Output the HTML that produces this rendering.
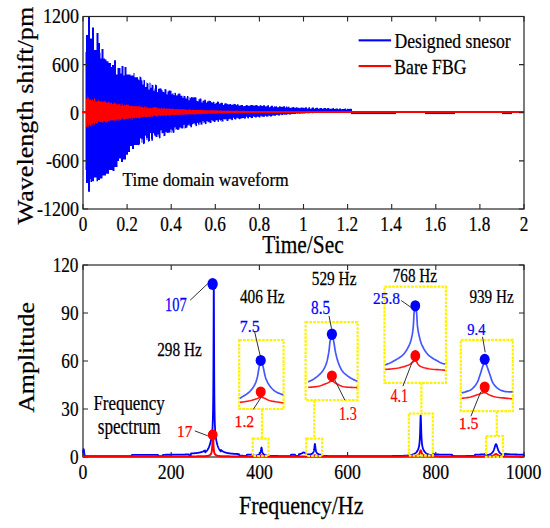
<!DOCTYPE html><html><head><meta charset="utf-8"><style>html,body{margin:0;padding:0;background:#fff;width:550px;height:528px;overflow:hidden;position:relative}svg text{font-family:"Liberation Serif",serif}</style></head><body><svg width="550" height="528" viewBox="0 0 550 528" style="position:absolute;left:0;top:0;font-family:'Liberation Serif', serif">
<rect width="550" height="528" fill="#fff"/>
<polygon points="85.50,52.00 86.00,52.00 86.00,35.00 86.50,35.00 86.50,35.00 87.00,35.00 87.00,35.00 87.50,35.00 87.50,35.00 88.00,35.00 88.00,16.50 88.50,16.50 88.50,16.50 89.00,16.50 89.00,16.50 89.50,16.50 89.50,16.50 90.00,16.50 90.00,38.40 90.50,38.40 90.50,38.40 91.00,38.40 91.00,38.40 91.50,38.40 91.50,38.40 92.00,38.40 92.00,27.40 92.50,27.40 92.50,27.40 93.00,27.40 93.00,27.40 93.50,27.40 93.50,27.40 94.00,27.40 94.00,50.00 94.50,50.00 94.50,50.00 95.00,50.00 95.00,50.00 95.50,50.00 95.50,50.00 96.00,50.00 96.00,50.00 96.50,50.00 96.50,33.00 97.00,33.00 97.00,33.00 97.50,33.00 97.50,33.00 98.00,33.00 98.00,33.00 98.50,33.00 98.50,43.00 99.00,43.00 99.00,43.00 99.50,43.00 99.50,43.00 100.00,43.00 100.00,52.70 100.50,52.70 100.50,58.40 101.00,58.40 101.00,58.40 101.50,58.40 101.50,48.90 102.00,48.90 102.00,48.90 102.50,48.90 102.50,48.90 103.00,48.90 103.00,48.90 103.50,48.90 103.50,58.40 104.00,58.40 104.00,58.40 104.50,58.40 104.50,58.40 105.00,58.40 105.00,59.50 105.50,59.50 105.50,59.50 106.00,59.50 106.00,59.50 106.50,59.50 106.50,61.20 107.00,61.20 107.00,61.20 107.50,61.20 107.50,61.20 108.00,61.20 108.00,61.20 108.50,61.20 108.50,63.10 109.00,63.10 109.00,63.10 109.50,63.10 109.50,63.10 110.00,63.10 110.00,63.10 110.50,63.10 110.50,63.10 111.00,63.10 111.00,67.00 111.50,67.00 111.50,67.00 112.00,67.00 112.00,65.00 112.50,65.00 112.50,65.00 113.00,65.00 113.00,65.00 113.50,65.00 113.50,65.00 114.00,65.00 114.00,60.30 114.50,60.30 114.50,60.30 115.00,60.30 115.00,60.30 115.50,60.30 115.50,60.30 116.00,60.30 116.00,74.50 116.50,74.50 116.50,74.50 117.00,74.50 117.00,74.50 117.50,74.50 117.50,67.90 118.00,67.90 118.00,67.90 118.50,67.90 118.50,67.90 119.00,67.90 119.00,67.90 119.50,67.90 119.50,67.90 120.00,67.90 120.00,67.90 120.50,67.90 120.50,73.60 121.00,73.60 121.00,73.60 121.50,73.60 121.50,66.00 122.00,66.00 122.00,66.00 122.50,66.00 122.50,66.00 123.00,66.00 123.00,66.00 123.50,66.00 123.50,75.40 124.00,75.40 124.00,75.40 124.50,75.40 124.50,67.00 125.00,67.00 125.00,67.00 125.50,67.00 125.50,67.00 126.00,67.00 126.00,67.00 126.50,67.00 126.50,74.50 127.00,74.50 127.00,74.50 127.50,74.50 127.50,74.50 128.00,74.50 128.00,74.50 128.50,74.50 128.50,74.50 129.00,74.50 129.00,74.50 129.50,74.50 129.50,74.50 130.00,74.50 130.00,74.50 130.50,74.50 130.50,75.50 131.00,75.50 131.00,75.50 131.50,75.50 131.50,75.50 132.00,75.50 132.00,75.50 132.50,75.50 132.50,75.50 133.00,75.50 133.00,75.50 133.50,75.50 133.50,73.00 134.00,73.00 134.00,73.00 134.50,73.00 134.50,77.30 135.00,77.30 135.00,77.30 135.50,77.30 135.50,77.30 136.00,77.30 136.00,77.30 136.50,77.30 136.50,77.30 137.00,77.30 137.00,77.30 137.50,77.30 137.50,77.30 138.00,77.30 138.00,78.74 138.50,78.74 138.50,80.04 139.00,80.04 139.00,80.29 139.50,80.29 139.50,76.55 140.00,76.55 140.00,76.83 140.50,76.83 140.50,77.11 141.00,77.11 141.00,77.39 141.50,77.39 141.50,80.33 142.00,80.33 142.00,80.58 142.50,80.58 142.50,84.40 143.00,84.40 143.00,84.62 143.50,84.62 143.50,79.63 144.00,79.63 144.00,79.88 144.50,79.88 144.50,80.14 145.00,80.14 145.00,86.88 145.50,86.88 145.50,87.08 146.00,87.08 146.00,87.10 146.50,87.10 146.50,82.57 147.00,82.57 147.00,82.96 147.50,82.96 147.50,83.19 148.00,83.19 148.00,83.42 148.50,83.42 148.50,89.56 149.00,89.56 149.00,89.73 149.50,89.73 149.50,82.62 150.00,82.62 150.00,82.85 150.50,82.85 150.50,87.67 151.00,87.67 151.00,87.86 151.50,87.86 151.50,84.59 152.00,84.59 152.00,84.80 152.50,84.80 152.50,85.02 153.00,85.02 153.00,85.23 153.50,85.23 153.50,90.63 154.00,90.63 154.00,90.80 154.50,90.80 154.50,88.59 155.00,88.59 155.00,84.57 155.50,84.57 155.50,84.78 156.00,84.78 156.00,85.00 156.50,85.00 156.50,85.21 157.00,85.21 157.00,92.12 157.50,92.12 157.50,92.27 158.00,92.27 158.00,88.45 158.50,88.45 158.50,88.94 159.00,88.94 159.00,89.12 159.50,89.12 159.50,88.00 160.00,88.00 160.00,88.23 160.50,88.23 160.50,88.42 161.00,88.42 161.00,88.60 161.50,88.60 161.50,89.72 162.00,89.72 162.00,89.89 162.50,89.89 162.50,91.69 163.00,91.69 163.00,91.85 163.50,91.85 163.50,92.05 164.00,92.05 164.00,92.20 164.50,92.20 164.50,88.90 165.00,88.90 165.00,89.08 165.50,89.08 165.50,89.26 166.00,89.26 166.00,89.44 166.50,89.44 166.50,94.29 167.00,94.29 167.00,94.43 167.50,94.43 167.50,91.40 168.00,91.40 168.00,91.56 168.50,91.56 168.50,90.60 169.00,90.60 169.00,90.77 169.50,90.77 169.50,90.31 170.00,90.31 170.00,90.48 170.50,90.48 170.50,90.65 171.00,90.65 171.00,90.82 171.50,90.82 171.50,94.15 172.00,94.15 172.00,94.29 172.50,94.29 172.50,93.01 173.00,93.01 173.00,93.16 173.50,93.16 173.50,95.12 174.00,95.12 174.00,95.25 174.50,95.25 174.50,92.69 175.00,92.69 175.00,92.84 175.50,92.84 175.50,93.00 176.00,93.00 176.00,95.42 176.50,95.42 176.50,95.28 177.00,95.28 177.00,95.41 177.50,95.41 177.50,93.99 178.00,93.99 178.00,94.13 178.50,94.13 178.50,93.33 179.00,93.33 179.00,93.47 179.50,93.47 179.50,93.62 180.00,93.62 180.00,93.76 180.50,93.76 180.50,95.80 181.00,95.80 181.00,95.92 181.50,95.92 181.50,95.50 182.00,95.50 182.00,95.63 182.50,95.63 182.50,97.72 183.00,97.72 183.00,97.83 183.50,97.83 183.50,95.81 184.00,95.81 184.00,95.94 184.50,95.94 184.50,96.06 185.00,96.06 185.00,96.19 185.50,96.19 185.50,98.60 186.00,98.60 186.00,98.70 186.50,98.70 186.50,97.43 187.00,97.43 187.00,95.99 187.50,95.99 187.50,96.12 188.00,96.12 188.00,96.24 188.50,96.24 188.50,100.25 189.00,100.25 189.00,100.34 189.50,100.34 189.50,97.48 190.00,97.48 190.00,97.60 190.50,97.60 190.50,98.35 191.00,98.35 191.00,97.03 191.50,97.03 191.50,97.15 192.00,97.15 192.00,97.26 192.50,97.26 192.50,97.38 193.00,97.38 193.00,97.49 193.50,97.49 193.50,97.29 194.00,97.29 194.00,97.40 194.50,97.40 194.50,97.10 195.00,97.10 195.00,97.21 195.50,97.21 195.50,97.33 196.00,97.33 196.00,97.44 196.50,97.44 196.50,100.81 197.00,100.81 197.00,100.90 197.50,100.90 197.50,101.29 198.00,101.29 198.00,101.38 198.50,101.38 198.50,99.36 199.00,99.36 199.00,99.46 199.50,99.46 199.50,98.41 200.00,98.41 200.00,98.52 200.50,98.52 200.50,98.62 201.00,98.62 201.00,98.73 201.50,98.73 201.50,102.42 202.00,102.42 202.00,102.49 202.50,102.49 202.50,100.77 203.00,100.77 203.00,100.86 203.50,100.86 203.50,100.43 204.00,100.43 204.00,100.52 204.50,100.52 204.50,99.56 205.00,99.56 205.00,99.66 205.50,99.66 205.50,99.76 206.00,99.76 206.00,102.60 206.50,102.60 206.50,102.67 207.00,102.67 207.00,101.34 207.50,101.34 207.50,101.45 208.00,101.45 208.00,101.53 208.50,101.53 208.50,100.60 209.00,100.60 209.00,100.70 209.50,100.70 209.50,100.79 210.00,100.79 210.00,100.88 210.50,100.88 210.50,100.96 211.00,100.96 211.00,102.11 211.50,102.11 211.50,102.45 212.00,102.45 212.00,102.52 212.50,102.52 212.50,102.42 213.00,102.42 213.00,101.72 213.50,101.72 213.50,101.80 214.00,101.80 214.00,101.88 214.50,101.88 214.50,103.90 215.00,103.90 215.00,103.96 215.50,103.96 215.50,103.05 216.00,103.05 216.00,103.12 216.50,103.12 216.50,102.85 217.00,102.85 217.00,101.54 217.50,101.54 217.50,101.62 218.00,101.62 218.00,101.70 218.50,101.70 218.50,101.78 219.00,101.78 219.00,103.80 219.50,103.80 219.50,103.48 220.00,103.48 220.00,103.55 220.50,103.55 220.50,102.69 221.00,102.69 221.00,102.66 221.50,102.66 221.50,102.74 222.00,102.74 222.00,102.81 222.50,102.81 222.50,102.88 223.00,102.88 223.00,105.05 223.50,105.05 223.50,105.11 224.00,105.11 224.00,104.16 224.50,104.16 224.50,103.16 225.00,103.16 225.00,103.23 225.50,103.23 225.50,103.30 226.00,103.30 226.00,103.37 226.50,103.37 226.50,103.80 227.00,103.80 227.00,103.86 227.50,103.86 227.50,104.20 228.00,104.20 228.00,104.26 228.50,104.26 228.50,104.41 229.00,104.41 229.00,104.47 229.50,104.47 229.50,103.94 230.00,103.94 230.00,104.00 230.50,104.00 230.50,104.04 231.00,104.04 231.00,105.03 231.50,105.03 231.50,104.53 232.00,104.53 232.00,104.56 232.50,104.56 232.50,104.71 233.00,104.71 233.00,104.74 233.50,104.74 233.50,103.86 234.00,103.86 234.00,103.90 234.50,103.90 234.50,103.93 235.00,103.93 235.00,103.97 235.50,103.97 235.50,104.61 236.00,104.61 236.00,104.64 236.50,104.64 236.50,105.34 237.00,105.34 237.00,104.31 237.50,104.31 237.50,104.34 238.00,104.34 238.00,104.37 238.50,104.37 238.50,105.53 239.00,105.53 239.00,105.56 239.50,105.56 239.50,105.70 240.00,105.70 240.00,105.72 240.50,105.72 240.50,104.96 241.00,104.96 241.00,104.99 241.50,104.99 241.50,104.93 242.00,104.93 242.00,104.95 242.50,104.95 242.50,104.98 243.00,104.98 243.00,106.34 243.50,106.34 243.50,106.37 244.00,106.37 244.00,105.91 244.50,105.91 244.50,105.89 245.00,105.89 245.00,105.91 245.50,105.91 245.50,105.55 246.00,105.55 246.00,104.88 246.50,104.88 246.50,104.91 247.00,104.91 247.00,104.93 247.50,104.93 247.50,105.56 248.00,105.56 248.00,105.58 248.50,105.58 248.50,105.91 249.00,105.91 249.00,105.93 249.50,105.93 249.50,105.44 250.00,105.44 250.00,105.46 250.50,105.46 250.50,105.05 251.00,105.05 251.00,105.07 251.50,105.07 251.50,105.09 252.00,105.09 252.00,105.11 252.50,105.11 252.50,105.20 253.00,105.20 253.00,105.22 253.50,105.22 253.50,105.81 254.00,105.81 254.00,105.82 254.50,105.82 254.50,105.53 255.00,105.53 255.00,105.54 255.50,105.54 255.50,104.88 256.00,104.88 256.00,104.90 256.50,104.90 256.50,104.92 257.00,104.92 257.00,104.93 257.50,104.93 257.50,106.09 258.00,106.09 258.00,106.11 258.50,106.11 258.50,106.16 259.00,106.16 259.00,106.18 259.50,106.18 259.50,105.16 260.00,105.16 260.00,105.17 260.50,105.17 260.50,105.19 261.00,105.19 261.00,105.20 261.50,105.20 261.50,105.97 262.00,105.97 262.00,105.98 262.50,105.98 262.50,106.02 263.00,106.02 263.00,105.27 263.50,105.27 263.50,105.28 264.00,105.28 264.00,105.30 264.50,105.30 264.50,105.31 265.00,105.31 265.00,106.09 265.50,106.09 265.50,106.66 266.00,106.66 266.00,106.67 266.50,106.67 266.50,105.66 267.00,105.66 267.00,105.67 267.50,105.67 267.50,105.22 268.00,105.22 268.00,105.23 268.50,105.23 268.50,105.24 269.00,105.24 269.00,107.24 269.50,107.24 269.50,107.25 270.00,107.25 270.00,106.27 270.50,106.27 270.50,106.81 271.00,106.81 271.00,105.70 271.50,105.70 271.50,105.73 272.00,105.73 272.00,105.77 272.50,105.77 272.50,105.80 273.00,105.80 273.00,107.16 273.50,107.16 273.50,107.19 274.00,107.19 274.00,105.97 274.50,105.97 274.50,106.86 275.00,106.86 275.00,106.89 275.50,106.89 275.50,106.10 276.00,106.10 276.00,106.13 276.50,106.13 276.50,106.16 277.00,106.16 277.00,107.15 277.50,107.15 277.50,107.18 278.00,107.18 278.00,107.23 278.50,107.23 278.50,107.25 279.00,107.25 279.00,106.20 279.50,106.20 279.50,106.23 280.00,106.23 280.00,106.26 280.50,106.26 280.50,106.83 281.00,106.83 281.00,106.86 281.50,106.86 281.50,106.99 282.00,106.99 282.00,107.01 282.50,107.01 282.50,106.45 283.00,106.45 283.00,106.48 283.50,106.48 283.50,106.15 284.00,106.15 284.00,106.18 284.50,106.18 284.50,106.20 285.00,106.20 285.00,107.46 285.50,107.46 285.50,107.48 286.00,107.48 286.00,106.62 286.50,106.62 286.50,106.61 287.00,106.61 287.00,106.64 287.50,106.64 287.50,107.62 288.00,107.62 288.00,106.82 288.50,106.82 288.50,106.84 289.00,106.84 289.00,106.87 289.50,106.87 289.50,107.90 290.00,107.90 290.00,107.92 290.50,107.92 290.50,107.68 291.00,107.68 291.00,107.70 291.50,107.70 291.50,107.60 292.00,107.60 292.00,107.62 292.50,107.62 292.50,107.07 293.00,107.07 293.00,107.09 293.50,107.09 293.50,107.11 294.00,107.11 294.00,107.13 294.50,107.13 294.50,107.92 295.00,107.92 295.00,107.94 295.50,107.94 295.50,107.46 296.00,107.46 296.00,107.15 296.50,107.15 296.50,107.17 297.00,107.17 297.00,107.19 297.50,107.19 297.50,108.09 298.00,108.09 298.00,108.11 298.50,108.11 298.50,107.62 299.00,107.62 299.00,107.64 299.50,107.64 299.50,108.18 300.00,108.18 300.00,108.19 300.50,108.19 300.50,107.42 301.00,107.42 301.00,107.44 301.50,107.44 301.50,107.46 302.00,107.46 302.00,107.48 302.50,107.48 302.50,107.69 303.00,107.69 303.00,107.70 303.50,107.70 303.50,107.84 304.00,107.84 304.00,107.86 304.50,107.86 304.50,108.29 305.00,108.29 305.00,107.32 305.50,107.32 305.50,107.34 306.00,107.34 306.00,107.36 306.50,107.36 306.50,107.38 307.00,107.38 307.00,108.61 307.50,108.61 307.50,108.63 308.00,108.63 308.00,108.13 308.50,108.13 308.50,107.29 309.00,107.29 309.00,107.31 309.50,107.31 309.50,107.32 310.00,107.32 310.00,108.71 310.50,108.71 310.50,108.72 311.00,108.72 311.00,107.69 311.50,107.69 311.50,108.64 312.00,108.64 312.00,107.48 312.50,107.48 312.50,107.50 313.00,107.50 313.00,107.52 313.50,107.52 313.50,107.53 314.00,107.53 314.00,108.75 314.50,108.75 314.50,108.76 315.00,108.76 315.00,108.26 315.50,108.26 315.50,108.06 316.00,108.06 316.00,108.07 316.50,108.07 316.50,107.62 317.00,107.62 317.00,107.64 317.50,107.64 317.50,107.65 318.00,107.65 318.00,108.77 318.50,108.77 318.50,108.78 319.00,108.78 319.00,108.19 319.50,108.19 319.50,108.54 320.00,108.54 320.00,107.89 320.50,107.89 320.50,107.91 321.00,107.91 321.00,107.92 321.50,107.92 321.50,107.94 322.00,107.94 322.00,108.75 322.50,108.75 322.50,108.76 323.00,108.76 323.00,108.55 323.50,108.55 323.50,108.20 324.00,108.20 324.00,108.01 324.50,108.01 324.50,108.03 325.00,108.03 325.00,108.04 325.50,108.04 325.50,108.05 326.00,108.05 326.00,108.82 326.50,108.82 326.50,108.83 327.00,108.83 327.00,108.27 327.50,108.27 327.50,107.90 328.00,107.90 328.00,107.92 328.50,107.92 328.50,107.93 329.00,107.93 329.00,108.60 329.50,108.60 329.50,108.77 330.00,108.77 330.00,108.78 330.50,108.78 330.50,108.76 331.00,108.76 331.00,108.78 331.50,108.78 331.50,108.79 332.00,108.79 332.00,108.80 332.50,108.80 332.50,108.07 333.00,108.07 333.00,108.09 333.50,108.09 333.50,108.10 334.00,108.10 334.00,109.07 334.50,109.07 334.50,109.08 335.00,109.08 335.00,108.69 335.50,108.69 335.50,108.68 336.00,108.68 336.00,108.49 336.50,108.49 336.50,108.50 337.00,108.50 337.00,108.51 337.50,108.51 337.50,108.52 338.00,108.52 338.00,109.21 338.50,109.21 338.50,109.22 339.00,109.22 339.00,108.51 339.50,108.51 339.50,108.49 340.00,108.49 340.00,108.50 340.50,108.50 340.50,108.51 341.00,108.51 341.00,109.29 341.50,109.29 341.50,109.29 342.00,109.29 342.00,108.89 342.50,108.89 342.50,108.93 343.00,108.93 343.00,108.94 343.50,108.94 343.50,108.93 344.00,108.93 344.00,108.94 344.50,108.94 344.50,108.54 345.00,108.54 345.00,108.55 345.50,108.55 345.50,108.56 346.00,108.56 346.00,109.40 346.50,109.40 346.50,109.41 347.00,109.41 347.00,108.71 347.50,108.71 347.50,108.63 348.00,108.63 348.00,108.64 348.50,108.64 348.50,109.05 349.00,109.05 349.00,109.06 349.50,109.06 349.50,108.71 350.00,108.71 350.00,108.72 350.50,108.72 350.50,108.73 351.00,108.73 351.00,109.01 351.50,109.01 351.50,108.84 352.00,108.84 352.00,113.00 351.50,113.00 351.50,113.00 351.00,113.00 351.00,113.00 350.50,113.00 350.50,113.00 350.00,113.00 350.00,113.00 349.50,113.00 349.50,113.00 349.00,113.00 349.00,113.00 348.50,113.00 348.50,113.00 348.00,113.00 348.00,113.00 347.50,113.00 347.50,113.00 347.00,113.00 347.00,113.00 346.50,113.00 346.50,113.00 346.00,113.00 346.00,113.00 345.50,113.00 345.50,113.00 345.00,113.00 345.00,113.00 344.50,113.00 344.50,113.00 344.00,113.00 344.00,113.00 343.50,113.00 343.50,113.00 343.00,113.00 343.00,113.00 342.50,113.00 342.50,113.00 342.00,113.00 342.00,113.00 341.50,113.00 341.50,113.00 341.00,113.00 341.00,113.00 340.50,113.00 340.50,113.00 340.00,113.00 340.00,113.00 339.50,113.00 339.50,113.00 339.00,113.00 339.00,113.00 338.50,113.00 338.50,113.00 338.00,113.00 338.00,113.00 337.50,113.00 337.50,113.00 337.00,113.00 337.00,113.00 336.50,113.00 336.50,113.00 336.00,113.00 336.00,113.00 335.50,113.00 335.50,113.00 335.00,113.00 335.00,113.00 334.50,113.00 334.50,113.00 334.00,113.00 334.00,113.00 333.50,113.00 333.50,113.00 333.00,113.00 333.00,113.00 332.50,113.00 332.50,113.00 332.00,113.00 332.00,113.00 331.50,113.00 331.50,113.00 331.00,113.00 331.00,113.00 330.50,113.00 330.50,113.00 330.00,113.00 330.00,113.00 329.50,113.00 329.50,113.00 329.00,113.00 329.00,113.00 328.50,113.00 328.50,113.00 328.00,113.00 328.00,113.00 327.50,113.00 327.50,113.00 327.00,113.00 327.00,113.00 326.50,113.00 326.50,113.00 326.00,113.00 326.00,113.00 325.50,113.00 325.50,113.00 325.00,113.00 325.00,113.00 324.50,113.00 324.50,113.00 324.00,113.00 324.00,113.00 323.50,113.00 323.50,113.00 323.00,113.00 323.00,113.00 322.50,113.00 322.50,113.00 322.00,113.00 322.00,113.00 321.50,113.00 321.50,113.00 321.00,113.00 321.00,113.00 320.50,113.00 320.50,113.00 320.00,113.00 320.00,113.00 319.50,113.00 319.50,113.00 319.00,113.00 319.00,113.00 318.50,113.00 318.50,113.00 318.00,113.00 318.00,113.00 317.50,113.00 317.50,113.00 317.00,113.00 317.00,113.00 316.50,113.00 316.50,113.00 316.00,113.00 316.00,113.00 315.50,113.00 315.50,113.00 315.00,113.00 315.00,113.00 314.50,113.00 314.50,113.00 314.00,113.00 314.00,113.08 313.50,113.08 313.50,113.11 313.00,113.11 313.00,113.13 312.50,113.13 312.50,113.15 312.00,113.15 312.00,113.00 311.50,113.00 311.50,113.00 311.00,113.00 311.00,113.00 310.50,113.00 310.50,113.07 310.00,113.07 310.00,113.22 309.50,113.22 309.50,113.24 309.00,113.24 309.00,113.27 308.50,113.27 308.50,113.16 308.00,113.16 308.00,113.19 307.50,113.19 307.50,113.20 307.00,113.20 307.00,113.22 306.50,113.22 306.50,113.07 306.00,113.07 306.00,113.09 305.50,113.09 305.50,113.40 305.00,113.40 305.00,113.42 304.50,113.42 304.50,113.45 304.00,113.45 304.00,113.39 303.50,113.39 303.50,113.41 303.00,113.41 303.00,113.44 302.50,113.44 302.50,113.39 302.00,113.39 302.00,113.42 301.50,113.42 301.50,113.55 301.00,113.55 301.00,113.57 300.50,113.57 300.50,113.68 300.00,113.68 300.00,113.71 299.50,113.71 299.50,113.74 299.00,113.74 299.00,113.60 298.50,113.60 298.50,113.55 298.00,113.55 298.00,113.58 297.50,113.58 297.50,113.99 297.00,113.99 297.00,113.53 296.50,113.53 296.50,113.56 296.00,113.56 296.00,113.96 295.50,113.96 295.50,113.99 295.00,113.99 295.00,114.02 294.50,114.02 294.50,114.06 294.00,114.06 294.00,114.06 293.50,114.06 293.50,113.91 293.00,113.91 293.00,113.94 292.50,113.94 292.50,113.96 292.00,113.96 292.00,113.99 291.50,113.99 291.50,114.03 291.00,114.03 291.00,114.45 290.50,114.45 290.50,114.48 290.00,114.48 290.00,114.52 289.50,114.52 289.50,114.38 289.00,114.38 289.00,114.42 288.50,114.42 288.50,113.95 288.00,113.95 288.00,113.98 287.50,113.98 287.50,114.68 287.00,114.68 287.00,114.72 286.50,114.72 286.50,114.77 286.00,114.77 286.00,114.81 285.50,114.81 285.50,114.59 285.00,114.59 285.00,114.63 284.50,114.63 284.50,114.52 284.00,114.52 284.00,114.39 283.50,114.39 283.50,114.42 283.00,114.42 283.00,115.04 282.50,115.04 282.50,115.09 282.00,115.09 282.00,115.13 281.50,115.13 281.50,114.84 281.00,114.84 281.00,114.51 280.50,114.51 280.50,114.55 280.00,114.55 280.00,115.41 279.50,115.41 279.50,115.47 279.00,115.47 279.00,115.52 278.50,115.52 278.50,115.57 278.00,115.57 278.00,114.84 277.50,114.84 277.50,115.37 277.00,115.37 277.00,115.00 276.50,115.00 276.50,115.04 276.00,115.04 276.00,115.69 275.50,115.69 275.50,115.74 275.00,115.74 275.00,115.79 274.50,115.79 274.50,115.73 274.00,115.73 274.00,115.79 273.50,115.79 273.50,115.56 273.00,115.56 273.00,115.38 272.50,115.38 272.50,115.43 272.00,115.43 272.00,116.40 271.50,116.40 271.50,116.46 271.00,116.46 271.00,116.52 270.50,116.52 270.50,116.58 270.00,116.58 270.00,116.03 269.50,116.03 269.50,115.49 269.00,115.49 269.00,115.52 268.50,115.52 268.50,116.55 268.00,116.55 268.00,116.59 267.50,116.59 267.50,116.62 267.00,116.62 267.00,116.66 266.50,116.66 266.50,116.44 266.00,116.44 266.00,115.84 265.50,115.84 265.50,115.87 265.00,115.87 265.00,116.67 264.50,116.67 264.50,116.70 264.00,116.70 264.00,116.74 263.50,116.74 263.50,116.78 263.00,116.78 263.00,116.50 262.50,116.50 262.50,116.82 262.00,116.82 262.00,116.86 261.50,116.86 261.50,115.80 261.00,115.80 261.00,115.82 260.50,115.82 260.50,117.35 260.00,117.35 260.00,117.39 259.50,117.39 259.50,117.43 259.00,117.43 259.00,117.24 258.50,117.24 258.50,116.80 258.00,116.80 258.00,116.83 257.50,116.83 257.50,116.42 257.00,116.42 257.00,117.34 256.50,117.34 256.50,117.38 256.00,117.38 256.00,117.42 255.50,117.42 255.50,117.46 255.00,117.46 255.00,116.87 254.50,116.87 254.50,117.00 254.00,117.00 254.00,116.57 253.50,116.57 253.50,116.60 253.00,116.60 253.00,118.00 252.50,118.00 252.50,118.04 252.00,118.04 252.00,118.09 251.50,118.09 251.50,118.14 251.00,118.14 251.00,117.38 250.50,117.38 250.50,117.33 250.00,117.33 250.00,116.88 249.50,116.88 249.50,116.91 249.00,116.91 249.00,118.33 248.50,118.33 248.50,118.38 248.00,118.38 248.00,118.43 247.50,118.43 247.50,117.83 247.00,117.83 247.00,116.73 246.50,116.73 246.50,116.77 246.00,116.77 246.00,118.50 245.50,118.50 245.50,118.55 245.00,118.55 245.00,118.61 244.50,118.61 244.50,118.66 244.00,118.66 244.00,118.03 243.50,118.03 243.50,117.90 243.00,117.90 243.00,117.94 242.50,117.94 242.50,118.16 242.00,118.16 242.00,118.21 241.50,118.21 241.50,118.49 241.00,118.49 241.00,118.54 240.50,118.54 240.50,119.10 240.00,119.10 240.00,119.16 239.50,119.16 239.50,119.21 239.00,119.21 239.00,118.55 238.50,118.55 238.50,118.49 238.00,118.49 238.00,118.54 237.50,118.54 237.50,117.63 237.00,117.63 237.00,117.68 236.50,117.68 236.50,119.35 236.00,119.35 236.00,119.40 235.50,119.40 235.50,119.46 235.00,119.46 235.00,119.13 234.50,119.13 234.50,118.96 234.00,118.96 234.00,117.78 233.50,117.78 233.50,117.82 233.00,117.82 233.00,120.10 232.50,120.10 232.50,120.16 232.00,120.16 232.00,120.23 231.50,120.23 231.50,119.45 231.00,119.45 231.00,119.51 230.50,119.51 230.50,118.76 230.00,118.76 230.00,118.81 229.50,118.81 229.50,119.19 229.00,119.19 229.00,119.25 228.50,119.25 228.50,120.82 228.00,120.82 228.00,120.89 227.50,120.89 227.50,120.95 227.00,120.95 227.00,121.02 226.50,121.02 226.50,119.26 226.00,119.26 226.00,119.32 225.50,119.32 225.50,119.59 225.00,119.59 225.00,119.65 224.50,119.65 224.50,118.96 224.00,118.96 224.00,119.01 223.50,119.01 223.50,121.42 223.00,121.42 223.00,121.50 222.50,121.50 222.50,121.57 222.00,121.57 222.00,121.65 221.50,121.65 221.50,120.08 221.00,120.08 221.00,120.14 220.50,120.14 220.50,120.92 220.00,120.92 220.00,119.73 219.50,119.73 219.50,119.79 219.00,119.79 219.00,121.63 218.50,121.63 218.50,121.71 218.00,121.71 218.00,121.79 217.50,121.79 217.50,120.15 217.00,120.15 217.00,120.21 216.50,120.21 216.50,120.35 216.00,120.35 216.00,120.41 215.50,120.41 215.50,122.04 215.00,122.04 215.00,122.12 214.50,122.12 214.50,122.20 214.00,122.20 214.00,121.55 213.50,121.55 213.50,121.29 213.00,121.29 213.00,121.36 212.50,121.36 212.50,120.25 212.00,120.25 212.00,120.32 211.50,120.32 211.50,122.91 211.00,122.91 211.00,122.99 210.50,122.99 210.50,123.08 210.00,123.08 210.00,123.17 209.50,123.17 209.50,121.81 209.00,121.81 209.00,121.89 208.50,121.89 208.50,122.14 208.00,122.14 208.00,122.22 207.50,122.22 207.50,121.11 207.00,121.11 207.00,121.18 206.50,121.18 206.50,123.95 206.00,123.95 206.00,124.05 205.50,124.05 205.50,124.14 205.00,124.14 205.00,122.21 204.50,122.21 204.50,123.24 204.00,123.24 204.00,123.33 203.50,123.33 203.50,121.28 203.00,121.28 203.00,121.35 202.50,121.35 202.50,124.49 202.00,124.49 202.00,124.59 201.50,124.59 201.50,124.69 201.00,124.69 201.00,124.79 200.50,124.79 200.50,122.49 200.00,122.49 200.00,122.58 199.50,122.58 199.50,125.07 199.00,125.07 199.00,125.17 198.50,125.17 198.50,124.21 198.00,124.21 198.00,122.83 197.50,122.83 197.50,122.92 197.00,122.92 197.00,126.10 196.50,126.10 196.50,126.21 196.00,126.21 196.00,126.32 195.50,126.32 195.50,124.44 195.00,124.44 195.00,124.54 194.50,124.54 194.50,123.05 194.00,123.05 194.00,123.13 193.50,123.13 193.50,124.11 193.00,124.11 193.00,124.20 192.50,124.20 192.50,124.55 192.00,124.55 192.00,127.24 191.50,127.24 191.50,127.36 191.00,127.36 191.00,127.48 190.50,127.48 190.50,125.92 190.00,125.92 190.00,126.03 189.50,126.03 189.50,124.61 189.00,124.61 189.00,124.71 188.50,124.71 188.50,125.47 188.00,125.47 188.00,125.58 187.50,125.58 187.50,127.58 187.00,127.58 187.00,127.70 186.50,127.70 186.50,127.82 186.00,127.82 186.00,127.95 185.50,127.95 185.50,128.48 185.00,128.48 185.00,128.61 184.50,128.61 184.50,124.85 184.00,124.85 184.00,124.95 183.50,124.95 183.50,128.30 183.00,128.30 183.00,128.43 182.50,128.43 182.50,128.56 182.00,128.56 182.00,128.69 181.50,128.69 181.50,128.00 181.00,128.00 181.00,128.13 180.50,128.13 180.50,127.33 180.00,127.33 180.00,127.45 179.50,127.45 179.50,129.52 179.00,129.52 179.00,129.66 178.50,129.66 178.50,129.72 178.00,129.72 178.00,129.86 177.50,129.86 177.50,130.01 177.00,130.01 177.00,129.08 176.50,129.08 176.50,129.56 176.00,129.56 176.00,129.70 175.50,129.70 175.50,127.35 175.00,127.35 175.00,127.47 174.50,127.47 174.50,132.59 174.00,132.59 174.00,132.75 173.50,132.75 173.50,132.92 173.00,132.92 173.00,130.55 172.50,130.55 172.50,132.58 172.00,132.58 172.00,132.74 171.50,132.74 171.50,129.39 171.00,129.39 171.00,129.53 170.50,129.53 170.50,132.46 170.00,132.46 170.00,132.62 169.50,132.62 169.50,132.78 169.00,132.78 169.00,132.95 168.50,132.95 168.50,132.49 168.00,132.49 168.00,132.65 167.50,132.65 167.50,132.92 167.00,132.92 167.00,133.09 166.50,133.09 166.50,131.82 166.00,131.82 166.00,131.98 165.50,131.98 165.50,135.71 165.00,135.71 165.00,135.89 164.50,135.89 164.50,136.08 164.00,136.08 164.00,136.28 163.50,136.28 163.50,132.99 163.00,132.99 163.00,133.16 162.50,133.16 162.50,133.18 162.00,133.18 162.00,133.34 161.50,133.34 161.50,130.33 161.00,130.33 161.00,130.48 160.50,130.48 160.50,137.97 160.00,137.97 160.00,138.18 159.50,138.18 159.50,138.39 159.00,138.39 159.00,136.72 158.50,136.72 158.50,134.40 158.00,134.40 158.00,134.58 157.50,134.58 157.50,136.94 157.00,136.94 157.00,136.91 156.50,136.91 156.50,137.11 156.00,137.11 156.00,137.31 155.50,137.31 155.50,135.86 155.00,135.86 155.00,136.05 154.50,136.05 154.50,134.66 154.00,134.66 154.00,133.16 153.50,133.16 153.50,133.33 153.00,133.33 153.00,140.56 152.50,140.56 152.50,140.78 152.00,140.78 152.00,141.01 151.50,141.01 151.50,139.30 151.00,139.30 151.00,133.04 150.50,133.04 150.50,133.21 150.00,133.21 150.00,141.06 149.50,141.06 149.50,141.29 149.00,141.29 149.00,141.52 148.50,141.52 148.50,141.75 148.00,141.75 148.00,139.99 147.50,139.99 147.50,137.74 147.00,137.74 147.00,137.95 146.50,137.95 146.50,139.91 146.00,139.91 146.00,135.54 145.50,135.54 145.50,135.73 145.00,135.73 145.00,143.60 144.50,143.60 144.50,143.85 144.00,143.85 144.00,144.11 143.50,144.11 143.50,144.36 143.00,144.36 143.00,139.34 142.50,139.34 142.50,142.39 142.00,142.39 142.00,142.63 141.50,142.63 141.50,138.85 141.00,138.85 141.00,138.21 140.50,138.21 140.50,138.42 140.00,138.42 140.00,144.38 139.50,144.38 139.50,144.64 139.00,144.64 139.00,144.90 138.50,144.90 138.50,145.16 138.00,145.16 138.00,145.00 137.50,145.00 137.50,145.00 137.00,145.00 137.00,145.00 136.50,145.00 136.50,145.00 136.00,145.00 136.00,145.00 135.50,145.00 135.50,145.00 135.00,145.00 135.00,145.00 134.50,145.00 134.50,145.00 134.00,145.00 134.00,149.00 133.50,149.00 133.50,149.00 133.00,149.00 133.00,149.00 132.50,149.00 132.50,149.00 132.00,149.00 132.00,146.00 131.50,146.00 131.50,146.00 131.00,146.00 131.00,146.00 130.50,146.00 130.50,146.00 130.00,146.00 130.00,152.00 129.50,152.00 129.50,152.00 129.00,152.00 129.00,152.00 128.50,152.00 128.50,152.00 128.00,152.00 128.00,154.70 127.50,154.70 127.50,154.70 127.00,154.70 127.00,154.70 126.50,154.70 126.50,154.70 126.00,154.70 126.00,159.50 125.50,159.50 125.50,159.50 125.00,159.50 125.00,159.50 124.50,159.50 124.50,159.50 124.00,159.50 124.00,159.50 123.50,159.50 123.50,159.50 123.00,159.50 123.00,162.00 122.50,162.00 122.50,162.00 122.00,162.00 122.00,162.00 121.50,162.00 121.50,162.00 121.00,162.00 121.00,158.50 120.50,158.50 120.50,158.50 120.00,158.50 120.00,158.50 119.50,158.50 119.50,158.50 119.00,158.50 119.00,161.00 118.50,161.00 118.50,161.00 118.00,161.00 118.00,161.00 117.50,161.00 117.50,167.00 117.00,167.00 117.00,167.00 116.50,167.00 116.50,167.00 116.00,167.00 116.00,167.00 115.50,167.00 115.50,167.00 115.00,167.00 115.00,167.00 114.50,167.00 114.50,171.00 114.00,171.00 114.00,171.00 113.50,171.00 113.50,171.00 113.00,171.00 113.00,171.00 112.50,171.00 112.50,169.90 112.00,169.90 112.00,169.90 111.50,169.90 111.50,169.90 111.00,169.90 111.00,169.90 110.50,169.90 110.50,169.90 110.00,169.90 110.00,169.90 109.50,169.90 109.50,169.90 109.00,169.90 109.00,173.70 108.50,173.70 108.50,173.70 108.00,173.70 108.00,173.70 107.50,173.70 107.50,173.70 107.00,173.70 107.00,173.70 106.50,173.70 106.50,173.70 106.00,173.70 106.00,175.60 105.50,175.60 105.50,175.60 105.00,175.60 105.00,175.60 104.50,175.60 104.50,175.60 104.00,175.60 104.00,175.60 103.50,175.60 103.50,175.60 103.00,175.60 103.00,175.60 102.50,175.60 102.50,178.40 102.00,178.40 102.00,178.40 101.50,178.40 101.50,178.40 101.00,178.40 101.00,178.40 100.50,178.40 100.50,178.40 100.00,178.40 100.00,180.00 99.50,180.00 99.50,180.00 99.00,180.00 99.00,180.00 98.50,180.00 98.50,180.00 98.00,180.00 98.00,181.30 97.50,181.30 97.50,181.30 97.00,181.30 97.00,181.30 96.50,181.30 96.50,177.50 96.00,177.50 96.00,177.50 95.50,177.50 95.50,177.50 95.00,177.50 95.00,177.50 94.50,177.50 94.50,177.50 94.00,177.50 94.00,181.30 93.50,181.30 93.50,181.30 93.00,181.30 93.00,181.30 92.50,181.30 92.50,181.30 92.00,181.30 92.00,182.00 91.50,182.00 91.50,182.00 91.00,182.00 91.00,182.00 90.50,182.00 90.50,179.00 90.00,179.00 90.00,191.70 89.50,191.70 89.50,191.70 89.00,191.70 89.00,191.70 88.50,191.70 88.50,191.70 88.00,191.70 88.00,183.00 87.50,183.00 87.50,183.00 87.00,183.00 87.00,183.00 86.50,183.00 86.50,183.00 86.00,183.00 86.00,170.00 85.50,170.00" fill="#0000ff"/>
<rect x="351" y="112.6" width="45" height="1.5" fill="#0000ff"/>
<rect x="425" y="112.6" width="30" height="1.5" fill="#0000ff"/>
<rect x="502" y="112.6" width="10" height="1.5" fill="#0000ff"/>
<polygon points="86.00,97.65 86.50,97.65 86.50,98.73 87.00,98.73 87.00,95.48 87.50,95.48 87.50,98.87 88.00,98.87 88.00,98.55 88.50,98.55 88.50,96.92 89.00,96.92 89.00,99.99 89.50,99.99 89.50,99.72 90.00,99.72 90.00,98.93 90.50,98.93 90.50,99.64 91.00,99.64 91.00,100.73 91.50,100.73 91.50,99.72 92.00,99.72 92.00,100.00 92.50,100.00 92.50,99.04 93.00,99.04 93.00,101.64 93.50,101.64 93.50,100.68 94.00,100.68 94.00,98.79 94.50,98.79 94.50,98.15 95.00,98.15 95.00,101.84 95.50,101.84 95.50,99.66 96.00,99.66 96.00,101.46 96.50,101.46 96.50,101.43 97.00,101.43 97.00,101.54 97.50,101.54 97.50,101.18 98.00,101.18 98.00,99.85 98.50,99.85 98.50,100.24 99.00,100.24 99.00,100.98 99.50,100.98 99.50,101.49 100.00,101.49 100.00,101.23 100.50,101.23 100.50,101.43 101.00,101.43 101.00,100.67 101.50,100.67 101.50,102.11 102.00,102.11 102.00,101.61 102.50,101.61 102.50,101.79 103.00,101.79 103.00,101.84 103.50,101.84 103.50,101.65 104.00,101.65 104.00,101.79 104.50,101.79 104.50,100.86 105.00,100.86 105.00,102.22 105.50,102.22 105.50,100.86 106.00,100.86 106.00,102.58 106.50,102.58 106.50,102.81 107.00,102.81 107.00,102.40 107.50,102.40 107.50,102.27 108.00,102.27 108.00,102.42 108.50,102.42 108.50,101.65 109.00,101.65 109.00,101.87 109.50,101.87 109.50,102.49 110.00,102.49 110.00,103.25 110.50,103.25 110.50,103.13 111.00,103.13 111.00,102.00 111.50,102.00 111.50,103.03 112.00,103.03 112.00,104.31 112.50,104.31 112.50,103.90 113.00,103.90 113.00,103.88 113.50,103.88 113.50,102.63 114.00,102.63 114.00,103.67 114.50,103.67 114.50,101.96 115.00,101.96 115.00,103.24 115.50,103.24 115.50,103.71 116.00,103.71 116.00,104.19 116.50,104.19 116.50,103.24 117.00,103.24 117.00,104.19 117.50,104.19 117.50,104.67 118.00,104.67 118.00,103.75 118.50,103.75 118.50,104.21 119.00,104.21 119.00,103.47 119.50,103.47 119.50,104.41 120.00,104.41 120.00,106.37 120.50,106.37 120.50,103.96 121.00,103.96 121.00,105.81 121.50,105.81 121.50,103.60 122.00,103.60 122.00,103.49 122.50,103.49 122.50,105.03 123.00,105.03 123.00,105.56 123.50,105.56 123.50,105.77 124.00,105.77 124.00,104.38 124.50,104.38 124.50,105.12 125.00,105.12 125.00,105.43 125.50,105.43 125.50,105.27 126.00,105.27 126.00,103.89 126.50,103.89 126.50,105.02 127.00,105.02 127.00,104.84 127.50,104.84 127.50,104.89 128.00,104.89 128.00,104.81 128.50,104.81 128.50,104.84 129.00,104.84 129.00,105.94 129.50,105.94 129.50,105.70 130.00,105.70 130.00,106.07 130.50,106.07 130.50,106.09 131.00,106.09 131.00,105.10 131.50,105.10 131.50,106.08 132.00,106.08 132.00,105.89 132.50,105.89 132.50,106.28 133.00,106.28 133.00,106.28 133.50,106.28 133.50,105.58 134.00,105.58 134.00,106.30 134.50,106.30 134.50,106.37 135.00,106.37 135.00,105.90 135.50,105.90 135.50,105.95 136.00,105.95 136.00,105.85 136.50,105.85 136.50,106.22 137.00,106.22 137.00,107.25 137.50,107.25 137.50,106.09 138.00,106.09 138.00,106.21 138.50,106.21 138.50,106.00 139.00,106.00 139.00,106.96 139.50,106.96 139.50,105.37 140.00,105.37 140.00,107.24 140.50,107.24 140.50,106.34 141.00,106.34 141.00,106.71 141.50,106.71 141.50,107.01 142.00,107.01 142.00,106.44 142.50,106.44 142.50,107.00 143.00,107.00 143.00,107.98 143.50,107.98 143.50,107.48 144.00,107.48 144.00,106.79 144.50,106.79 144.50,106.04 145.00,106.04 145.00,107.74 145.50,107.74 145.50,107.13 146.00,107.13 146.00,106.53 146.50,106.53 146.50,106.94 147.00,106.94 147.00,107.41 147.50,107.41 147.50,107.89 148.00,107.89 148.00,108.08 148.50,108.08 148.50,107.68 149.00,107.68 149.00,107.56 149.50,107.56 149.50,108.37 150.00,108.37 150.00,108.17 150.50,108.17 150.50,107.40 151.00,107.40 151.00,107.72 151.50,107.72 151.50,107.90 152.00,107.90 152.00,107.79 152.50,107.79 152.50,107.99 153.00,107.99 153.00,107.35 153.50,107.35 153.50,107.11 154.00,107.11 154.00,106.99 154.50,106.99 154.50,107.55 155.00,107.55 155.00,107.57 155.50,107.57 155.50,107.34 156.00,107.34 156.00,107.28 156.50,107.28 156.50,107.42 157.00,107.42 157.00,107.55 157.50,107.55 157.50,108.25 158.00,108.25 158.00,108.62 158.50,108.62 158.50,107.78 159.00,107.78 159.00,108.15 159.50,108.15 159.50,108.17 160.00,108.17 160.00,108.49 160.50,108.49 160.50,108.66 161.00,108.66 161.00,107.77 161.50,107.77 161.50,108.12 162.00,108.12 162.00,108.66 162.50,108.66 162.50,108.21 163.00,108.21 163.00,108.27 163.50,108.27 163.50,108.23 164.00,108.23 164.00,107.71 164.50,107.71 164.50,108.47 165.00,108.47 165.00,108.89 165.50,108.89 165.50,108.51 166.00,108.51 166.00,108.75 166.50,108.75 166.50,108.41 167.00,108.41 167.00,108.54 167.50,108.54 167.50,108.53 168.00,108.53 168.00,108.83 168.50,108.83 168.50,108.56 169.00,108.56 169.00,108.87 169.50,108.87 169.50,108.59 170.00,108.59 170.00,108.86 170.50,108.86 170.50,109.12 171.00,109.12 171.00,108.68 171.50,108.68 171.50,109.05 172.00,109.05 172.00,108.47 172.50,108.47 172.50,108.78 173.00,108.78 173.00,108.79 173.50,108.79 173.50,108.92 174.00,108.92 174.00,108.99 174.50,108.99 174.50,109.64 175.00,109.64 175.00,108.70 175.50,108.70 175.50,109.26 176.00,109.26 176.00,108.82 176.50,108.82 176.50,109.26 177.00,109.26 177.00,109.16 177.50,109.16 177.50,109.20 178.00,109.20 178.00,109.43 178.50,109.43 178.50,109.23 179.00,109.23 179.00,109.09 179.50,109.09 179.50,109.34 180.00,109.34 180.00,109.57 180.50,109.57 180.50,109.42 181.00,109.42 181.00,109.24 181.50,109.24 181.50,109.05 182.00,109.05 182.00,109.14 182.50,109.14 182.50,109.30 183.00,109.30 183.00,109.62 183.50,109.62 183.50,109.20 184.00,109.20 184.00,109.42 184.50,109.42 184.50,109.50 185.00,109.50 185.00,109.26 185.50,109.26 185.50,109.35 186.00,109.35 186.00,109.40 186.50,109.40 186.50,109.78 187.00,109.78 187.00,109.68 187.50,109.68 187.50,109.94 188.00,109.94 188.00,109.54 188.50,109.54 188.50,109.60 189.00,109.60 189.00,109.43 189.50,109.43 189.50,109.60 190.00,109.60 190.00,109.74 190.50,109.74 190.50,109.24 191.00,109.24 191.00,109.91 191.50,109.91 191.50,109.99 192.00,109.99 192.00,109.86 192.50,109.86 192.50,109.65 193.00,109.65 193.00,109.84 193.50,109.84 193.50,109.88 194.00,109.88 194.00,110.03 194.50,110.03 194.50,109.53 195.00,109.53 195.00,109.96 195.50,109.96 195.50,110.06 196.00,110.06 196.00,109.90 196.50,109.90 196.50,110.04 197.00,110.04 197.00,109.95 197.50,109.95 197.50,109.67 198.00,109.67 198.00,110.02 198.50,110.02 198.50,109.96 199.00,109.96 199.00,110.04 199.50,110.04 199.50,110.02 200.00,110.02 200.00,109.85 200.50,109.85 200.50,109.92 201.00,109.92 201.00,110.09 201.50,110.09 201.50,110.21 202.00,110.21 202.00,110.09 202.50,110.09 202.50,109.93 203.00,109.93 203.00,110.09 203.50,110.09 203.50,110.13 204.00,110.13 204.00,110.43 204.50,110.43 204.50,109.97 205.00,109.97 205.00,110.40 205.50,110.40 205.50,110.37 206.00,110.37 206.00,110.24 206.50,110.24 206.50,110.18 207.00,110.18 207.00,110.20 207.50,110.20 207.50,110.34 208.00,110.34 208.00,110.28 208.50,110.28 208.50,110.34 209.00,110.34 209.00,110.54 209.50,110.54 209.50,110.31 210.00,110.31 210.00,110.39 210.50,110.39 210.50,110.23 211.00,110.23 211.00,110.33 211.50,110.33 211.50,110.18 212.00,110.18 212.00,110.23 212.50,110.23 212.50,110.21 213.00,110.21 213.00,110.18 213.50,110.18 213.50,110.27 214.00,110.27 214.00,110.41 214.50,110.41 214.50,110.20 215.00,110.20 215.00,110.54 215.50,110.54 215.50,110.42 216.00,110.42 216.00,110.31 216.50,110.31 216.50,110.48 217.00,110.48 217.00,110.35 217.50,110.35 217.50,110.58 218.00,110.58 218.00,110.55 218.50,110.55 218.50,110.41 219.00,110.41 219.00,110.40 219.50,110.40 219.50,110.35 220.00,110.35 220.00,110.53 220.50,110.53 220.50,110.49 221.00,110.49 221.00,110.46 221.50,110.46 221.50,110.49 222.00,110.49 222.00,110.73 222.50,110.73 222.50,110.64 223.00,110.64 223.00,110.40 223.50,110.40 223.50,110.75 224.00,110.75 224.00,110.52 224.50,110.52 224.50,110.66 225.00,110.66 225.00,110.50 225.50,110.50 225.50,110.73 226.00,110.73 226.00,110.64 226.50,110.64 226.50,110.90 227.00,110.90 227.00,110.67 227.50,110.67 227.50,110.54 228.00,110.54 228.00,110.86 228.50,110.86 228.50,110.55 229.00,110.55 229.00,110.78 229.50,110.78 229.50,110.71 230.00,110.71 230.00,111.00 230.50,111.00 230.50,110.60 231.00,110.60 231.00,110.83 231.50,110.83 231.50,110.80 232.00,110.80 232.00,110.89 232.50,110.89 232.50,110.87 233.00,110.87 233.00,110.64 233.50,110.64 233.50,110.83 234.00,110.83 234.00,110.69 234.50,110.69 234.50,110.81 235.00,110.81 235.00,110.76 235.50,110.76 235.50,110.86 236.00,110.86 236.00,110.77 236.50,110.77 236.50,110.55 237.00,110.55 237.00,110.76 237.50,110.76 237.50,110.79 238.00,110.79 238.00,110.90 238.50,110.90 238.50,110.75 239.00,110.75 239.00,110.73 239.50,110.73 239.50,111.00 240.00,111.00 240.00,111.00 240.50,111.00 240.50,110.68 241.00,110.68 241.00,110.85 241.50,110.85 241.50,110.89 242.00,110.89 242.00,110.85 242.50,110.85 242.50,110.81 243.00,110.81 243.00,110.84 243.50,110.84 243.50,110.95 244.00,110.95 244.00,110.74 244.50,110.74 244.50,110.94 245.00,110.94 245.00,111.00 245.50,111.00 245.50,111.00 246.00,111.00 246.00,110.98 246.50,110.98 246.50,111.00 247.00,111.00 247.00,110.99 247.50,110.99 247.50,110.95 248.00,110.95 248.00,111.00 248.50,111.00 248.50,111.00 249.00,111.00 249.00,110.92 249.50,110.92 249.50,110.96 250.00,110.96 250.00,111.00 250.50,111.00 250.50,111.00 251.00,111.00 251.00,110.93 251.50,110.93 251.50,111.00 252.00,111.00 252.00,111.00 252.50,111.00 252.50,110.89 253.00,110.89 253.00,111.00 253.50,111.00 253.50,111.00 254.00,111.00 254.00,111.00 254.50,111.00 254.50,111.00 255.00,111.00 255.00,111.00 255.50,111.00 255.50,111.00 256.00,111.00 256.00,110.98 256.50,110.98 256.50,111.00 257.00,111.00 257.00,111.00 257.50,111.00 257.50,111.00 258.00,111.00 258.00,111.00 258.50,111.00 258.50,111.00 259.00,111.00 259.00,111.00 259.50,111.00 259.50,111.00 260.00,111.00 260.00,111.00 260.50,111.00 260.50,111.00 261.00,111.00 261.00,111.00 261.50,111.00 261.50,111.00 262.00,111.00 262.00,110.97 262.50,110.97 262.50,111.00 263.00,111.00 263.00,111.00 263.50,111.00 263.50,111.00 264.00,111.00 264.00,111.00 264.50,111.00 264.50,111.00 265.00,111.00 265.00,111.00 265.50,111.00 265.50,111.00 266.00,111.00 266.00,111.00 266.50,111.00 266.50,111.00 267.00,111.00 267.00,111.00 267.50,111.00 267.50,111.00 268.00,111.00 268.00,111.00 268.50,111.00 268.50,111.00 269.00,111.00 269.00,111.00 269.50,111.00 269.50,111.00 270.00,111.00 270.00,111.00 270.50,111.00 270.50,111.00 271.00,111.00 271.00,111.00 271.50,111.00 271.50,111.00 272.00,111.00 272.00,111.00 272.50,111.00 272.50,111.00 273.00,111.00 273.00,111.00 273.50,111.00 273.50,111.00 274.00,111.00 274.00,111.00 274.50,111.00 274.50,111.00 275.00,111.00 275.00,111.00 275.50,111.00 275.50,111.00 276.00,111.00 276.00,111.00 276.50,111.00 276.50,111.00 277.00,111.00 277.00,111.00 277.50,111.00 277.50,111.00 278.00,111.00 278.00,111.00 278.50,111.00 278.50,111.00 279.00,111.00 279.00,111.00 279.50,111.00 279.50,111.00 280.00,111.00 280.00,111.00 280.50,111.00 280.50,111.00 281.00,111.00 281.00,111.00 281.50,111.00 281.50,111.00 282.00,111.00 282.00,111.00 282.50,111.00 282.50,111.00 283.00,111.00 283.00,111.00 283.50,111.00 283.50,111.00 284.00,111.00 284.00,111.00 284.50,111.00 284.50,111.00 285.00,111.00 285.00,111.00 285.50,111.00 285.50,111.00 286.00,111.00 286.00,111.00 286.50,111.00 286.50,111.00 287.00,111.00 287.00,111.00 287.50,111.00 287.50,111.00 288.00,111.00 288.00,111.00 288.50,111.00 288.50,111.00 289.00,111.00 289.00,111.00 289.50,111.00 289.50,111.00 290.00,111.00 290.00,111.00 290.50,111.00 290.50,111.00 291.00,111.00 291.00,111.00 291.50,111.00 291.50,111.00 292.00,111.00 292.00,111.00 292.50,111.00 292.50,111.00 293.00,111.00 293.00,111.00 293.50,111.00 293.50,111.00 294.00,111.00 294.00,111.00 294.50,111.00 294.50,111.00 295.00,111.00 295.00,111.00 295.50,111.00 295.50,111.00 296.00,111.00 296.00,111.00 296.50,111.00 296.50,111.00 297.00,111.00 297.00,111.00 297.50,111.00 297.50,111.00 298.00,111.00 298.00,111.00 298.50,111.00 298.50,111.00 299.00,111.00 299.00,111.00 299.50,111.00 299.50,111.00 300.00,111.00 300.00,111.00 300.50,111.00 300.50,111.00 301.00,111.00 301.00,111.00 301.50,111.00 301.50,111.00 302.00,111.00 302.00,111.00 302.50,111.00 302.50,111.00 303.00,111.00 303.00,111.00 303.50,111.00 303.50,111.00 304.00,111.00 304.00,111.00 304.50,111.00 304.50,111.00 305.00,111.00 305.00,111.00 305.50,111.00 305.50,111.00 306.00,111.00 306.00,111.00 306.50,111.00 306.50,111.00 307.00,111.00 307.00,111.00 307.50,111.00 307.50,111.00 308.00,111.00 308.00,111.00 308.50,111.00 308.50,111.00 309.00,111.00 309.00,111.00 309.50,111.00 309.50,111.00 310.00,111.00 310.00,111.00 310.50,111.00 310.50,111.00 311.00,111.00 311.00,111.00 311.50,111.00 311.50,111.00 312.00,111.00 312.00,111.00 312.50,111.00 312.50,111.00 313.00,111.00 313.00,111.00 313.50,111.00 313.50,111.00 314.00,111.00 314.00,111.00 314.50,111.00 314.50,111.00 315.00,111.00 315.00,111.00 315.50,111.00 315.50,111.00 316.00,111.00 316.00,111.00 316.50,111.00 316.50,111.00 317.00,111.00 317.00,111.00 317.50,111.00 317.50,111.00 318.00,111.00 318.00,111.00 318.50,111.00 318.50,111.00 319.00,111.00 319.00,111.00 319.50,111.00 319.50,111.00 320.00,111.00 320.00,111.00 320.50,111.00 320.50,111.00 321.00,111.00 321.00,111.00 321.50,111.00 321.50,111.00 322.00,111.00 322.00,111.00 322.50,111.00 322.50,111.00 323.00,111.00 323.00,111.00 323.50,111.00 323.50,111.00 324.00,111.00 324.00,111.00 324.50,111.00 324.50,111.00 325.00,111.00 325.00,111.00 325.50,111.00 325.50,111.00 326.00,111.00 326.00,111.00 326.50,111.00 326.50,111.00 327.00,111.00 327.00,111.00 327.50,111.00 327.50,111.00 328.00,111.00 328.00,111.00 328.50,111.00 328.50,111.00 329.00,111.00 329.00,111.00 329.50,111.00 329.50,111.00 330.00,111.00 330.00,111.00 330.50,111.00 330.50,111.00 331.00,111.00 331.00,111.00 331.50,111.00 331.50,111.00 332.00,111.00 332.00,111.00 332.50,111.00 332.50,111.00 333.00,111.00 333.00,111.00 333.50,111.00 333.50,111.00 334.00,111.00 334.00,111.00 334.50,111.00 334.50,111.00 335.00,111.00 335.00,111.00 335.50,111.00 335.50,111.00 336.00,111.00 336.00,111.00 336.50,111.00 336.50,111.00 337.00,111.00 337.00,111.00 337.50,111.00 337.50,111.00 338.00,111.00 338.00,111.00 338.50,111.00 338.50,111.00 339.00,111.00 339.00,111.00 339.50,111.00 339.50,111.00 340.00,111.00 340.00,111.00 340.50,111.00 340.50,111.00 341.00,111.00 341.00,111.00 341.50,111.00 341.50,111.00 342.00,111.00 342.00,111.00 342.50,111.00 342.50,111.00 343.00,111.00 343.00,111.00 343.50,111.00 343.50,111.00 344.00,111.00 344.00,111.00 344.50,111.00 344.50,111.00 345.00,111.00 345.00,111.00 345.50,111.00 345.50,111.00 346.00,111.00 346.00,111.00 346.50,111.00 346.50,111.00 347.00,111.00 347.00,111.00 347.50,111.00 347.50,111.00 348.00,111.00 348.00,111.00 348.50,111.00 348.50,111.00 349.00,111.00 349.00,111.00 349.50,111.00 349.50,111.00 350.00,111.00 350.00,111.00 350.50,111.00 350.50,111.00 351.00,111.00 351.00,111.00 351.50,111.00 351.50,111.00 352.00,111.00 352.00,111.00 352.50,111.00 352.50,111.00 353.00,111.00 353.00,111.00 353.50,111.00 353.50,111.00 354.00,111.00 354.00,111.00 354.50,111.00 354.50,111.00 355.00,111.00 355.00,111.00 355.50,111.00 355.50,111.00 356.00,111.00 356.00,111.00 356.50,111.00 356.50,111.00 357.00,111.00 357.00,111.00 357.50,111.00 357.50,111.00 358.00,111.00 358.00,111.00 358.50,111.00 358.50,111.00 359.00,111.00 359.00,111.00 359.50,111.00 359.50,111.00 360.00,111.00 360.00,111.00 360.50,111.00 360.50,111.00 361.00,111.00 361.00,111.00 361.50,111.00 361.50,111.00 362.00,111.00 362.00,111.00 362.50,111.00 362.50,111.00 363.00,111.00 363.00,111.00 363.50,111.00 363.50,111.00 364.00,111.00 364.00,111.00 364.50,111.00 364.50,111.00 365.00,111.00 365.00,111.00 365.50,111.00 365.50,111.00 366.00,111.00 366.00,111.00 366.50,111.00 366.50,111.00 367.00,111.00 367.00,111.00 367.50,111.00 367.50,111.00 368.00,111.00 368.00,111.00 368.50,111.00 368.50,111.00 369.00,111.00 369.00,111.00 369.50,111.00 369.50,111.00 370.00,111.00 370.00,111.00 370.50,111.00 370.50,111.00 371.00,111.00 371.00,111.00 371.50,111.00 371.50,111.00 372.00,111.00 372.00,111.00 372.50,111.00 372.50,111.00 373.00,111.00 373.00,111.00 373.50,111.00 373.50,111.00 374.00,111.00 374.00,111.00 374.50,111.00 374.50,111.00 375.00,111.00 375.00,111.00 375.50,111.00 375.50,111.00 376.00,111.00 376.00,111.00 376.50,111.00 376.50,111.00 377.00,111.00 377.00,111.00 377.50,111.00 377.50,111.00 378.00,111.00 378.00,111.00 378.50,111.00 378.50,111.00 379.00,111.00 379.00,111.00 379.50,111.00 379.50,111.00 380.00,111.00 380.00,111.00 380.50,111.00 380.50,111.00 381.00,111.00 381.00,111.00 381.50,111.00 381.50,111.00 382.00,111.00 382.00,111.00 382.50,111.00 382.50,111.00 383.00,111.00 383.00,111.00 383.50,111.00 383.50,111.00 384.00,111.00 384.00,111.00 384.50,111.00 384.50,111.00 385.00,111.00 385.00,111.00 385.50,111.00 385.50,111.00 386.00,111.00 386.00,111.00 386.50,111.00 386.50,111.00 387.00,111.00 387.00,111.00 387.50,111.00 387.50,111.00 388.00,111.00 388.00,111.00 388.50,111.00 388.50,111.00 389.00,111.00 389.00,111.00 389.50,111.00 389.50,111.00 390.00,111.00 390.00,111.00 390.50,111.00 390.50,111.00 391.00,111.00 391.00,111.00 391.50,111.00 391.50,111.00 392.00,111.00 392.00,111.00 392.50,111.00 392.50,111.00 393.00,111.00 393.00,111.00 393.50,111.00 393.50,111.00 394.00,111.00 394.00,111.00 394.50,111.00 394.50,111.00 395.00,111.00 395.00,111.00 395.50,111.00 395.50,111.00 396.00,111.00 396.00,111.00 396.50,111.00 396.50,111.00 397.00,111.00 397.00,111.00 397.50,111.00 397.50,111.00 398.00,111.00 398.00,111.00 398.50,111.00 398.50,111.00 399.00,111.00 399.00,111.00 399.50,111.00 399.50,111.00 400.00,111.00 400.00,111.00 400.50,111.00 400.50,111.00 401.00,111.00 401.00,111.00 401.50,111.00 401.50,111.00 402.00,111.00 402.00,111.00 402.50,111.00 402.50,111.00 403.00,111.00 403.00,111.00 403.50,111.00 403.50,111.00 404.00,111.00 404.00,111.00 404.50,111.00 404.50,111.00 405.00,111.00 405.00,111.00 405.50,111.00 405.50,111.00 406.00,111.00 406.00,111.00 406.50,111.00 406.50,111.00 407.00,111.00 407.00,111.00 407.50,111.00 407.50,111.00 408.00,111.00 408.00,111.00 408.50,111.00 408.50,111.00 409.00,111.00 409.00,111.00 409.50,111.00 409.50,111.00 410.00,111.00 410.00,111.00 410.50,111.00 410.50,111.00 411.00,111.00 411.00,111.00 411.50,111.00 411.50,111.00 412.00,111.00 412.00,111.00 412.50,111.00 412.50,111.00 413.00,111.00 413.00,111.00 413.50,111.00 413.50,111.00 414.00,111.00 414.00,111.00 414.50,111.00 414.50,111.00 415.00,111.00 415.00,111.00 415.50,111.00 415.50,111.00 416.00,111.00 416.00,111.00 416.50,111.00 416.50,111.00 417.00,111.00 417.00,111.00 417.50,111.00 417.50,111.00 418.00,111.00 418.00,111.00 418.50,111.00 418.50,111.00 419.00,111.00 419.00,111.00 419.50,111.00 419.50,111.00 420.00,111.00 420.00,111.00 420.50,111.00 420.50,111.00 421.00,111.00 421.00,111.00 421.50,111.00 421.50,111.00 422.00,111.00 422.00,111.00 422.50,111.00 422.50,111.00 423.00,111.00 423.00,111.00 423.50,111.00 423.50,111.00 424.00,111.00 424.00,111.00 424.50,111.00 424.50,111.00 425.00,111.00 425.00,111.00 425.50,111.00 425.50,111.00 426.00,111.00 426.00,111.00 426.50,111.00 426.50,111.00 427.00,111.00 427.00,111.00 427.50,111.00 427.50,111.00 428.00,111.00 428.00,111.00 428.50,111.00 428.50,111.00 429.00,111.00 429.00,111.00 429.50,111.00 429.50,111.00 430.00,111.00 430.00,111.00 430.50,111.00 430.50,111.00 431.00,111.00 431.00,111.00 431.50,111.00 431.50,111.00 432.00,111.00 432.00,111.00 432.50,111.00 432.50,111.00 433.00,111.00 433.00,111.00 433.50,111.00 433.50,111.00 434.00,111.00 434.00,111.00 434.50,111.00 434.50,111.00 435.00,111.00 435.00,111.00 435.50,111.00 435.50,111.00 436.00,111.00 436.00,111.00 436.50,111.00 436.50,111.00 437.00,111.00 437.00,111.00 437.50,111.00 437.50,111.00 438.00,111.00 438.00,111.00 438.50,111.00 438.50,111.00 439.00,111.00 439.00,111.00 439.50,111.00 439.50,111.00 440.00,111.00 440.00,111.00 440.50,111.00 440.50,111.00 441.00,111.00 441.00,111.00 441.50,111.00 441.50,111.00 442.00,111.00 442.00,111.00 442.50,111.00 442.50,111.00 443.00,111.00 443.00,111.00 443.50,111.00 443.50,111.00 444.00,111.00 444.00,111.00 444.50,111.00 444.50,111.00 445.00,111.00 445.00,111.00 445.50,111.00 445.50,111.00 446.00,111.00 446.00,111.00 446.50,111.00 446.50,111.00 447.00,111.00 447.00,111.00 447.50,111.00 447.50,111.00 448.00,111.00 448.00,111.00 448.50,111.00 448.50,111.00 449.00,111.00 449.00,111.00 449.50,111.00 449.50,111.00 450.00,111.00 450.00,111.00 450.50,111.00 450.50,111.00 451.00,111.00 451.00,111.00 451.50,111.00 451.50,111.00 452.00,111.00 452.00,111.00 452.50,111.00 452.50,111.00 453.00,111.00 453.00,111.00 453.50,111.00 453.50,111.00 454.00,111.00 454.00,111.00 454.50,111.00 454.50,111.00 455.00,111.00 455.00,111.00 455.50,111.00 455.50,111.00 456.00,111.00 456.00,111.00 456.50,111.00 456.50,111.00 457.00,111.00 457.00,111.00 457.50,111.00 457.50,111.00 458.00,111.00 458.00,111.00 458.50,111.00 458.50,111.00 459.00,111.00 459.00,111.00 459.50,111.00 459.50,111.00 460.00,111.00 460.00,111.00 460.50,111.00 460.50,111.00 461.00,111.00 461.00,111.00 461.50,111.00 461.50,111.00 462.00,111.00 462.00,111.00 462.50,111.00 462.50,111.00 463.00,111.00 463.00,111.00 463.50,111.00 463.50,111.00 464.00,111.00 464.00,111.00 464.50,111.00 464.50,111.00 465.00,111.00 465.00,111.00 465.50,111.00 465.50,111.00 466.00,111.00 466.00,111.00 466.50,111.00 466.50,111.00 467.00,111.00 467.00,111.00 467.50,111.00 467.50,111.00 468.00,111.00 468.00,111.00 468.50,111.00 468.50,111.00 469.00,111.00 469.00,111.00 469.50,111.00 469.50,111.00 470.00,111.00 470.00,111.00 470.50,111.00 470.50,111.00 471.00,111.00 471.00,111.00 471.50,111.00 471.50,111.00 472.00,111.00 472.00,111.00 472.50,111.00 472.50,111.00 473.00,111.00 473.00,111.00 473.50,111.00 473.50,111.00 474.00,111.00 474.00,111.00 474.50,111.00 474.50,111.00 475.00,111.00 475.00,111.00 475.50,111.00 475.50,111.00 476.00,111.00 476.00,111.00 476.50,111.00 476.50,111.00 477.00,111.00 477.00,111.00 477.50,111.00 477.50,111.00 478.00,111.00 478.00,111.00 478.50,111.00 478.50,111.00 479.00,111.00 479.00,111.00 479.50,111.00 479.50,111.00 480.00,111.00 480.00,111.00 480.50,111.00 480.50,111.00 481.00,111.00 481.00,111.00 481.50,111.00 481.50,111.00 482.00,111.00 482.00,111.00 482.50,111.00 482.50,111.00 483.00,111.00 483.00,111.00 483.50,111.00 483.50,111.00 484.00,111.00 484.00,111.00 484.50,111.00 484.50,111.00 485.00,111.00 485.00,111.00 485.50,111.00 485.50,111.00 486.00,111.00 486.00,111.00 486.50,111.00 486.50,111.00 487.00,111.00 487.00,111.00 487.50,111.00 487.50,111.00 488.00,111.00 488.00,111.00 488.50,111.00 488.50,111.00 489.00,111.00 489.00,111.00 489.50,111.00 489.50,111.00 490.00,111.00 490.00,111.00 490.50,111.00 490.50,111.00 491.00,111.00 491.00,111.00 491.50,111.00 491.50,111.00 492.00,111.00 492.00,111.00 492.50,111.00 492.50,111.00 493.00,111.00 493.00,111.00 493.50,111.00 493.50,111.00 494.00,111.00 494.00,111.00 494.50,111.00 494.50,111.00 495.00,111.00 495.00,111.00 495.50,111.00 495.50,111.00 496.00,111.00 496.00,111.00 496.50,111.00 496.50,111.00 497.00,111.00 497.00,111.00 497.50,111.00 497.50,111.00 498.00,111.00 498.00,111.00 498.50,111.00 498.50,111.00 499.00,111.00 499.00,111.00 499.50,111.00 499.50,111.00 500.00,111.00 500.00,111.00 500.50,111.00 500.50,111.00 501.00,111.00 501.00,111.00 501.50,111.00 501.50,111.00 502.00,111.00 502.00,111.00 502.50,111.00 502.50,111.00 503.00,111.00 503.00,111.00 503.50,111.00 503.50,111.00 504.00,111.00 504.00,111.00 504.50,111.00 504.50,111.00 505.00,111.00 505.00,111.00 505.50,111.00 505.50,111.00 506.00,111.00 506.00,111.00 506.50,111.00 506.50,111.00 507.00,111.00 507.00,111.00 507.50,111.00 507.50,111.00 508.00,111.00 508.00,111.00 508.50,111.00 508.50,111.00 509.00,111.00 509.00,111.00 509.50,111.00 509.50,111.00 510.00,111.00 510.00,111.00 510.50,111.00 510.50,111.00 511.00,111.00 511.00,111.00 511.50,111.00 511.50,111.00 512.00,111.00 512.00,111.00 512.50,111.00 512.50,111.00 513.00,111.00 513.00,111.00 513.50,111.00 513.50,111.00 514.00,111.00 514.00,111.00 514.50,111.00 514.50,111.00 515.00,111.00 515.00,111.00 515.50,111.00 515.50,111.00 516.00,111.00 516.00,111.00 516.50,111.00 516.50,111.00 517.00,111.00 517.00,111.00 517.50,111.00 517.50,111.00 518.00,111.00 518.00,111.00 518.50,111.00 518.50,111.00 519.00,111.00 519.00,111.00 519.50,111.00 519.50,111.00 520.00,111.00 520.00,111.00 520.50,111.00 520.50,111.00 521.00,111.00 521.00,111.00 521.50,111.00 521.50,111.00 522.00,111.00 522.00,111.00 522.50,111.00 522.50,111.00 523.00,111.00 523.00,111.00 523.50,111.00 523.50,111.00 524.00,111.00 524.00,113.00 523.50,113.00 523.50,113.00 523.00,113.00 523.00,113.00 522.50,113.00 522.50,113.00 522.00,113.00 522.00,113.00 521.50,113.00 521.50,113.00 521.00,113.00 521.00,113.00 520.50,113.00 520.50,113.00 520.00,113.00 520.00,113.00 519.50,113.00 519.50,113.00 519.00,113.00 519.00,113.00 518.50,113.00 518.50,113.00 518.00,113.00 518.00,113.00 517.50,113.00 517.50,113.00 517.00,113.00 517.00,113.00 516.50,113.00 516.50,113.00 516.00,113.00 516.00,113.00 515.50,113.00 515.50,113.00 515.00,113.00 515.00,113.00 514.50,113.00 514.50,113.00 514.00,113.00 514.00,113.00 513.50,113.00 513.50,113.00 513.00,113.00 513.00,113.00 512.50,113.00 512.50,113.00 512.00,113.00 512.00,113.00 511.50,113.00 511.50,113.00 511.00,113.00 511.00,113.00 510.50,113.00 510.50,113.00 510.00,113.00 510.00,113.00 509.50,113.00 509.50,113.00 509.00,113.00 509.00,113.00 508.50,113.00 508.50,113.00 508.00,113.00 508.00,113.00 507.50,113.00 507.50,113.00 507.00,113.00 507.00,113.00 506.50,113.00 506.50,113.00 506.00,113.00 506.00,113.00 505.50,113.00 505.50,113.00 505.00,113.00 505.00,113.00 504.50,113.00 504.50,113.00 504.00,113.00 504.00,113.00 503.50,113.00 503.50,113.00 503.00,113.00 503.00,113.00 502.50,113.00 502.50,113.00 502.00,113.00 502.00,113.00 501.50,113.00 501.50,113.00 501.00,113.00 501.00,113.00 500.50,113.00 500.50,113.00 500.00,113.00 500.00,113.00 499.50,113.00 499.50,113.00 499.00,113.00 499.00,113.00 498.50,113.00 498.50,113.00 498.00,113.00 498.00,113.00 497.50,113.00 497.50,113.00 497.00,113.00 497.00,113.00 496.50,113.00 496.50,113.00 496.00,113.00 496.00,113.00 495.50,113.00 495.50,113.00 495.00,113.00 495.00,113.00 494.50,113.00 494.50,113.00 494.00,113.00 494.00,113.00 493.50,113.00 493.50,113.00 493.00,113.00 493.00,113.00 492.50,113.00 492.50,113.00 492.00,113.00 492.00,113.00 491.50,113.00 491.50,113.00 491.00,113.00 491.00,113.00 490.50,113.00 490.50,113.00 490.00,113.00 490.00,113.00 489.50,113.00 489.50,113.00 489.00,113.00 489.00,113.00 488.50,113.00 488.50,113.00 488.00,113.00 488.00,113.00 487.50,113.00 487.50,113.00 487.00,113.00 487.00,113.00 486.50,113.00 486.50,113.00 486.00,113.00 486.00,113.00 485.50,113.00 485.50,113.00 485.00,113.00 485.00,113.00 484.50,113.00 484.50,113.00 484.00,113.00 484.00,113.00 483.50,113.00 483.50,113.00 483.00,113.00 483.00,113.00 482.50,113.00 482.50,113.00 482.00,113.00 482.00,113.00 481.50,113.00 481.50,113.00 481.00,113.00 481.00,113.00 480.50,113.00 480.50,113.00 480.00,113.00 480.00,113.00 479.50,113.00 479.50,113.00 479.00,113.00 479.00,113.00 478.50,113.00 478.50,113.00 478.00,113.00 478.00,113.00 477.50,113.00 477.50,113.00 477.00,113.00 477.00,113.00 476.50,113.00 476.50,113.00 476.00,113.00 476.00,113.00 475.50,113.00 475.50,113.00 475.00,113.00 475.00,113.00 474.50,113.00 474.50,113.00 474.00,113.00 474.00,113.00 473.50,113.00 473.50,113.00 473.00,113.00 473.00,113.00 472.50,113.00 472.50,113.00 472.00,113.00 472.00,113.00 471.50,113.00 471.50,113.00 471.00,113.00 471.00,113.00 470.50,113.00 470.50,113.00 470.00,113.00 470.00,113.00 469.50,113.00 469.50,113.00 469.00,113.00 469.00,113.00 468.50,113.00 468.50,113.00 468.00,113.00 468.00,113.00 467.50,113.00 467.50,113.00 467.00,113.00 467.00,113.00 466.50,113.00 466.50,113.00 466.00,113.00 466.00,113.00 465.50,113.00 465.50,113.00 465.00,113.00 465.00,113.00 464.50,113.00 464.50,113.00 464.00,113.00 464.00,113.00 463.50,113.00 463.50,113.00 463.00,113.00 463.00,113.00 462.50,113.00 462.50,113.00 462.00,113.00 462.00,113.00 461.50,113.00 461.50,113.00 461.00,113.00 461.00,113.00 460.50,113.00 460.50,113.00 460.00,113.00 460.00,113.00 459.50,113.00 459.50,113.00 459.00,113.00 459.00,113.00 458.50,113.00 458.50,113.00 458.00,113.00 458.00,113.00 457.50,113.00 457.50,113.00 457.00,113.00 457.00,113.00 456.50,113.00 456.50,113.00 456.00,113.00 456.00,113.00 455.50,113.00 455.50,113.00 455.00,113.00 455.00,113.00 454.50,113.00 454.50,113.00 454.00,113.00 454.00,113.00 453.50,113.00 453.50,113.00 453.00,113.00 453.00,113.00 452.50,113.00 452.50,113.00 452.00,113.00 452.00,113.00 451.50,113.00 451.50,113.00 451.00,113.00 451.00,113.00 450.50,113.00 450.50,113.00 450.00,113.00 450.00,113.00 449.50,113.00 449.50,113.00 449.00,113.00 449.00,113.00 448.50,113.00 448.50,113.00 448.00,113.00 448.00,113.00 447.50,113.00 447.50,113.00 447.00,113.00 447.00,113.00 446.50,113.00 446.50,113.00 446.00,113.00 446.00,113.00 445.50,113.00 445.50,113.00 445.00,113.00 445.00,113.00 444.50,113.00 444.50,113.00 444.00,113.00 444.00,113.00 443.50,113.00 443.50,113.00 443.00,113.00 443.00,113.00 442.50,113.00 442.50,113.00 442.00,113.00 442.00,113.00 441.50,113.00 441.50,113.00 441.00,113.00 441.00,113.00 440.50,113.00 440.50,113.00 440.00,113.00 440.00,113.00 439.50,113.00 439.50,113.00 439.00,113.00 439.00,113.00 438.50,113.00 438.50,113.00 438.00,113.00 438.00,113.00 437.50,113.00 437.50,113.00 437.00,113.00 437.00,113.00 436.50,113.00 436.50,113.00 436.00,113.00 436.00,113.00 435.50,113.00 435.50,113.00 435.00,113.00 435.00,113.00 434.50,113.00 434.50,113.00 434.00,113.00 434.00,113.00 433.50,113.00 433.50,113.00 433.00,113.00 433.00,113.00 432.50,113.00 432.50,113.00 432.00,113.00 432.00,113.00 431.50,113.00 431.50,113.00 431.00,113.00 431.00,113.00 430.50,113.00 430.50,113.00 430.00,113.00 430.00,113.00 429.50,113.00 429.50,113.00 429.00,113.00 429.00,113.00 428.50,113.00 428.50,113.00 428.00,113.00 428.00,113.00 427.50,113.00 427.50,113.00 427.00,113.00 427.00,113.00 426.50,113.00 426.50,113.00 426.00,113.00 426.00,113.00 425.50,113.00 425.50,113.00 425.00,113.00 425.00,113.00 424.50,113.00 424.50,113.00 424.00,113.00 424.00,113.00 423.50,113.00 423.50,113.00 423.00,113.00 423.00,113.00 422.50,113.00 422.50,113.00 422.00,113.00 422.00,113.00 421.50,113.00 421.50,113.00 421.00,113.00 421.00,113.00 420.50,113.00 420.50,113.00 420.00,113.00 420.00,113.00 419.50,113.00 419.50,113.00 419.00,113.00 419.00,113.00 418.50,113.00 418.50,113.00 418.00,113.00 418.00,113.00 417.50,113.00 417.50,113.00 417.00,113.00 417.00,113.00 416.50,113.00 416.50,113.00 416.00,113.00 416.00,113.00 415.50,113.00 415.50,113.00 415.00,113.00 415.00,113.00 414.50,113.00 414.50,113.00 414.00,113.00 414.00,113.00 413.50,113.00 413.50,113.00 413.00,113.00 413.00,113.00 412.50,113.00 412.50,113.00 412.00,113.00 412.00,113.00 411.50,113.00 411.50,113.00 411.00,113.00 411.00,113.00 410.50,113.00 410.50,113.00 410.00,113.00 410.00,113.00 409.50,113.00 409.50,113.00 409.00,113.00 409.00,113.00 408.50,113.00 408.50,113.00 408.00,113.00 408.00,113.00 407.50,113.00 407.50,113.00 407.00,113.00 407.00,113.00 406.50,113.00 406.50,113.00 406.00,113.00 406.00,113.00 405.50,113.00 405.50,113.00 405.00,113.00 405.00,113.00 404.50,113.00 404.50,113.00 404.00,113.00 404.00,113.00 403.50,113.00 403.50,113.00 403.00,113.00 403.00,113.00 402.50,113.00 402.50,113.00 402.00,113.00 402.00,113.00 401.50,113.00 401.50,113.00 401.00,113.00 401.00,113.00 400.50,113.00 400.50,113.00 400.00,113.00 400.00,113.00 399.50,113.00 399.50,113.00 399.00,113.00 399.00,113.00 398.50,113.00 398.50,113.00 398.00,113.00 398.00,113.00 397.50,113.00 397.50,113.00 397.00,113.00 397.00,113.00 396.50,113.00 396.50,113.00 396.00,113.00 396.00,113.00 395.50,113.00 395.50,113.00 395.00,113.00 395.00,113.00 394.50,113.00 394.50,113.00 394.00,113.00 394.00,113.00 393.50,113.00 393.50,113.00 393.00,113.00 393.00,113.00 392.50,113.00 392.50,113.00 392.00,113.00 392.00,113.00 391.50,113.00 391.50,113.00 391.00,113.00 391.00,113.00 390.50,113.00 390.50,113.00 390.00,113.00 390.00,113.00 389.50,113.00 389.50,113.00 389.00,113.00 389.00,113.00 388.50,113.00 388.50,113.00 388.00,113.00 388.00,113.00 387.50,113.00 387.50,113.00 387.00,113.00 387.00,113.00 386.50,113.00 386.50,113.00 386.00,113.00 386.00,113.00 385.50,113.00 385.50,113.00 385.00,113.00 385.00,113.00 384.50,113.00 384.50,113.00 384.00,113.00 384.00,113.00 383.50,113.00 383.50,113.00 383.00,113.00 383.00,113.00 382.50,113.00 382.50,113.00 382.00,113.00 382.00,113.00 381.50,113.00 381.50,113.00 381.00,113.00 381.00,113.00 380.50,113.00 380.50,113.00 380.00,113.00 380.00,113.00 379.50,113.00 379.50,113.00 379.00,113.00 379.00,113.00 378.50,113.00 378.50,113.00 378.00,113.00 378.00,113.00 377.50,113.00 377.50,113.00 377.00,113.00 377.00,113.00 376.50,113.00 376.50,113.00 376.00,113.00 376.00,113.00 375.50,113.00 375.50,113.00 375.00,113.00 375.00,113.00 374.50,113.00 374.50,113.00 374.00,113.00 374.00,113.00 373.50,113.00 373.50,113.00 373.00,113.00 373.00,113.00 372.50,113.00 372.50,113.00 372.00,113.00 372.00,113.00 371.50,113.00 371.50,113.00 371.00,113.00 371.00,113.00 370.50,113.00 370.50,113.00 370.00,113.00 370.00,113.00 369.50,113.00 369.50,113.00 369.00,113.00 369.00,113.00 368.50,113.00 368.50,113.00 368.00,113.00 368.00,113.00 367.50,113.00 367.50,113.00 367.00,113.00 367.00,113.00 366.50,113.00 366.50,113.00 366.00,113.00 366.00,113.00 365.50,113.00 365.50,113.00 365.00,113.00 365.00,113.00 364.50,113.00 364.50,113.00 364.00,113.00 364.00,113.00 363.50,113.00 363.50,113.00 363.00,113.00 363.00,113.00 362.50,113.00 362.50,113.00 362.00,113.00 362.00,113.00 361.50,113.00 361.50,113.00 361.00,113.00 361.00,113.00 360.50,113.00 360.50,113.00 360.00,113.00 360.00,113.00 359.50,113.00 359.50,113.00 359.00,113.00 359.00,113.00 358.50,113.00 358.50,113.00 358.00,113.00 358.00,113.00 357.50,113.00 357.50,113.00 357.00,113.00 357.00,113.00 356.50,113.00 356.50,113.00 356.00,113.00 356.00,113.00 355.50,113.00 355.50,113.00 355.00,113.00 355.00,113.00 354.50,113.00 354.50,113.00 354.00,113.00 354.00,113.00 353.50,113.00 353.50,113.00 353.00,113.00 353.00,113.00 352.50,113.00 352.50,113.00 352.00,113.00 352.00,113.00 351.50,113.00 351.50,113.00 351.00,113.00 351.00,113.00 350.50,113.00 350.50,113.00 350.00,113.00 350.00,113.00 349.50,113.00 349.50,113.00 349.00,113.00 349.00,113.00 348.50,113.00 348.50,113.00 348.00,113.00 348.00,113.00 347.50,113.00 347.50,113.00 347.00,113.00 347.00,113.00 346.50,113.00 346.50,113.00 346.00,113.00 346.00,113.00 345.50,113.00 345.50,113.00 345.00,113.00 345.00,113.00 344.50,113.00 344.50,113.00 344.00,113.00 344.00,113.00 343.50,113.00 343.50,113.00 343.00,113.00 343.00,113.00 342.50,113.00 342.50,113.00 342.00,113.00 342.00,113.00 341.50,113.00 341.50,113.00 341.00,113.00 341.00,113.00 340.50,113.00 340.50,113.00 340.00,113.00 340.00,113.00 339.50,113.00 339.50,113.00 339.00,113.00 339.00,113.00 338.50,113.00 338.50,113.00 338.00,113.00 338.00,113.00 337.50,113.00 337.50,113.00 337.00,113.00 337.00,113.00 336.50,113.00 336.50,113.00 336.00,113.00 336.00,113.00 335.50,113.00 335.50,113.00 335.00,113.00 335.00,113.00 334.50,113.00 334.50,113.00 334.00,113.00 334.00,113.00 333.50,113.00 333.50,113.00 333.00,113.00 333.00,113.00 332.50,113.00 332.50,113.00 332.00,113.00 332.00,113.00 331.50,113.00 331.50,113.00 331.00,113.00 331.00,113.00 330.50,113.00 330.50,113.00 330.00,113.00 330.00,113.00 329.50,113.00 329.50,113.00 329.00,113.00 329.00,113.00 328.50,113.00 328.50,113.00 328.00,113.00 328.00,113.00 327.50,113.00 327.50,113.00 327.00,113.00 327.00,113.00 326.50,113.00 326.50,113.00 326.00,113.00 326.00,113.00 325.50,113.00 325.50,113.00 325.00,113.00 325.00,113.00 324.50,113.00 324.50,113.00 324.00,113.00 324.00,113.00 323.50,113.00 323.50,113.00 323.00,113.00 323.00,113.00 322.50,113.00 322.50,113.00 322.00,113.00 322.00,113.00 321.50,113.00 321.50,113.00 321.00,113.00 321.00,113.00 320.50,113.00 320.50,113.00 320.00,113.00 320.00,113.00 319.50,113.00 319.50,113.00 319.00,113.00 319.00,113.00 318.50,113.00 318.50,113.00 318.00,113.00 318.00,113.00 317.50,113.00 317.50,113.00 317.00,113.00 317.00,113.00 316.50,113.00 316.50,113.00 316.00,113.00 316.00,113.00 315.50,113.00 315.50,113.00 315.00,113.00 315.00,113.00 314.50,113.00 314.50,113.00 314.00,113.00 314.00,113.00 313.50,113.00 313.50,113.00 313.00,113.00 313.00,113.00 312.50,113.00 312.50,113.00 312.00,113.00 312.00,113.00 311.50,113.00 311.50,113.00 311.00,113.00 311.00,113.00 310.50,113.00 310.50,113.00 310.00,113.00 310.00,113.00 309.50,113.00 309.50,113.00 309.00,113.00 309.00,113.00 308.50,113.00 308.50,113.00 308.00,113.00 308.00,113.00 307.50,113.00 307.50,113.00 307.00,113.00 307.00,113.00 306.50,113.00 306.50,113.00 306.00,113.00 306.00,113.00 305.50,113.00 305.50,113.00 305.00,113.00 305.00,113.00 304.50,113.00 304.50,113.00 304.00,113.00 304.00,113.00 303.50,113.00 303.50,113.00 303.00,113.00 303.00,113.00 302.50,113.00 302.50,113.00 302.00,113.00 302.00,113.00 301.50,113.00 301.50,113.00 301.00,113.00 301.00,113.00 300.50,113.00 300.50,113.00 300.00,113.00 300.00,113.00 299.50,113.00 299.50,113.00 299.00,113.00 299.00,113.00 298.50,113.00 298.50,113.00 298.00,113.00 298.00,113.00 297.50,113.00 297.50,113.00 297.00,113.00 297.00,113.00 296.50,113.00 296.50,113.00 296.00,113.00 296.00,113.00 295.50,113.00 295.50,113.00 295.00,113.00 295.00,113.00 294.50,113.00 294.50,113.00 294.00,113.00 294.00,113.00 293.50,113.00 293.50,113.00 293.00,113.00 293.00,113.00 292.50,113.00 292.50,113.00 292.00,113.00 292.00,113.00 291.50,113.00 291.50,113.00 291.00,113.00 291.00,113.00 290.50,113.00 290.50,113.00 290.00,113.00 290.00,113.00 289.50,113.00 289.50,113.00 289.00,113.00 289.00,113.00 288.50,113.00 288.50,113.00 288.00,113.00 288.00,113.00 287.50,113.00 287.50,113.00 287.00,113.00 287.00,113.00 286.50,113.00 286.50,113.00 286.00,113.00 286.00,113.00 285.50,113.00 285.50,113.00 285.00,113.00 285.00,113.00 284.50,113.00 284.50,113.00 284.00,113.00 284.00,113.00 283.50,113.00 283.50,113.00 283.00,113.00 283.00,113.00 282.50,113.00 282.50,113.00 282.00,113.00 282.00,113.00 281.50,113.00 281.50,113.00 281.00,113.00 281.00,113.00 280.50,113.00 280.50,113.00 280.00,113.00 280.00,113.00 279.50,113.00 279.50,113.00 279.00,113.00 279.00,113.00 278.50,113.00 278.50,113.00 278.00,113.00 278.00,113.00 277.50,113.00 277.50,113.00 277.00,113.00 277.00,113.00 276.50,113.00 276.50,113.00 276.00,113.00 276.00,113.00 275.50,113.00 275.50,113.00 275.00,113.00 275.00,113.00 274.50,113.00 274.50,113.00 274.00,113.00 274.00,113.00 273.50,113.00 273.50,113.00 273.00,113.00 273.00,113.00 272.50,113.00 272.50,113.00 272.00,113.00 272.00,113.00 271.50,113.00 271.50,113.00 271.00,113.00 271.00,113.00 270.50,113.00 270.50,113.00 270.00,113.00 270.00,113.00 269.50,113.00 269.50,113.00 269.00,113.00 269.00,113.00 268.50,113.00 268.50,113.00 268.00,113.00 268.00,113.00 267.50,113.00 267.50,113.00 267.00,113.00 267.00,113.00 266.50,113.00 266.50,113.00 266.00,113.00 266.00,113.00 265.50,113.00 265.50,113.00 265.00,113.00 265.00,113.00 264.50,113.00 264.50,113.00 264.00,113.00 264.00,113.00 263.50,113.00 263.50,113.00 263.00,113.00 263.00,113.00 262.50,113.00 262.50,113.00 262.00,113.00 262.00,113.00 261.50,113.00 261.50,113.00 261.00,113.00 261.00,113.00 260.50,113.00 260.50,113.00 260.00,113.00 260.00,113.00 259.50,113.00 259.50,113.00 259.00,113.00 259.00,113.00 258.50,113.00 258.50,113.00 258.00,113.00 258.00,113.00 257.50,113.00 257.50,113.00 257.00,113.00 257.00,113.00 256.50,113.00 256.50,113.00 256.00,113.00 256.00,113.00 255.50,113.00 255.50,113.00 255.00,113.00 255.00,113.00 254.50,113.00 254.50,113.00 254.00,113.00 254.00,113.00 253.50,113.00 253.50,113.00 253.00,113.00 253.00,113.00 252.50,113.00 252.50,113.00 252.00,113.00 252.00,113.00 251.50,113.00 251.50,113.05 251.00,113.05 251.00,113.06 250.50,113.06 250.50,113.00 250.00,113.00 250.00,113.00 249.50,113.00 249.50,113.04 249.00,113.04 249.00,113.11 248.50,113.11 248.50,113.00 248.00,113.00 248.00,113.12 247.50,113.12 247.50,113.14 247.00,113.14 247.00,113.07 246.50,113.07 246.50,113.07 246.00,113.07 246.00,113.00 245.50,113.00 245.50,113.09 245.00,113.09 245.00,113.07 244.50,113.07 244.50,113.00 244.00,113.00 244.00,113.05 243.50,113.05 243.50,113.05 243.00,113.05 243.00,113.16 242.50,113.16 242.50,113.02 242.00,113.02 242.00,113.15 241.50,113.15 241.50,113.12 241.00,113.12 241.00,113.18 240.50,113.18 240.50,113.27 240.00,113.27 240.00,113.09 239.50,113.09 239.50,113.19 239.00,113.19 239.00,113.32 238.50,113.32 238.50,113.34 238.00,113.34 238.00,113.17 237.50,113.17 237.50,113.15 237.00,113.15 237.00,113.19 236.50,113.19 236.50,113.30 236.00,113.30 236.00,113.08 235.50,113.08 235.50,113.40 235.00,113.40 235.00,113.00 234.50,113.00 234.50,113.10 234.00,113.10 234.00,113.13 233.50,113.13 233.50,113.39 233.00,113.39 233.00,113.24 232.50,113.24 232.50,113.07 232.00,113.07 232.00,113.22 231.50,113.22 231.50,113.33 231.00,113.33 231.00,113.27 230.50,113.27 230.50,113.34 230.00,113.34 230.00,113.26 229.50,113.26 229.50,113.26 229.00,113.26 229.00,113.13 228.50,113.13 228.50,113.30 228.00,113.30 228.00,113.40 227.50,113.40 227.50,113.41 227.00,113.41 227.00,113.19 226.50,113.19 226.50,113.47 226.00,113.47 226.00,113.22 225.50,113.22 225.50,113.56 225.00,113.56 225.00,113.61 224.50,113.61 224.50,113.41 224.00,113.41 224.00,113.67 223.50,113.67 223.50,113.43 223.00,113.43 223.00,113.30 222.50,113.30 222.50,113.44 222.00,113.44 222.00,113.59 221.50,113.59 221.50,113.49 221.00,113.49 221.00,113.31 220.50,113.31 220.50,113.50 220.00,113.50 220.00,113.23 219.50,113.23 219.50,113.32 219.00,113.32 219.00,113.62 218.50,113.62 218.50,113.23 218.00,113.23 218.00,113.58 217.50,113.58 217.50,113.57 217.00,113.57 217.00,113.57 216.50,113.57 216.50,113.57 216.00,113.57 216.00,113.89 215.50,113.89 215.50,113.62 215.00,113.62 215.00,113.56 214.50,113.56 214.50,113.66 214.00,113.66 214.00,113.49 213.50,113.49 213.50,113.78 213.00,113.78 213.00,113.60 212.50,113.60 212.50,113.84 212.00,113.84 212.00,113.63 211.50,113.63 211.50,113.84 211.00,113.84 211.00,113.74 210.50,113.74 210.50,113.71 210.00,113.71 210.00,113.37 209.50,113.37 209.50,113.82 209.00,113.82 209.00,113.49 208.50,113.49 208.50,113.48 208.00,113.48 208.00,113.63 207.50,113.63 207.50,114.03 207.00,114.03 207.00,113.60 206.50,113.60 206.50,113.94 206.00,113.94 206.00,113.95 205.50,113.95 205.50,113.63 205.00,113.63 205.00,113.80 204.50,113.80 204.50,113.70 204.00,113.70 204.00,113.90 203.50,113.90 203.50,113.85 203.00,113.85 203.00,113.70 202.50,113.70 202.50,114.17 202.00,114.17 202.00,113.89 201.50,113.89 201.50,113.86 201.00,113.86 201.00,113.95 200.50,113.95 200.50,114.02 200.00,114.02 200.00,114.09 199.50,114.09 199.50,114.33 199.00,114.33 199.00,113.95 198.50,113.95 198.50,114.41 198.00,114.41 198.00,114.23 197.50,114.23 197.50,114.00 197.00,114.00 197.00,114.08 196.50,114.08 196.50,114.34 196.00,114.34 196.00,114.50 195.50,114.50 195.50,114.20 195.00,114.20 195.00,114.14 194.50,114.14 194.50,114.13 194.00,114.13 194.00,114.25 193.50,114.25 193.50,114.66 193.00,114.66 193.00,114.45 192.50,114.45 192.50,114.32 192.00,114.32 192.00,114.72 191.50,114.72 191.50,114.25 191.00,114.25 191.00,114.33 190.50,114.33 190.50,114.40 190.00,114.40 190.00,114.21 189.50,114.21 189.50,114.17 189.00,114.17 189.00,114.32 188.50,114.32 188.50,114.54 188.00,114.54 188.00,114.48 187.50,114.48 187.50,114.41 187.00,114.41 187.00,114.80 186.50,114.80 186.50,114.09 186.00,114.09 186.00,114.52 185.50,114.52 185.50,114.88 185.00,114.88 185.00,114.53 184.50,114.53 184.50,114.31 184.00,114.31 184.00,114.66 183.50,114.66 183.50,114.64 183.00,114.64 183.00,114.55 182.50,114.55 182.50,114.64 182.00,114.64 182.00,114.62 181.50,114.62 181.50,114.84 181.00,114.84 181.00,114.85 180.50,114.85 180.50,114.62 180.00,114.62 180.00,115.08 179.50,115.08 179.50,114.90 179.00,114.90 179.00,114.85 178.50,114.85 178.50,114.67 178.00,114.67 178.00,114.98 177.50,114.98 177.50,115.30 177.00,115.30 177.00,114.92 176.50,114.92 176.50,114.58 176.00,114.58 176.00,114.88 175.50,114.88 175.50,115.01 175.00,115.01 175.00,115.12 174.50,115.12 174.50,115.06 174.00,115.06 174.00,114.97 173.50,114.97 173.50,114.64 173.00,114.64 173.00,114.53 172.50,114.53 172.50,115.14 172.00,115.14 172.00,115.11 171.50,115.11 171.50,114.81 171.00,114.81 171.00,115.74 170.50,115.74 170.50,115.28 170.00,115.28 170.00,115.70 169.50,115.70 169.50,115.43 169.00,115.43 169.00,115.24 168.50,115.24 168.50,115.15 168.00,115.15 168.00,115.35 167.50,115.35 167.50,115.10 167.00,115.10 167.00,115.50 166.50,115.50 166.50,115.88 166.00,115.88 166.00,115.71 165.50,115.71 165.50,115.88 165.00,115.88 165.00,115.36 164.50,115.36 164.50,115.32 164.00,115.32 164.00,115.82 163.50,115.82 163.50,115.69 163.00,115.69 163.00,115.25 162.50,115.25 162.50,116.00 162.00,116.00 162.00,115.72 161.50,115.72 161.50,115.41 161.00,115.41 161.00,115.91 160.50,115.91 160.50,116.20 160.00,116.20 160.00,116.17 159.50,116.17 159.50,115.07 159.00,115.07 159.00,115.85 158.50,115.85 158.50,115.53 158.00,115.53 158.00,116.27 157.50,116.27 157.50,116.24 157.00,116.24 157.00,116.41 156.50,116.41 156.50,116.49 156.00,116.49 156.00,115.70 155.50,115.70 155.50,116.19 155.00,116.19 155.00,116.03 154.50,116.03 154.50,115.60 154.00,115.60 154.00,115.46 153.50,115.46 153.50,116.63 153.00,116.63 153.00,116.49 152.50,116.49 152.50,116.53 152.00,116.53 152.00,115.61 151.50,115.61 151.50,116.99 151.00,116.99 151.00,117.07 150.50,117.07 150.50,116.53 150.00,116.53 150.00,116.55 149.50,116.55 149.50,116.89 149.00,116.89 149.00,116.80 148.50,116.80 148.50,116.90 148.00,116.90 148.00,116.76 147.50,116.76 147.50,116.89 147.00,116.89 147.00,116.77 146.50,116.77 146.50,117.17 146.00,117.17 146.00,117.23 145.50,117.23 145.50,117.26 145.00,117.26 145.00,116.82 144.50,116.82 144.50,116.52 144.00,116.52 144.00,116.78 143.50,116.78 143.50,116.90 143.00,116.90 143.00,117.27 142.50,117.27 142.50,117.49 142.00,117.49 142.00,117.15 141.50,117.15 141.50,116.61 141.00,116.61 141.00,117.36 140.50,117.36 140.50,118.07 140.00,118.07 140.00,118.03 139.50,118.03 139.50,119.01 139.00,119.01 139.00,117.59 138.50,117.59 138.50,118.14 138.00,118.14 138.00,117.74 137.50,117.74 137.50,118.27 137.00,118.27 137.00,117.86 136.50,117.86 136.50,118.42 136.00,118.42 136.00,117.34 135.50,117.34 135.50,117.98 135.00,117.98 135.00,118.00 134.50,118.00 134.50,117.92 134.00,117.92 134.00,118.25 133.50,118.25 133.50,118.01 133.00,118.01 133.00,118.26 132.50,118.26 132.50,120.15 132.00,120.15 132.00,118.30 131.50,118.30 131.50,117.30 131.00,117.30 131.00,118.75 130.50,118.75 130.50,118.24 130.00,118.24 130.00,117.90 129.50,117.90 129.50,118.17 129.00,118.17 129.00,118.48 128.50,118.48 128.50,118.82 128.00,118.82 128.00,118.84 127.50,118.84 127.50,119.29 127.00,119.29 127.00,118.46 126.50,118.46 126.50,119.19 126.00,119.19 126.00,118.99 125.50,118.99 125.50,119.34 125.00,119.34 125.00,119.73 124.50,119.73 124.50,119.31 124.00,119.31 124.00,119.61 123.50,119.61 123.50,119.43 123.00,119.43 123.00,118.05 122.50,118.05 122.50,119.17 122.00,119.17 122.00,118.86 121.50,118.86 121.50,120.02 121.00,120.02 121.00,119.68 120.50,119.68 120.50,120.35 120.00,120.35 120.00,119.16 119.50,119.16 119.50,120.50 119.00,120.50 119.00,119.13 118.50,119.13 118.50,120.64 118.00,120.64 118.00,120.31 117.50,120.31 117.50,120.82 117.00,120.82 117.00,120.17 116.50,120.17 116.50,119.13 116.00,119.13 116.00,120.95 115.50,120.95 115.50,120.27 115.00,120.27 115.00,120.52 114.50,120.52 114.50,120.85 114.00,120.85 114.00,120.39 113.50,120.39 113.50,120.09 113.00,120.09 113.00,120.39 112.50,120.39 112.50,120.15 112.00,120.15 112.00,120.76 111.50,120.76 111.50,120.21 111.00,120.21 111.00,120.80 110.50,120.80 110.50,119.83 110.00,119.83 110.00,120.76 109.50,120.76 109.50,121.80 109.00,121.80 109.00,120.43 108.50,120.43 108.50,121.31 108.00,121.31 108.00,122.06 107.50,122.06 107.50,121.40 107.00,121.40 107.00,121.75 106.50,121.75 106.50,122.69 106.00,122.69 106.00,122.42 105.50,122.42 105.50,121.94 105.00,121.94 105.00,120.95 104.50,120.95 104.50,121.23 104.00,121.23 104.00,121.25 103.50,121.25 103.50,122.76 103.00,122.76 103.00,122.30 102.50,122.30 102.50,122.59 102.00,122.59 102.00,121.92 101.50,121.92 101.50,122.45 101.00,122.45 101.00,121.65 100.50,121.65 100.50,122.17 100.00,122.17 100.00,121.87 99.50,121.87 99.50,121.99 99.00,121.99 99.00,121.27 98.50,121.27 98.50,121.50 98.00,121.50 98.00,122.86 97.50,122.86 97.50,123.65 97.00,123.65 97.00,123.94 96.50,123.94 96.50,123.28 96.00,123.28 96.00,123.11 95.50,123.11 95.50,122.38 95.00,122.38 95.00,124.29 94.50,124.29 94.50,125.04 94.00,125.04 94.00,124.62 93.50,124.62 93.50,122.74 93.00,122.74 93.00,125.01 92.50,125.01 92.50,123.71 92.00,123.71 92.00,123.69 91.50,123.69 91.50,126.44 91.00,126.44 91.00,125.83 90.50,125.83 90.50,126.33 90.00,126.33 90.00,125.18 89.50,125.18 89.50,124.09 89.00,124.09 89.00,127.34 88.50,127.34 88.50,125.86 88.00,125.86 88.00,126.49 87.50,126.49 87.50,122.48 87.00,122.48 87.00,127.18 86.50,127.18 86.50,127.08 86.00,127.08" fill="#ff0000"/>
<rect x="83.0" y="16.5" width="441.0" height="192.5" fill="none" stroke="#262626" stroke-width="1.2"/>
<path d="M83.00,209.0v-5M83.00,16.5v5M127.10,209.0v-5M127.10,16.5v5M171.20,209.0v-5M171.20,16.5v5M215.30,209.0v-5M215.30,16.5v5M259.40,209.0v-5M259.40,16.5v5M303.50,209.0v-5M303.50,16.5v5M347.60,209.0v-5M347.60,16.5v5M391.70,209.0v-5M391.70,16.5v5M435.80,209.0v-5M435.80,16.5v5M479.90,209.0v-5M479.90,16.5v5M524.00,209.0v-5M524.00,16.5v5M83.0,16.50h5M524.0,16.50h-5M83.0,64.62h5M524.0,64.62h-5M83.0,112.75h5M524.0,112.75h-5M83.0,160.88h5M524.0,160.88h-5M83.0,209.00h5M524.0,209.00h-5" stroke="#262626" stroke-width="1.1" fill="none"/>
<rect x="82" y="111" width="7" height="2" fill="#ff0000"/>
<rect x="358.6" y="39.3" width="32.5" height="2.1" fill="#0000ff"/>
<rect x="358.6" y="65.0" width="32.5" height="2.1" fill="#ff0000"/>
<text transform="translate(394.47,47.60) scale(0.8577,1)" font-size="20.61" fill="#000" stroke="#000" stroke-width="0.25">Designed snesor</text>
<text transform="translate(394.27,73.60) scale(0.8645,1)" font-size="20.46" fill="#000" stroke="#000" stroke-width="0.25">Bare FBG</text>
<text transform="translate(122.56,185.50) scale(0.8686,1)" font-size="19.86" fill="#000" stroke="#000" stroke-width="0.25">Time domain waveform</text>
<text transform="translate(43.02,23.40) scale(0.8801,1)" font-size="20.45" fill="#000" stroke="#000" stroke-width="0.25">1200</text>
<text transform="translate(52.02,71.50) scale(0.8801,1)" font-size="20.45" fill="#000" stroke="#000" stroke-width="0.25">600</text>
<text transform="translate(70.02,119.65) scale(0.8801,1)" font-size="20.45" fill="#000" stroke="#000" stroke-width="0.25">0</text>
<text transform="translate(45.99,167.80) scale(0.8801,1)" font-size="20.45" fill="#000" stroke="#000" stroke-width="0.25">-600</text>
<text transform="translate(36.99,215.90) scale(0.8801,1)" font-size="20.45" fill="#000" stroke="#000" stroke-width="0.25">-1200</text>
<text transform="translate(78.70,230.80) scale(0.8410,1)" font-size="20.45" fill="#000" stroke="#000" stroke-width="0.25">0</text>
<text transform="translate(116.48,230.80) scale(0.8410,1)" font-size="20.45" fill="#000" stroke="#000" stroke-width="0.25">0.2</text>
<text transform="translate(160.24,230.80) scale(0.8410,1)" font-size="20.45" fill="#000" stroke="#000" stroke-width="0.25">0.4</text>
<text transform="translate(204.46,230.80) scale(0.8410,1)" font-size="20.45" fill="#000" stroke="#000" stroke-width="0.25">0.6</text>
<text transform="translate(248.65,230.80) scale(0.8410,1)" font-size="20.45" fill="#000" stroke="#000" stroke-width="0.25">0.8</text>
<text transform="translate(298.99,230.80) scale(0.8410,1)" font-size="20.45" fill="#000" stroke="#000" stroke-width="0.25">1</text>
<text transform="translate(336.59,230.80) scale(0.8410,1)" font-size="20.45" fill="#000" stroke="#000" stroke-width="0.25">1.2</text>
<text transform="translate(380.35,230.80) scale(0.8410,1)" font-size="20.45" fill="#000" stroke="#000" stroke-width="0.25">1.4</text>
<text transform="translate(424.58,230.80) scale(0.8410,1)" font-size="20.45" fill="#000" stroke="#000" stroke-width="0.25">1.6</text>
<text transform="translate(468.76,230.80) scale(0.8410,1)" font-size="20.45" fill="#000" stroke="#000" stroke-width="0.25">1.8</text>
<text transform="translate(519.79,230.80) scale(0.8410,1)" font-size="20.45" fill="#000" stroke="#000" stroke-width="0.25">2</text>
<text transform="translate(262.37,253.00) scale(0.8618,1)" font-size="24.85" fill="#000" stroke="#000" stroke-width="0.25">Time/Sec</text>
<text transform="translate(32.80,224.40) rotate(-90) scale(1,0.9232)" font-size="26.13" fill="#000" stroke="#000" stroke-width="0.25">Wavelength shift/pm</text>
<rect x="83.0" y="265.0" width="441.0" height="192.0" fill="none" stroke="#262626" stroke-width="1.2"/>
<path d="M83.00,457.0v-5M83.00,265.0v5M171.20,457.0v-5M171.20,265.0v5M259.40,457.0v-5M259.40,265.0v5M347.60,457.0v-5M347.60,265.0v5M435.80,457.0v-5M435.80,265.0v5M524.00,457.0v-5M524.00,265.0v5M83.0,265.00h5M524.0,265.00h-5M83.0,313.00h5M524.0,313.00h-5M83.0,361.00h5M524.0,361.00h-5M83.0,409.00h5M524.0,409.00h-5M83.0,457.00h5M524.0,457.00h-5" stroke="#262626" stroke-width="1.1" fill="none"/>
<polyline points="83.00,452.72 83.25,450.57 83.50,449.12 83.75,449.30 84.00,450.98 84.25,453.14 84.50,454.80 84.75,455.69 85.00,456.05 85.25,456.15 85.50,456.17 85.75,456.18 86.00,456.18 86.25,456.18 86.50,456.18 86.75,456.18 87.00,456.18 87.25,456.18 87.50,456.18 87.75,456.18 88.00,456.18 88.25,456.18 88.50,456.18 88.75,456.18 89.00,456.18 89.25,456.18 89.50,456.18 89.75,456.18 90.00,456.18 90.25,456.18 90.50,456.18 90.75,456.18 91.00,456.18 91.25,456.18 91.50,456.18 91.75,456.18 92.00,456.18 92.25,456.17 92.50,456.17 92.75,456.17 93.00,456.17 93.25,456.17 93.50,456.17 93.75,456.17 94.00,456.17 94.25,456.17 94.50,456.17 94.75,456.17 95.00,456.17 95.25,456.17 95.50,456.17 95.75,456.17 96.00,456.17 96.25,456.17 96.50,456.17 96.75,456.17 97.00,456.17 97.25,456.17 97.50,456.17 97.75,456.17 98.00,456.17 98.25,456.17 98.50,456.17 98.75,456.17 99.00,456.17 99.25,456.17 99.50,456.17 99.75,456.17 100.00,456.17 100.25,456.17 100.50,456.17 100.75,456.17 101.00,456.17 101.25,456.17 101.50,456.17 101.75,456.17 102.00,456.17 102.25,456.17 102.50,456.17 102.75,456.17 103.00,456.17 103.25,456.17 103.50,456.17 103.75,456.17 104.00,456.17 104.25,456.17 104.50,456.17 104.75,456.17 105.00,456.17 105.25,456.17 105.50,456.17 105.75,456.17 106.00,456.17 106.25,456.17 106.50,456.17 106.75,456.17 107.00,456.17 107.25,456.17 107.50,456.17 107.75,456.17 108.00,456.17 108.25,456.17 108.50,456.17 108.75,456.17 109.00,456.17 109.25,456.17 109.50,456.17 109.75,456.17 110.00,456.17 110.25,456.17 110.50,456.17 110.75,456.17 111.00,456.17 111.25,456.17 111.50,456.17 111.75,456.17 112.00,456.17 112.25,456.16 112.50,456.16 112.75,456.16 113.00,456.16 113.25,456.16 113.50,456.16 113.75,456.16 114.00,456.16 114.25,456.16 114.50,456.16 114.75,456.16 115.00,456.16 115.25,456.16 115.50,456.16 115.75,456.16 116.00,456.16 116.25,456.16 116.50,456.16 116.75,456.16 117.00,456.16 117.25,456.16 117.50,456.16 117.75,456.16 118.00,456.16 118.25,456.16 118.50,456.16 118.75,456.16 119.00,456.16 119.25,456.16 119.50,456.16 119.75,456.16 120.00,456.16 120.25,456.16 120.50,456.16 120.75,456.16 121.00,456.16 121.25,456.16 121.50,456.16 121.75,456.16 122.00,456.16 122.25,456.16 122.50,456.16 122.75,456.16 123.00,456.16 123.25,456.16 123.50,456.16 123.75,456.16 124.00,456.16 124.25,456.16 124.50,456.16 124.75,456.15 125.00,456.15 125.25,456.15 125.50,456.15 125.75,456.15 126.00,456.15 126.25,456.15 126.50,456.15 126.75,456.15 127.00,456.15 127.25,456.15 127.50,456.15 127.75,456.15 128.00,456.15 128.25,456.15 128.50,456.15 128.75,456.15 129.00,456.15 129.25,456.15 129.50,456.15 129.75,456.15 130.00,456.15 130.25,456.15 130.50,456.15 130.75,456.15 131.00,456.15 131.25,456.15 131.50,456.15 131.75,456.15 132.00,454.87 132.25,454.87 132.50,454.87 132.75,454.87 133.00,454.87 133.25,454.87 133.50,454.87 133.75,454.86 134.00,454.86 134.25,454.86 134.50,454.86 134.75,454.86 135.00,454.86 135.25,454.86 135.50,454.86 135.75,454.86 136.00,454.86 136.25,454.86 136.50,454.86 136.75,454.86 137.00,454.86 137.25,454.86 137.50,454.86 137.75,454.86 138.00,454.86 138.25,454.86 138.50,454.86 138.75,454.86 139.00,454.86 139.25,454.86 139.50,454.86 139.75,454.86 140.00,454.86 140.25,454.86 140.50,454.85 140.75,454.85 141.00,454.85 141.25,454.85 141.50,454.85 141.75,454.85 142.00,454.85 142.25,454.85 142.50,454.85 142.75,454.85 143.00,454.85 143.25,454.85 143.50,454.85 143.75,454.85 144.00,454.85 144.25,454.85 144.50,454.85 144.75,454.85 145.00,454.85 145.25,454.85 145.50,454.85 145.75,454.84 146.00,454.84 146.25,454.84 146.50,454.84 146.75,454.84 147.00,454.84 147.25,454.84 147.50,454.84 147.75,454.84 148.00,454.84 148.25,454.84 148.50,454.84 148.75,454.84 149.00,454.84 149.25,454.84 149.50,454.84 149.75,454.84 150.00,454.83 150.25,454.83 150.50,454.83 150.75,454.83 151.00,454.83 151.25,454.83 151.50,454.83 151.75,454.83 152.00,454.83 152.25,454.83 152.50,454.83 152.75,454.83 153.00,454.83 153.25,454.83 153.50,454.82 153.75,454.82 154.00,454.82 154.25,454.82 154.50,454.82 154.75,454.82 155.00,454.82 155.25,454.82 155.50,454.82 155.75,454.82 156.00,454.82 156.25,454.82 156.50,454.81 156.75,454.81 157.00,454.81 157.25,454.81 157.50,454.81 157.75,454.81 158.00,454.81 158.25,456.09 158.50,456.09 158.75,456.09 159.00,456.09 159.25,456.08 159.50,456.08 159.75,456.08 160.00,456.08 160.25,456.08 160.50,456.08 160.75,456.08 161.00,456.08 161.25,456.08 161.50,456.07 161.75,456.07 162.00,456.07 162.25,456.07 162.50,456.07 162.75,456.07 163.00,454.79 163.25,454.79 163.50,454.78 163.75,454.78 164.00,454.78 164.25,454.78 164.50,454.78 164.75,454.78 165.00,454.78 165.25,454.78 165.50,454.77 165.75,454.77 166.00,454.77 166.25,454.77 166.50,454.77 166.75,454.77 167.00,454.76 167.25,454.76 167.50,454.76 167.75,454.76 168.00,454.76 168.25,454.76 168.50,454.75 168.75,454.75 169.00,454.75 169.25,454.75 169.50,454.75 169.75,454.75 170.00,454.74 170.25,454.74 170.50,454.74 170.75,454.74 171.00,454.73 171.25,454.73 171.50,454.73 171.75,454.73 172.00,454.73 172.25,454.72 172.50,454.72 172.75,454.72 173.00,454.72 173.25,454.71 173.50,454.71 173.75,454.71 174.00,454.71 174.25,454.70 174.50,454.70 174.75,454.70 175.00,454.70 175.25,454.69 175.50,454.69 175.75,454.69 176.00,454.68 176.25,454.68 176.50,454.68 176.75,454.67 177.00,454.67 177.25,454.67 177.50,454.66 177.75,454.66 178.00,454.66 178.25,454.65 178.50,454.65 178.75,454.65 179.00,454.64 179.25,454.64 179.50,454.64 179.75,454.63 180.00,454.63 180.25,454.62 180.50,454.62 180.75,454.61 181.00,454.61 181.25,454.60 181.50,454.60 181.75,454.59 182.00,454.59 182.25,454.58 182.50,454.58 182.75,454.57 183.00,454.57 183.25,454.56 183.50,454.56 183.75,454.55 184.00,454.54 184.25,454.54 184.50,454.53 184.75,454.53 185.00,454.52 185.25,454.51 185.50,454.51 185.75,454.50 186.00,454.49 186.25,454.48 186.50,454.47 186.75,454.47 187.00,454.46 187.25,454.45 187.50,454.44 187.75,454.43 188.00,454.42 188.25,454.41 188.50,454.40 188.75,454.39 189.00,454.38 189.25,455.65 189.50,455.64 189.75,455.63 190.00,455.62 190.25,455.61 190.50,455.59 190.75,455.58 191.00,453.49 191.25,453.47 191.50,453.46 191.75,453.45 192.00,453.43 192.25,453.41 192.50,453.40 192.75,453.38 193.00,453.36 193.25,453.35 193.50,453.33 193.75,453.31 194.00,453.29 194.25,453.27 194.50,453.25 194.75,453.22 195.00,453.20 195.25,453.18 195.50,453.15 195.75,453.13 196.00,453.10 196.25,453.07 196.50,453.04 196.75,453.01 197.00,452.98 197.25,452.95 197.50,452.91 197.75,452.88 198.00,452.84 198.25,452.80 198.50,452.76 198.75,452.71 199.00,452.67 199.25,452.62 199.50,452.57 199.75,452.52 200.00,452.46 200.25,452.41 200.50,452.34 200.75,452.28 201.00,452.21 201.25,452.14 201.50,452.07 201.75,451.99 202.00,451.90 202.25,451.82 202.50,451.72 202.75,451.62 203.00,451.52 203.25,451.41 203.50,451.29 203.75,451.16 204.00,451.03 204.25,450.88 204.50,450.73 204.75,450.57 205.00,450.39 205.25,452.28 205.50,452.08 205.75,451.87 206.00,451.63 206.25,451.38 206.50,451.12 206.75,450.83 207.00,450.52 207.25,450.18 207.50,449.82 207.75,449.42 208.00,449.00 208.25,448.54 208.50,448.04 208.75,447.50 208.90,447.16 208.95,447.04 209.00,446.92 209.00,446.92 209.05,446.79 209.10,446.67 209.15,446.54 209.20,446.41 209.25,446.28 209.25,446.28 209.30,446.15 209.30,446.15 209.35,446.02 209.35,446.02 209.40,445.88 209.40,445.88 209.45,445.74 209.45,445.74 209.50,445.60 209.50,445.60 209.50,445.60 209.55,445.45 209.55,445.45 209.60,445.31 209.60,445.31 209.65,445.16 209.65,445.16 209.70,445.01 209.70,445.01 209.75,444.85 209.75,444.85 209.75,444.85 209.80,444.70 209.80,444.70 209.85,444.54 209.85,444.54 209.90,444.38 209.90,444.38 209.95,444.21 209.95,444.21 210.00,444.05 210.00,444.05 210.00,444.05 210.05,443.88 210.05,443.88 210.10,443.71 210.10,443.71 210.15,443.53 210.15,443.53 210.20,443.35 210.20,443.35 210.25,443.17 210.25,443.17 210.25,443.17 210.30,442.99 210.30,442.99 210.35,442.80 210.35,442.80 210.40,442.61 210.40,442.61 210.45,442.42 210.45,442.42 210.50,442.23 210.50,442.23 210.50,442.23 210.55,442.03 210.55,442.03 210.60,441.82 210.60,441.82 210.65,441.62 210.65,441.62 210.70,441.41 210.70,441.41 210.75,441.19 210.75,441.19 210.75,441.19 210.80,440.98 210.80,440.98 210.85,440.76 210.85,440.76 210.90,440.53 210.90,440.53 210.95,440.30 210.95,440.30 211.00,440.07 211.00,440.07 211.00,440.07 211.05,439.83 211.05,439.83 211.10,439.58 211.10,439.58 211.15,439.33 211.15,439.33 211.20,439.08 211.20,439.08 211.25,438.82 211.25,438.82 211.25,438.82 211.30,438.55 211.30,438.55 211.35,438.28 211.35,438.28 211.40,438.00 211.40,438.00 211.45,437.72 211.45,437.72 211.50,437.42 211.50,437.42 211.50,437.42 211.55,437.12 211.55,437.12 211.60,436.81 211.60,436.81 211.65,436.49 211.65,436.49 211.70,436.15 211.70,436.15 211.75,435.81 211.75,435.81 211.75,435.81 211.80,435.45 211.80,435.45 211.85,435.08 211.85,435.08 211.90,434.70 211.90,434.70 211.95,434.30 211.95,434.30 212.00,433.87 212.00,433.87 212.00,433.87 212.05,433.43 212.05,433.43 212.10,432.97 212.10,432.97 212.15,432.47 212.15,432.47 212.20,431.95 212.20,431.95 212.25,431.40 212.25,431.40 212.25,431.40 212.30,430.81 212.30,430.81 212.35,430.17 212.35,430.17 212.40,429.49 212.40,429.49 212.45,428.75 212.45,428.75 212.50,427.95 212.50,427.95 212.50,427.95 212.55,427.08 212.55,427.08 212.60,426.12 212.60,426.12 212.65,425.07 212.65,425.07 212.70,423.90 212.70,423.90 212.75,422.60 212.75,422.60 212.75,422.60 212.80,421.14 212.80,421.14 212.85,419.51 212.85,419.51 212.90,417.65 212.90,417.65 212.95,415.54 212.95,415.54 213.00,413.12 213.00,413.12 213.00,413.12 213.05,410.33 213.05,410.33 213.10,407.10 213.10,407.10 213.15,403.33 213.15,403.33 213.20,398.91 213.20,398.91 213.25,393.71 213.25,393.71 213.25,393.71 213.30,387.57 213.30,387.57 213.35,380.32 213.35,380.32 213.40,371.78 213.40,371.78 213.45,361.79 213.45,361.79 213.50,350.28 213.50,350.28 213.50,350.28 213.55,337.40 213.55,337.40 213.60,323.62 213.60,323.62 213.65,309.95 213.65,309.95 213.70,297.98 213.70,297.98 213.75,289.67 213.75,289.67 213.75,289.67 213.80,286.69 213.80,286.69 213.85,289.74 213.85,289.74 213.90,298.13 213.90,298.13 213.95,310.16 213.95,310.16 214.00,323.90 214.00,323.90 214.00,323.90 214.05,337.75 214.05,337.75 214.10,350.71 214.10,350.71 214.15,362.28 214.15,362.28 214.20,372.34 214.20,372.34 214.25,380.95 214.25,380.95 214.25,380.95 214.30,388.26 214.30,388.26 214.35,394.46 214.35,394.46 214.40,399.73 214.40,399.73 214.45,404.20 214.45,404.20 214.50,408.03 214.50,408.03 214.50,408.03 214.55,411.33 214.55,411.33 214.60,414.17 214.60,414.17 214.65,416.65 214.65,416.65 214.70,418.81 214.70,418.81 214.75,420.72 214.75,420.72 214.75,420.72 214.80,422.41 214.80,422.41 214.85,423.91 214.85,423.91 214.90,425.25 214.90,425.25 214.95,426.46 214.95,426.46 215.00,427.56 215.00,427.56 215.00,427.56 215.05,428.56 215.05,428.56 215.10,429.47 215.10,429.47 215.15,430.30 215.15,430.30 215.20,431.08 215.20,431.08 215.25,431.79 215.25,431.79 215.25,431.79 215.30,432.45 215.30,432.45 215.35,433.07 215.35,433.07 215.40,433.65 215.40,433.65 215.45,434.20 215.45,434.20 215.50,434.71 215.50,434.71 215.50,434.71 215.55,435.19 215.55,435.19 215.60,435.65 215.60,435.65 215.65,436.09 215.65,436.09 215.70,436.51 215.70,436.51 215.75,436.91 215.75,436.91 215.75,436.91 215.80,437.29 215.80,437.29 215.85,437.65 215.85,437.65 215.90,438.00 215.90,438.00 215.95,438.34 215.95,438.34 216.00,438.67 216.00,438.67 216.00,438.67 216.05,438.98 216.05,438.98 216.10,439.28 216.10,439.28 216.15,439.58 216.15,439.58 216.20,439.86 216.20,439.86 216.25,440.14 216.25,440.14 216.25,440.14 216.30,440.41 216.30,440.41 216.35,440.67 216.35,440.67 216.40,440.92 216.40,440.92 216.45,441.17 216.45,441.17 216.50,441.41 216.50,441.41 216.50,441.41 216.55,441.65 216.55,441.65 216.60,441.88 216.60,441.88 216.65,442.10 216.65,442.10 216.70,442.32 216.70,442.32 216.75,442.53 216.75,442.53 216.75,442.53 216.80,442.74 216.80,442.74 216.85,442.94 216.85,442.94 216.90,443.14 216.95,443.34 217.00,443.53 217.00,443.53 217.05,443.72 217.10,443.90 217.15,444.08 217.20,444.26 217.25,444.43 217.25,444.43 217.50,445.25 217.75,445.99 218.00,446.67 218.25,447.29 218.50,447.86 218.75,448.38 219.00,448.86 219.25,449.30 219.50,449.71 219.75,450.08 220.00,450.43 220.25,450.75 220.50,451.05 220.75,451.32 221.00,449.98 221.25,450.21 221.50,450.43 221.75,450.64 222.00,450.83 222.25,451.00 222.50,451.17 222.75,451.33 223.00,451.47 223.25,451.61 223.50,451.74 223.75,451.86 224.00,451.97 224.25,452.08 224.50,452.18 224.75,452.27 225.00,452.36 225.25,452.44 225.50,452.52 225.75,452.60 226.00,452.67 226.25,452.74 226.50,452.80 226.75,452.86 227.00,452.92 227.25,452.98 227.50,453.03 227.75,453.08 228.00,453.13 228.25,453.17 228.50,453.22 228.75,453.26 229.00,453.30 229.25,453.33 229.50,453.37 229.75,453.40 230.00,453.44 230.25,453.47 230.50,453.50 230.75,453.53 231.00,453.56 231.25,453.58 231.50,453.61 231.75,453.63 232.00,453.66 232.25,453.68 232.50,453.70 232.75,453.72 233.00,453.74 233.25,453.76 233.50,453.78 233.75,453.80 234.00,453.82 234.25,453.84 234.50,453.85 234.75,453.87 235.00,453.88 235.25,453.90 235.50,453.91 235.75,453.93 236.00,453.94 236.25,453.95 236.50,453.96 236.75,453.98 237.00,453.99 237.25,454.00 237.50,454.01 237.75,454.02 238.00,454.03 238.25,454.04 238.50,454.05 238.75,454.06 239.00,454.07 239.25,455.67 239.50,455.68 239.75,455.69 240.00,455.70 240.25,455.71 240.50,455.71 240.75,455.72 241.00,455.73 241.25,455.73 241.50,455.74 241.75,455.74 242.00,455.75 242.25,455.76 242.50,455.76 242.75,455.77 243.00,455.77 243.25,455.78 243.50,455.78 243.75,455.78 244.00,455.79 244.25,455.79 244.50,455.80 244.75,455.80 245.00,455.80 245.25,455.81 245.50,455.81 245.75,455.81 246.00,455.81 246.25,455.82 246.50,455.82 246.75,455.82 247.00,454.54 247.25,454.54 247.50,454.54 247.75,454.54 248.00,454.55 248.25,454.55 248.50,454.55 248.75,454.55 249.00,454.55 249.25,454.54 249.50,454.54 249.75,454.54 250.00,454.54 250.25,454.54 250.50,454.54 250.75,454.53 251.00,454.53 251.25,454.52 251.50,454.52 251.75,454.51 252.00,454.51 252.25,454.50 252.50,454.50 252.75,454.49 253.00,454.48 253.25,455.75 253.50,455.74 253.75,455.72 254.00,455.71 254.25,455.69 254.50,455.68 254.75,455.66 255.00,455.64 255.25,455.61 255.50,455.59 255.75,455.56 256.00,455.52 256.25,455.49 256.50,455.44 256.75,455.40 257.00,455.34 257.25,455.28 257.50,455.21 257.55,455.19 257.60,455.18 257.65,455.16 257.70,455.15 257.75,455.13 257.75,455.13 257.80,455.11 257.85,455.09 257.90,455.07 257.95,455.06 258.00,455.04 258.00,455.04 258.05,455.02 258.10,455.00 258.15,454.97 258.20,454.95 258.25,454.93 258.25,454.93 258.30,454.91 258.35,454.88 258.40,454.86 258.45,454.83 258.50,454.81 258.50,454.81 258.55,454.78 258.60,454.75 258.65,454.72 258.70,454.69 258.75,454.66 258.75,454.66 258.80,454.63 258.85,454.60 258.90,454.57 258.95,454.53 259.00,454.50 259.00,454.50 259.05,454.46 259.10,454.42 259.15,454.38 259.20,454.34 259.25,454.30 259.25,454.30 259.30,454.26 259.35,454.21 259.40,454.16 259.45,454.12 259.50,454.07 259.50,454.07 259.55,454.01 259.60,453.96 259.65,453.90 259.70,453.84 259.75,453.78 259.75,453.78 259.80,453.72 259.85,453.65 259.90,453.58 259.95,453.51 260.00,453.43 260.00,453.43 260.05,453.35 260.10,453.26 260.15,453.17 260.20,453.08 260.25,452.98 260.25,452.98 260.30,452.87 260.35,452.75 260.40,452.63 260.45,452.50 260.50,452.36 260.50,452.36 260.55,452.21 260.60,452.04 260.65,451.86 260.70,451.67 260.75,451.46 260.75,451.46 260.80,451.24 260.85,450.99 260.90,450.73 260.95,450.45 261.00,450.14 261.00,450.14 261.05,449.82 261.10,449.49 261.15,449.15 261.20,448.81 261.25,448.48 261.25,448.48 261.30,448.18 261.35,447.93 261.40,447.73 261.45,447.60 261.50,447.56 261.50,447.56 261.55,447.61 261.60,447.73 261.65,447.93 261.70,448.19 261.75,448.49 261.75,448.49 261.80,448.81 261.85,449.15 261.90,449.49 261.95,449.83 262.00,450.15 262.00,450.15 262.05,450.45 262.10,450.74 262.15,451.00 262.20,451.25 262.25,451.47 262.25,451.47 262.30,451.68 262.35,451.87 262.40,452.05 262.45,452.22 262.50,452.37 262.50,452.37 262.55,452.51 262.60,452.64 262.65,452.77 262.70,452.88 262.75,452.99 262.75,452.99 262.80,453.09 262.85,453.19 262.90,453.28 262.95,453.36 263.00,453.45 263.00,453.45 263.05,453.52 263.10,453.60 263.15,453.67 263.20,453.74 263.25,453.80 263.25,453.80 263.30,453.86 263.35,453.92 263.40,453.98 263.45,454.03 263.50,454.09 263.50,454.09 263.55,454.14 263.60,454.19 263.65,454.23 263.70,454.28 263.75,454.32 263.75,454.32 263.80,454.37 263.85,454.41 263.90,454.45 263.95,454.49 264.00,454.52 264.00,454.52 264.05,454.56 264.10,454.59 264.15,454.63 264.20,454.66 264.25,454.69 264.25,454.69 264.30,454.72 264.35,454.75 264.40,454.78 264.45,454.81 264.50,454.84 264.50,454.84 264.55,454.87 264.60,454.89 264.65,454.92 264.70,454.94 264.75,454.96 264.75,454.96 264.80,454.99 264.85,455.01 264.90,455.03 264.95,455.05 265.00,455.07 265.00,455.07 265.05,455.09 265.10,455.11 265.15,455.13 265.20,455.15 265.25,455.17 265.25,455.17 265.30,455.19 265.35,455.20 265.40,455.22 265.45,455.24 265.50,455.25 265.75,455.33 266.00,455.39 266.25,455.45 266.50,455.50 266.75,455.54 267.00,455.58 267.25,455.62 267.50,455.65 267.75,455.68 268.00,455.71 268.25,455.73 268.50,455.75 268.75,455.78 269.00,455.79 269.25,455.81 269.50,455.83 269.75,455.84 270.00,455.85 270.25,455.87 270.50,455.88 270.75,455.89 271.00,455.90 271.25,455.91 271.50,455.92 271.75,455.92 272.00,455.93 272.25,455.94 272.50,455.95 272.75,455.95 273.00,455.96 273.25,455.96 273.50,455.97 273.75,455.97 274.00,455.98 274.25,455.98 274.50,455.99 274.75,455.99 275.00,455.99 275.25,456.00 275.50,456.00 275.75,456.00 276.00,456.01 276.25,456.01 276.50,456.01 276.75,456.02 277.00,456.02 277.25,456.02 277.50,456.02 277.75,456.02 278.00,456.03 278.25,456.03 278.50,456.03 278.75,456.03 279.00,456.03 279.25,456.04 279.50,456.04 279.75,456.04 280.00,456.04 280.25,456.04 280.50,456.04 280.75,456.04 281.00,456.04 281.25,456.05 281.50,456.05 281.75,456.05 282.00,456.05 282.25,456.05 282.50,456.05 282.75,456.05 283.00,456.05 283.25,456.05 283.50,456.05 283.75,456.05 284.00,456.05 284.25,456.05 284.50,456.05 284.75,456.05 285.00,456.05 285.25,456.05 285.50,456.05 285.75,456.05 286.00,456.05 286.25,456.05 286.50,456.05 286.75,456.05 287.00,456.05 287.25,456.05 287.50,456.05 287.75,456.05 288.00,456.05 288.25,456.05 288.50,456.05 288.75,456.05 289.00,456.05 289.25,456.05 289.50,456.05 289.75,456.05 290.00,456.04 290.25,456.04 290.50,456.04 290.75,456.04 291.00,454.76 291.25,454.76 291.50,454.75 291.75,454.75 292.00,454.75 292.25,454.75 292.50,454.74 292.75,454.74 293.00,454.74 293.25,454.73 293.50,454.73 293.75,454.73 294.00,454.72 294.25,454.72 294.50,454.71 294.75,454.71 295.00,454.70 295.25,455.98 295.50,455.97 295.75,455.96 296.00,455.95 296.25,455.94 296.50,455.93 296.75,455.92 297.00,455.91 297.25,455.90 297.50,455.88 297.75,455.87 298.00,455.85 298.25,455.83 298.50,455.81 298.75,455.78 299.00,454.16 299.25,454.12 299.50,454.09 299.75,454.05 300.00,454.00 300.25,453.95 300.50,453.88 300.75,453.81 301.00,453.73 301.25,453.63 301.50,453.52 301.75,453.40 302.00,453.26 302.25,453.11 302.50,452.95 302.75,452.79 303.00,452.65 303.25,452.55 303.50,452.49 303.75,452.49 304.00,452.55 304.25,452.65 304.50,452.78 304.75,452.93 305.00,453.08 305.25,453.21 305.50,453.34 305.75,453.45 306.00,453.54 306.25,455.22 306.50,455.28 306.75,455.34 307.00,454.42 307.25,454.45 307.50,454.48 307.75,454.50 308.00,454.51 308.25,454.52 308.50,454.51 308.75,454.51 309.00,454.50 309.25,454.48 309.50,454.46 309.75,454.43 310.00,454.39 310.25,454.34 310.50,454.29 310.75,454.23 310.90,454.18 310.95,454.17 311.00,454.15 311.05,454.14 311.10,454.12 311.15,454.10 311.20,454.08 311.25,454.06 311.25,454.06 311.30,454.05 311.35,454.03 311.40,454.01 311.45,453.98 311.50,453.96 311.50,453.96 311.55,453.94 311.60,453.92 311.65,453.89 311.70,453.87 311.75,453.84 311.75,453.84 311.80,453.81 311.85,453.79 311.90,453.76 311.95,453.73 312.00,453.70 312.00,453.70 312.05,453.67 312.10,453.63 312.15,453.60 312.20,453.57 312.25,453.53 312.25,453.53 312.30,453.49 312.35,453.45 312.40,453.41 312.45,453.37 312.50,453.33 312.50,453.33 312.55,453.28 312.60,453.24 312.65,453.19 312.70,453.14 312.75,453.08 312.75,453.08 312.80,453.03 312.85,452.97 312.90,452.91 312.95,452.85 313.00,452.78 313.00,452.78 313.05,452.72 313.10,452.64 313.15,452.57 313.20,452.49 313.25,452.41 313.25,452.41 313.30,452.32 313.35,452.23 313.40,452.13 313.45,452.03 313.50,451.92 313.50,451.92 313.55,451.80 313.60,451.68 313.65,451.55 313.70,451.40 313.75,451.25 313.75,451.25 313.80,451.09 313.85,450.91 313.90,450.72 313.95,450.51 314.00,450.29 314.00,450.29 314.05,450.04 314.10,449.78 314.15,449.48 314.20,449.17 314.25,448.83 314.25,448.83 314.30,448.45 314.35,448.05 314.40,447.62 314.45,447.17 314.50,446.69 314.50,446.69 314.55,446.21 314.60,445.72 314.65,445.25 314.70,444.82 314.75,444.45 314.75,444.45 314.80,444.17 314.85,443.99 314.90,443.93 314.95,443.99 315.00,444.17 315.00,444.17 315.05,444.46 315.10,444.83 315.15,445.26 315.20,445.73 315.25,446.21 315.25,446.21 315.30,446.70 315.35,447.18 315.40,447.63 315.45,448.06 315.50,448.47 315.50,448.47 315.55,448.84 315.60,449.18 315.65,449.50 315.70,449.79 315.75,450.06 315.75,450.06 315.80,450.31 315.85,450.53 315.90,450.74 315.95,450.93 316.00,451.11 316.00,451.11 316.05,451.28 316.10,451.43 316.15,451.57 316.20,451.71 316.25,451.83 316.25,451.83 316.30,451.95 316.35,452.06 316.40,452.16 316.45,452.26 316.50,452.36 316.50,452.36 316.55,452.44 316.60,452.53 316.65,452.61 316.70,452.68 316.75,452.76 316.75,452.76 316.80,452.83 316.85,452.89 316.90,452.96 316.95,453.02 317.00,453.08 317.00,453.08 317.05,453.13 317.10,453.19 317.15,453.24 317.20,453.29 317.25,453.34 317.25,453.34 317.30,453.38 317.35,453.43 317.40,453.47 317.45,453.51 317.50,453.55 317.50,453.55 317.55,453.59 317.60,453.63 317.65,453.67 317.70,453.70 317.75,453.73 317.75,453.73 317.80,453.77 317.85,453.80 317.90,453.83 317.95,453.86 318.00,453.89 318.00,453.89 318.05,453.92 318.10,453.95 318.15,453.97 318.20,454.00 318.25,454.02 318.25,454.02 318.30,454.05 318.35,454.07 318.40,454.09 318.45,454.12 318.50,454.14 318.50,454.14 318.55,454.16 318.60,454.18 318.65,454.20 318.70,454.22 318.75,454.24 318.75,454.24 318.80,454.25 318.85,454.27 319.00,454.32 319.25,454.40 319.50,454.47 319.75,454.52 320.00,454.58 320.25,454.62 320.50,454.67 320.75,454.70 321.00,454.74 321.25,455.73 321.50,455.75 321.75,455.78 322.00,455.80 322.25,455.82 322.50,455.84 322.75,455.86 323.00,455.87 323.25,455.89 323.50,455.90 323.75,455.92 324.00,455.93 324.25,455.94 324.50,455.95 324.75,455.96 325.00,455.97 325.25,455.97 325.50,455.98 325.75,455.99 326.00,456.00 326.25,456.00 326.50,456.01 326.75,456.01 327.00,456.02 327.25,456.02 327.50,456.03 327.75,456.03 328.00,456.04 328.25,456.04 328.50,456.05 328.75,456.05 329.00,456.05 329.25,456.06 329.50,456.06 329.75,456.06 330.00,456.06 330.25,456.07 330.50,456.07 330.75,456.07 331.00,456.07 331.25,456.08 331.50,456.08 331.75,456.08 332.00,456.08 332.25,456.08 332.50,456.09 332.75,456.09 333.00,456.09 333.25,456.09 333.50,456.09 333.75,456.09 334.00,456.10 334.25,456.10 334.50,456.10 334.75,456.10 335.00,456.10 335.25,456.10 335.50,456.10 335.75,456.10 336.00,456.11 336.25,456.11 336.50,456.11 336.75,456.11 337.00,456.11 337.25,456.11 337.50,456.11 337.75,456.11 338.00,456.11 338.25,456.11 338.50,456.11 338.75,456.12 339.00,456.12 339.25,456.12 339.50,456.12 339.75,456.12 340.00,456.12 340.25,456.12 340.50,456.12 340.75,456.12 341.00,456.12 341.25,456.12 341.50,456.12 341.75,456.12 342.00,456.12 342.25,456.12 342.50,456.12 342.75,456.12 343.00,456.12 343.25,456.13 343.50,456.13 343.75,456.13 344.00,456.13 344.25,456.13 344.50,456.13 344.75,456.13 345.00,456.13 345.25,456.13 345.50,456.13 345.75,456.13 346.00,456.13 346.25,456.13 346.50,456.13 346.75,456.13 347.00,456.13 347.25,456.13 347.50,456.13 347.75,456.13 348.00,456.13 348.25,456.13 348.50,456.13 348.75,456.13 349.00,456.13 349.25,456.13 349.50,456.13 349.75,456.13 350.00,456.13 350.25,456.13 350.50,456.13 350.75,456.13 351.00,456.13 351.25,456.13 351.50,456.13 351.75,456.13 352.00,456.13 352.25,456.13 352.50,456.13 352.75,456.13 353.00,456.13 353.25,456.13 353.50,456.13 353.75,456.13 354.00,456.13 354.25,456.13 354.50,456.13 354.75,456.13 355.00,456.13 355.25,456.13 355.50,456.13 355.75,456.13 356.00,456.13 356.25,456.13 356.50,456.13 356.75,456.13 357.00,456.13 357.25,456.13 357.50,456.13 357.75,456.13 358.00,456.13 358.25,456.13 358.50,456.13 358.75,456.13 359.00,456.13 359.25,456.13 359.50,456.13 359.75,456.13 360.00,456.13 360.25,456.13 360.50,456.13 360.75,456.13 361.00,456.13 361.25,456.13 361.50,456.13 361.75,456.13 362.00,456.13 362.25,456.13 362.50,456.13 362.75,456.13 363.00,456.13 363.25,456.13 363.50,456.13 363.75,456.13 364.00,456.13 364.25,456.13 364.50,456.13 364.75,456.13 365.00,456.13 365.25,456.13 365.50,456.13 365.75,456.13 366.00,456.13 366.25,456.13 366.50,456.13 366.75,456.13 367.00,456.13 367.25,456.13 367.50,456.13 367.75,456.13 368.00,456.12 368.25,456.12 368.50,456.12 368.75,456.12 369.00,456.12 369.25,456.12 369.50,456.12 369.75,456.12 370.00,456.12 370.25,456.12 370.50,456.12 370.75,456.12 371.00,456.12 371.25,456.12 371.50,456.12 371.75,456.12 372.00,456.12 372.25,456.12 372.50,456.12 372.75,456.12 373.00,456.12 373.25,456.12 373.50,456.12 373.75,456.12 374.00,456.11 374.25,456.11 374.50,456.11 374.75,456.11 375.00,456.11 375.25,456.11 375.50,456.11 375.75,456.11 376.00,456.11 376.25,456.11 376.50,456.11 376.75,456.11 377.00,456.11 377.25,456.11 377.50,456.11 377.75,456.11 378.00,456.10 378.25,456.10 378.50,456.10 378.75,456.10 379.00,456.10 379.25,456.10 379.50,456.10 379.75,456.10 380.00,456.10 380.25,456.10 380.50,456.10 380.75,456.10 381.00,456.09 381.25,456.09 381.50,456.09 381.75,456.09 382.00,456.09 382.25,456.09 382.50,456.09 382.75,456.09 383.00,456.09 383.25,456.08 383.50,456.08 383.75,456.08 384.00,456.08 384.25,456.08 384.50,456.08 384.75,456.08 385.00,456.08 385.25,456.07 385.50,456.07 385.75,456.07 386.00,456.07 386.25,456.07 386.50,456.07 386.75,456.07 387.00,456.06 387.25,456.06 387.50,456.06 387.75,456.06 388.00,456.06 388.25,456.06 388.50,456.05 388.75,456.05 389.00,456.05 389.25,456.05 389.50,456.05 389.75,456.04 390.00,456.04 390.25,456.04 390.50,456.04 390.75,456.04 391.00,456.03 391.25,456.03 391.50,456.03 391.75,456.03 392.00,456.02 392.25,456.02 392.50,456.02 392.75,456.02 393.00,456.01 393.25,456.01 393.50,456.01 393.75,456.00 394.00,456.00 394.25,456.00 394.50,455.99 394.75,455.99 395.00,455.99 395.25,455.98 395.50,455.98 395.75,455.98 396.00,455.97 396.25,455.97 396.50,455.96 396.75,455.96 397.00,455.95 397.25,455.95 397.50,455.95 397.75,455.94 398.00,455.94 398.25,455.93 398.50,455.92 398.75,455.92 399.00,455.91 399.25,455.91 399.50,455.90 399.75,455.89 400.00,455.89 400.25,455.88 400.50,455.87 400.75,455.87 401.00,455.86 401.25,455.85 401.50,455.84 401.75,455.83 402.00,455.83 402.25,455.82 402.50,455.81 402.75,455.80 403.00,455.79 403.25,455.78 403.50,455.77 403.75,455.75 404.00,455.74 404.25,455.73 404.50,455.72 404.75,455.70 405.00,455.69 405.25,455.67 405.50,455.66 405.75,455.64 406.00,455.62 406.25,455.60 406.50,455.59 406.75,455.57 407.00,455.55 407.25,455.52 407.50,455.50 407.75,455.48 408.00,455.45 408.25,455.42 408.50,455.40 408.75,455.36 409.00,455.33 409.25,455.30 409.50,455.26 409.75,455.23 410.00,455.19 410.25,455.14 410.50,455.10 410.75,455.05 411.00,455.00 411.25,454.95 411.50,454.89 411.75,454.83 412.00,454.76 412.25,454.69 412.50,454.61 412.75,454.53 413.00,454.44 413.25,454.35 413.50,454.24 413.75,454.13 414.00,454.01 414.25,453.89 414.50,453.75 414.75,453.59 415.00,453.43 415.25,453.25 415.50,453.06 415.75,452.84 416.00,452.61 416.25,452.36 416.50,452.08 416.70,451.83 416.75,451.77 416.80,451.71 416.85,451.64 416.90,451.57 416.95,451.50 417.00,451.43 417.00,451.43 417.05,451.36 417.10,451.29 417.15,451.21 417.20,451.14 417.25,451.06 417.25,451.06 417.30,450.98 417.35,450.90 417.40,450.81 417.45,450.73 417.50,450.64 417.50,450.64 417.55,450.55 417.60,450.46 417.65,450.37 417.70,450.27 417.75,450.17 417.75,450.17 417.80,450.07 417.85,449.97 417.90,449.87 417.95,449.76 418.00,449.65 418.00,449.65 418.05,449.53 418.10,449.41 418.15,449.29 418.20,449.17 418.25,449.04 418.25,449.04 418.30,448.90 418.35,448.76 418.40,448.62 418.45,448.47 418.50,448.32 418.50,448.32 418.55,448.16 418.60,447.99 418.65,447.82 418.70,447.64 418.75,447.45 418.75,447.45 418.80,447.25 418.85,447.04 418.90,446.83 418.95,446.60 419.00,446.35 419.00,446.35 419.05,446.10 419.10,445.82 419.15,445.53 419.20,445.23 419.25,444.90 419.25,444.90 419.30,444.54 419.35,444.17 419.40,443.76 419.45,443.32 419.50,442.85 419.50,442.85 419.55,442.33 419.60,441.77 419.65,441.17 419.70,440.50 419.75,439.78 419.75,439.78 419.80,438.98 419.85,438.11 419.90,437.15 419.95,436.10 420.00,434.96 420.00,434.96 420.05,433.70 420.10,432.33 420.15,430.85 420.20,429.25 420.25,427.56 420.25,427.56 420.30,425.78 420.35,423.96 420.40,422.13 420.45,420.37 420.50,418.75 420.50,418.75 420.55,417.36 420.60,416.28 420.65,415.60 420.70,415.37 420.75,415.60 420.75,415.60 420.80,416.28 420.85,417.36 420.90,418.75 420.95,420.37 421.00,422.13 421.00,422.13 421.05,423.96 421.10,425.78 421.15,427.56 421.20,429.25 421.25,430.85 421.25,430.85 421.30,432.33 421.35,433.70 421.40,434.96 421.45,436.10 421.50,437.15 421.50,437.15 421.55,438.11 421.60,438.98 421.65,439.78 421.70,440.50 421.75,441.17 421.75,441.17 421.80,441.77 421.85,442.33 421.90,442.85 421.95,443.32 422.00,443.76 422.00,443.76 422.05,444.17 422.10,444.54 422.15,444.90 422.20,445.22 422.25,445.53 422.25,445.53 422.30,445.82 422.35,446.09 422.40,446.35 422.45,446.59 422.50,446.82 422.50,446.82 422.55,447.04 422.60,447.25 422.65,447.45 422.70,447.64 422.75,447.82 422.75,447.82 422.80,447.99 422.85,448.16 422.90,448.32 422.95,448.47 423.00,448.62 423.00,448.62 423.05,448.76 423.10,448.90 423.15,449.03 423.20,449.16 423.25,449.29 423.25,449.29 423.30,449.41 423.35,449.53 423.40,449.64 423.45,449.76 423.50,449.86 423.50,449.86 423.55,449.97 423.60,450.07 423.65,450.17 423.70,450.27 423.75,450.37 423.75,450.37 423.80,450.46 423.85,450.55 423.90,450.64 423.95,450.73 424.00,450.81 424.00,450.81 424.05,450.89 424.10,450.98 424.15,451.06 424.20,451.13 424.25,451.21 424.25,451.21 424.30,451.28 424.35,451.36 424.40,451.43 424.45,451.50 424.50,451.57 424.50,451.57 424.55,451.64 424.60,451.70 424.65,451.77 424.75,451.89 425.00,452.19 425.25,452.46 425.50,452.70 425.75,452.93 426.00,453.13 426.25,453.32 426.50,453.49 426.75,453.65 427.00,453.80 427.25,453.93 427.50,454.06 427.75,454.17 428.00,454.28 428.25,454.38 428.50,454.47 428.75,454.56 429.00,454.64 429.25,454.71 429.50,454.78 429.75,454.84 430.00,454.90 430.25,454.96 430.50,455.01 430.75,455.06 431.00,455.11 431.25,455.15 431.50,455.20 431.75,455.23 432.00,455.27 432.25,455.31 432.50,455.34 432.75,455.37 433.00,454.12 433.25,454.15 433.50,454.17 433.75,454.20 434.00,454.22 434.25,454.24 434.50,454.26 434.75,454.28 435.00,454.30 435.25,454.32 435.50,454.34 435.75,454.36 436.00,454.37 436.25,454.39 436.50,454.40 436.75,454.42 437.00,454.43 437.25,454.44 437.50,454.45 437.75,454.47 438.00,454.48 438.25,454.49 438.50,454.50 438.75,454.51 439.00,454.52 439.25,454.53 439.50,454.53 439.75,454.54 440.00,454.55 440.25,454.56 440.50,454.57 440.75,454.57 441.00,454.58 441.25,454.59 441.50,454.59 441.75,454.60 442.00,454.61 442.25,454.61 442.50,454.62 442.75,454.62 443.00,454.63 443.25,454.63 443.50,454.64 443.75,454.64 444.00,454.65 444.25,454.65 444.50,454.66 444.75,454.66 445.00,454.66 445.25,454.67 445.50,454.67 445.75,454.67 446.00,454.68 446.25,454.68 446.50,454.68 446.75,454.69 447.00,454.69 447.25,454.69 447.50,454.70 447.75,454.70 448.00,454.70 448.25,454.70 448.50,454.71 448.75,454.71 449.00,454.71 449.25,454.71 449.50,454.72 449.75,454.72 450.00,454.72 450.25,454.72 450.50,454.72 450.75,454.73 451.00,454.73 451.25,454.73 451.50,454.73 451.75,454.73 452.00,454.73 452.25,456.02 452.50,456.02 452.75,456.02 453.00,456.02 453.25,456.02 453.50,456.02 453.75,456.02 454.00,456.02 454.25,456.02 454.50,456.03 454.75,456.03 455.00,456.03 455.25,456.03 455.50,456.03 455.75,456.03 456.00,456.03 456.25,456.03 456.50,456.03 456.75,456.03 457.00,456.03 457.25,456.03 457.50,456.03 457.75,456.03 458.00,456.03 458.25,456.04 458.50,456.04 458.75,456.04 459.00,456.04 459.25,456.04 459.50,456.04 459.75,456.04 460.00,456.04 460.25,456.04 460.50,456.04 460.75,456.04 461.00,456.04 461.25,456.04 461.50,456.04 461.75,456.04 462.00,456.03 462.25,456.03 462.50,456.03 462.75,456.03 463.00,456.03 463.25,456.03 463.50,456.03 463.75,456.03 464.00,456.03 464.25,456.03 464.50,456.03 464.75,456.03 465.00,456.03 465.25,456.03 465.50,456.03 465.75,456.03 466.00,456.02 466.25,456.02 466.50,456.02 466.75,456.02 467.00,456.02 467.25,456.02 467.50,456.02 467.75,456.02 468.00,456.01 468.25,456.01 468.50,456.01 468.75,456.01 469.00,456.01 469.25,456.01 469.50,456.00 469.75,456.00 470.00,456.00 470.25,456.00 470.50,456.00 470.75,455.99 471.00,455.99 471.25,455.99 471.50,455.99 471.75,455.98 472.00,455.98 472.25,455.98 472.50,455.97 472.75,455.97 473.00,455.97 473.25,455.96 473.50,455.96 473.75,455.96 474.00,455.95 474.25,455.95 474.50,455.95 474.75,455.94 475.00,454.66 475.25,454.65 475.50,454.65 475.75,454.64 476.00,454.64 476.25,454.63 476.50,454.63 476.75,454.62 477.00,454.61 477.25,454.61 477.50,454.60 477.75,454.60 478.00,454.59 478.25,454.58 478.50,454.57 478.75,454.57 479.00,454.56 479.25,454.55 479.50,454.54 479.75,454.53 480.00,454.52 480.25,454.51 480.50,454.50 480.75,454.49 481.00,454.48 481.25,454.46 481.50,454.45 481.75,454.44 482.00,454.42 482.25,454.41 482.50,454.39 482.75,454.38 483.00,454.36 483.25,454.34 483.50,454.32 483.75,454.30 484.00,454.28 484.25,454.26 484.50,454.24 484.75,454.21 485.00,454.18 485.25,455.44 485.50,455.41 485.75,455.37 486.00,455.34 486.25,455.31 486.50,455.27 486.75,455.23 487.00,455.18 487.25,455.14 487.50,455.09 487.75,455.04 488.00,454.98 488.25,454.92 488.50,454.85 488.75,454.78 489.00,454.70 489.25,454.62 489.50,454.53 489.75,454.43 490.00,454.33 490.25,454.21 490.50,454.08 490.75,453.94 491.00,453.79 491.25,453.62 491.50,453.43 491.75,453.22 492.00,452.98 492.05,452.93 492.10,452.88 492.15,452.83 492.20,452.77 492.25,452.72 492.25,452.72 492.30,452.66 492.35,452.60 492.40,452.54 492.45,452.48 492.50,452.42 492.50,452.42 492.55,452.35 492.60,452.29 492.65,452.22 492.70,452.15 492.75,452.08 492.75,452.08 492.80,452.00 492.85,451.93 492.90,451.85 492.95,451.77 493.00,451.69 493.00,451.69 493.05,451.61 493.10,451.52 493.15,451.43 493.20,451.34 493.25,451.25 493.25,451.25 493.30,451.16 493.35,451.06 493.40,450.96 493.45,450.85 493.50,450.75 493.50,450.75 493.55,450.64 493.60,450.53 493.65,450.42 493.70,450.30 493.75,450.18 493.75,450.18 493.80,450.05 493.85,449.93 493.90,449.80 493.95,449.67 494.00,449.53 494.00,449.53 494.05,449.39 494.10,449.25 494.15,449.11 494.20,448.96 494.25,448.81 494.25,448.81 494.30,448.65 494.35,448.50 494.40,448.34 494.45,448.17 494.50,448.01 494.50,448.01 494.55,447.84 494.60,447.67 494.65,447.50 494.70,447.33 494.75,447.16 494.75,447.16 494.80,446.99 494.85,446.81 494.90,446.64 494.95,446.47 495.00,446.30 495.00,446.30 495.05,446.13 495.10,445.96 495.15,445.79 495.20,445.63 495.25,445.48 495.25,445.48 495.30,445.33 495.35,445.18 495.40,445.05 495.45,444.92 495.50,444.79 495.50,444.79 495.55,444.68 495.60,444.58 495.65,444.49 495.70,444.41 495.75,444.34 495.75,444.34 495.80,444.28 495.85,444.23 495.90,444.20 495.95,444.18 496.00,444.17 496.00,444.17 496.05,444.18 496.10,444.20 496.15,444.23 496.20,444.28 496.25,444.34 496.25,444.34 496.30,444.41 496.35,444.49 496.40,444.58 496.45,444.68 496.50,444.80 496.50,444.80 496.55,444.92 496.60,445.05 496.65,445.18 496.70,445.33 496.75,445.48 496.75,445.48 496.80,445.64 496.85,445.80 496.90,445.96 496.95,446.13 497.00,446.30 497.00,446.30 497.05,446.47 497.10,446.64 497.15,446.81 497.20,446.99 497.25,447.16 497.25,447.16 497.30,447.33 497.35,447.51 497.40,447.68 497.45,447.84 497.50,448.01 497.50,448.01 497.55,448.18 497.60,448.34 497.65,448.50 497.70,448.65 497.75,448.81 497.75,448.81 497.80,448.96 497.85,449.11 497.90,449.25 497.95,449.39 498.00,449.53 498.00,449.53 498.05,449.67 498.10,449.80 498.15,449.93 498.20,450.06 498.25,450.18 498.25,450.18 498.30,450.30 498.35,450.42 498.40,450.53 498.45,450.64 498.50,450.75 498.50,450.75 498.55,450.86 498.60,450.96 498.65,451.06 498.70,451.16 498.75,451.25 498.75,451.25 498.80,451.35 498.85,451.44 498.90,451.53 498.95,451.61 499.00,451.69 499.00,451.69 499.05,451.78 499.10,451.85 499.15,451.93 499.20,452.01 499.25,452.08 499.25,452.08 499.30,452.15 499.35,452.22 499.40,452.29 499.45,452.36 499.50,452.42 499.50,452.42 499.55,452.48 499.60,452.55 499.65,452.61 499.70,452.66 499.75,452.72 499.75,452.72 499.80,452.78 499.85,452.83 499.90,452.88 499.95,452.94 500.00,452.99 500.25,453.22 500.50,453.44 500.75,453.63 501.00,453.80 501.25,453.95 501.50,454.09 501.75,454.22 502.00,454.34 502.25,454.44 502.50,454.54 502.75,454.63 503.00,454.71 503.25,454.79 503.50,454.86 503.75,454.93 504.00,454.99 504.25,455.05 504.50,455.10 504.75,455.15 505.00,453.76 505.25,453.80 505.50,453.84 505.75,453.88 506.00,453.91 506.25,453.95 506.50,453.98 506.75,454.01 507.00,454.04 507.25,454.07 507.50,454.09 507.75,454.11 508.00,454.14 508.25,454.16 508.50,454.18 508.75,454.20 509.00,454.22 509.25,454.24 509.50,454.25 509.75,454.27 510.00,454.28 510.25,454.30 510.50,454.31 510.75,454.32 511.00,454.34 511.25,454.35 511.50,454.36 511.75,454.37 512.00,454.38 512.25,454.39 512.50,454.40 512.75,454.41 513.00,454.42 513.25,454.43 513.50,454.44 513.75,454.45 514.00,454.45 514.25,454.46 514.50,454.47 514.75,454.48 515.00,454.48 515.25,454.49 515.50,454.49 515.75,454.50 516.00,454.51 516.25,454.51 516.50,454.52 516.75,454.52 517.00,454.53 517.25,454.53 517.50,454.54 517.75,454.54 518.00,454.55 518.25,454.55 518.50,454.55 518.75,454.56 519.00,454.56 519.25,454.57 519.50,454.57 519.75,454.57 520.00,454.58 520.25,454.58 520.50,454.58 520.75,454.59 521.00,454.59 521.25,454.59 521.50,454.60 521.75,454.60 522.00,454.60 522.25,454.60 522.50,454.61 522.75,454.61 523.00,454.61 523.25,454.61 523.50,454.62 523.75,456.06" fill="none" stroke="#0000ff" stroke-width="1.8" stroke-linejoin="round"/>
<polyline points="83.00,456.44 83.25,456.44 83.50,456.44 83.75,456.44 84.00,456.44 84.25,456.44 84.50,456.44 84.75,456.44 85.00,456.44 85.25,456.44 85.50,456.44 85.75,456.44 86.00,456.44 86.25,456.44 86.50,456.44 86.75,456.44 87.00,456.44 87.25,456.44 87.50,456.44 87.75,456.44 88.00,456.44 88.25,456.44 88.50,456.44 88.75,456.44 89.00,456.44 89.25,456.44 89.50,456.44 89.75,456.44 90.00,456.44 90.25,456.44 90.50,456.44 90.75,456.44 91.00,456.44 91.25,456.44 91.50,456.44 91.75,456.44 92.00,456.44 92.25,456.44 92.50,456.44 92.75,456.44 93.00,456.44 93.25,456.44 93.50,456.44 93.75,456.44 94.00,456.44 94.25,456.44 94.50,456.44 94.75,456.44 95.00,456.44 95.25,456.44 95.50,456.44 95.75,456.44 96.00,456.44 96.25,456.44 96.50,456.44 96.75,456.44 97.00,456.44 97.25,456.44 97.50,456.44 97.75,456.44 98.00,456.44 98.25,456.44 98.50,456.44 98.75,456.44 99.00,456.44 99.25,456.44 99.50,456.44 99.75,456.44 100.00,456.44 100.25,456.44 100.50,456.44 100.75,456.44 101.00,456.44 101.25,456.44 101.50,456.44 101.75,456.44 102.00,456.44 102.25,456.44 102.50,456.44 102.75,456.44 103.00,456.44 103.25,456.44 103.50,456.44 103.75,456.44 104.00,456.44 104.25,456.44 104.50,456.44 104.75,456.44 105.00,456.44 105.25,456.44 105.50,456.44 105.75,456.44 106.00,456.44 106.25,456.44 106.50,456.44 106.75,456.44 107.00,456.44 107.25,456.44 107.50,456.44 107.75,456.44 108.00,456.44 108.25,456.44 108.50,456.44 108.75,456.44 109.00,456.44 109.25,456.44 109.50,456.44 109.75,456.44 110.00,456.44 110.25,456.44 110.50,456.44 110.75,456.44 111.00,456.44 111.25,456.44 111.50,456.44 111.75,456.44 112.00,456.44 112.25,456.44 112.50,456.44 112.75,456.44 113.00,456.44 113.25,456.44 113.50,456.44 113.75,456.44 114.00,456.44 114.25,456.44 114.50,456.44 114.75,456.44 115.00,456.44 115.25,456.44 115.50,456.44 115.75,456.44 116.00,456.44 116.25,456.44 116.50,456.44 116.75,456.44 117.00,456.44 117.25,456.44 117.50,456.44 117.75,456.44 118.00,456.44 118.25,456.44 118.50,456.44 118.75,456.44 119.00,456.44 119.25,456.44 119.50,456.44 119.75,456.44 120.00,456.44 120.25,456.44 120.50,456.44 120.75,456.44 121.00,456.44 121.25,456.44 121.50,456.44 121.75,456.44 122.00,456.44 122.25,456.44 122.50,456.44 122.75,456.44 123.00,456.44 123.25,456.44 123.50,456.44 123.75,456.44 124.00,456.44 124.25,456.44 124.50,456.44 124.75,456.44 125.00,456.44 125.25,456.44 125.50,456.44 125.75,456.44 126.00,456.44 126.25,456.44 126.50,456.44 126.75,456.44 127.00,456.44 127.25,456.44 127.50,456.44 127.75,456.44 128.00,456.44 128.25,456.44 128.50,456.44 128.75,456.44 129.00,456.44 129.25,456.44 129.50,456.44 129.75,456.44 130.00,456.44 130.25,456.44 130.50,456.44 130.75,456.44 131.00,456.44 131.25,456.44 131.50,456.44 131.75,456.44 132.00,456.44 132.25,456.44 132.50,456.44 132.75,456.44 133.00,456.44 133.25,456.44 133.50,456.44 133.75,456.44 134.00,456.44 134.25,456.44 134.50,456.44 134.75,456.44 135.00,456.44 135.25,456.44 135.50,456.44 135.75,456.44 136.00,456.44 136.25,456.44 136.50,456.44 136.75,456.44 137.00,456.44 137.25,456.44 137.50,456.44 137.75,456.44 138.00,456.44 138.25,456.44 138.50,456.44 138.75,456.44 139.00,456.44 139.25,456.44 139.50,456.44 139.75,456.44 140.00,456.44 140.25,456.44 140.50,456.44 140.75,456.44 141.00,456.44 141.25,456.44 141.50,456.44 141.75,456.44 142.00,456.44 142.25,456.44 142.50,456.44 142.75,456.44 143.00,456.44 143.25,456.44 143.50,456.44 143.75,456.44 144.00,456.44 144.25,456.44 144.50,456.44 144.75,456.44 145.00,456.44 145.25,456.44 145.50,456.44 145.75,456.44 146.00,456.44 146.25,456.44 146.50,456.44 146.75,456.44 147.00,456.44 147.25,456.44 147.50,456.44 147.75,456.44 148.00,456.44 148.25,456.44 148.50,456.44 148.75,456.44 149.00,456.44 149.25,456.44 149.50,456.44 149.75,456.43 150.00,456.43 150.25,456.43 150.50,456.43 150.75,456.43 151.00,456.43 151.25,456.43 151.50,456.43 151.75,456.43 152.00,456.43 152.25,456.43 152.50,456.43 152.75,456.43 153.00,456.43 153.25,456.43 153.50,456.43 153.75,456.43 154.00,456.43 154.25,456.43 154.50,456.43 154.75,456.43 155.00,456.43 155.25,456.43 155.50,456.43 155.75,456.43 156.00,456.43 156.25,456.43 156.50,456.43 156.75,456.43 157.00,456.43 157.25,456.43 157.50,456.43 157.75,456.43 158.00,456.43 158.25,456.43 158.50,456.43 158.75,456.43 159.00,456.43 159.25,456.43 159.50,456.43 159.75,456.43 160.00,456.43 160.25,456.43 160.50,456.43 160.75,456.43 161.00,456.43 161.25,456.43 161.50,456.43 161.75,456.43 162.00,456.43 162.25,456.43 162.50,456.43 162.75,456.43 163.00,456.43 163.25,456.43 163.50,456.43 163.75,456.43 164.00,456.43 164.25,456.43 164.50,456.43 164.75,456.43 165.00,456.43 165.25,456.43 165.50,456.43 165.75,456.43 166.00,456.43 166.25,456.43 166.50,456.43 166.75,456.43 167.00,456.43 167.25,456.43 167.50,456.43 167.75,456.43 168.00,456.43 168.25,456.43 168.50,456.43 168.75,456.43 169.00,456.43 169.25,456.43 169.50,456.43 169.75,456.43 170.00,456.43 170.25,456.43 170.50,456.43 170.75,456.43 171.00,456.43 171.25,456.43 171.50,456.43 171.75,456.43 172.00,456.43 172.25,456.43 172.50,456.43 172.75,456.43 173.00,456.43 173.25,456.43 173.50,456.43 173.75,456.43 174.00,456.43 174.25,456.43 174.50,456.43 174.75,456.43 175.00,456.43 175.25,456.43 175.50,456.43 175.75,456.43 176.00,456.43 176.25,456.43 176.50,456.43 176.75,456.43 177.00,456.43 177.25,456.43 177.50,456.43 177.75,456.43 178.00,456.42 178.25,456.42 178.50,456.42 178.75,456.42 179.00,456.42 179.25,456.42 179.50,456.42 179.75,456.42 180.00,456.42 180.25,456.42 180.50,456.42 180.75,456.42 181.00,456.42 181.25,456.42 181.50,456.42 181.75,456.42 182.00,456.42 182.25,456.42 182.50,456.42 182.75,456.42 183.00,456.42 183.25,456.42 183.50,456.42 183.75,456.42 184.00,456.42 184.25,456.42 184.50,456.42 184.75,456.42 185.00,456.42 185.25,456.42 185.50,456.42 185.75,456.42 186.00,456.42 186.25,456.41 186.50,456.41 186.75,456.41 187.00,456.41 187.25,456.41 187.50,456.41 187.75,456.41 188.00,456.41 188.25,456.41 188.50,456.41 188.75,456.41 189.00,456.41 189.25,456.41 189.50,456.41 189.75,456.41 190.00,456.41 190.25,456.41 190.50,456.40 190.75,456.40 191.00,456.40 191.25,456.40 191.50,456.40 191.75,456.40 192.00,456.40 192.25,456.40 192.50,456.40 192.75,456.40 193.00,456.40 193.25,456.39 193.50,456.39 193.75,456.39 194.00,456.39 194.25,456.39 194.50,456.39 194.75,456.39 195.00,456.39 195.25,456.38 195.50,456.38 195.75,456.38 196.00,456.38 196.25,456.38 196.50,456.38 196.75,456.37 197.00,456.37 197.25,456.37 197.50,456.37 197.75,456.36 198.00,456.36 198.25,456.36 198.50,456.36 198.75,456.35 199.00,456.35 199.25,456.35 199.50,456.34 199.75,456.34 200.00,456.34 200.25,456.33 200.50,456.33 200.75,456.32 201.00,456.32 201.25,456.31 201.50,456.31 201.75,456.30 202.00,456.30 202.25,456.29 202.50,456.28 202.75,456.28 203.00,456.27 203.25,456.26 203.50,456.25 203.75,456.24 204.00,456.23 204.25,456.22 204.50,456.21 204.75,456.19 205.00,456.18 205.25,456.16 205.50,456.14 205.75,456.12 206.00,456.10 206.25,456.08 206.50,456.05 206.75,456.02 207.00,455.99 207.25,455.96 207.50,455.92 207.75,455.87 208.00,455.82 208.25,455.76 208.50,455.69 208.75,455.62 208.90,455.57 208.95,455.55 209.00,455.53 209.00,455.53 209.05,455.51 209.10,455.49 209.15,455.47 209.20,455.45 209.25,455.43 209.25,455.43 209.30,455.40 209.30,455.40 209.35,455.38 209.35,455.38 209.40,455.36 209.40,455.36 209.45,455.33 209.45,455.33 209.50,455.31 209.50,455.31 209.50,455.31 209.55,455.28 209.55,455.28 209.60,455.25 209.60,455.25 209.65,455.23 209.65,455.23 209.70,455.20 209.70,455.20 209.75,455.17 209.75,455.17 209.75,455.17 209.80,455.13 209.80,455.13 209.85,455.10 209.85,455.10 209.90,455.07 209.90,455.07 209.95,455.03 209.95,455.03 210.00,455.00 210.00,455.00 210.00,455.00 210.05,454.96 210.05,454.96 210.10,454.92 210.10,454.92 210.15,454.88 210.15,454.88 210.20,454.84 210.20,454.84 210.25,454.79 210.25,454.79 210.25,454.79 210.30,454.75 210.30,454.75 210.35,454.70 210.35,454.70 210.40,454.65 210.40,454.65 210.45,454.60 210.45,454.60 210.50,454.54 210.50,454.54 210.50,454.54 210.55,454.48 210.55,454.48 210.60,454.42 210.60,454.42 210.65,454.36 210.65,454.36 210.70,454.30 210.70,454.30 210.75,454.23 210.75,454.23 210.75,454.23 210.80,454.15 210.80,454.15 210.85,454.08 210.85,454.08 210.90,454.00 210.90,454.00 210.95,453.91 210.95,453.91 211.00,453.82 211.00,453.82 211.00,453.82 211.05,453.73 211.05,453.73 211.10,453.63 211.10,453.63 211.15,453.52 211.15,453.52 211.20,453.41 211.20,453.41 211.25,453.28 211.25,453.28 211.25,453.28 211.30,453.15 211.30,453.15 211.35,453.02 211.35,453.02 211.40,452.87 211.40,452.87 211.45,452.71 211.45,452.71 211.50,452.53 211.50,452.53 211.50,452.53 211.55,452.35 211.55,452.35 211.60,452.14 211.60,452.14 211.65,451.92 211.65,451.92 211.70,451.68 211.70,451.68 211.75,451.42 211.75,451.42 211.75,451.42 211.80,451.13 211.80,451.13 211.85,450.81 211.85,450.81 211.90,450.46 211.90,450.46 211.95,450.07 211.95,450.07 212.00,449.64 212.00,449.64 212.00,449.64 212.05,449.16 212.05,449.16 212.10,448.63 212.10,448.63 212.15,448.03 212.15,448.03 212.20,447.36 212.20,447.36 212.25,446.61 212.25,446.61 212.25,446.61 212.30,445.77 212.30,445.77 212.35,444.83 212.35,444.83 212.40,443.79 212.40,443.79 212.45,442.64 212.45,442.64 212.50,441.40 212.50,441.40 212.50,441.40 212.55,440.06 212.55,440.06 212.60,438.66 212.60,438.66 212.65,437.26 212.65,437.26 212.70,435.91 212.70,435.91 212.75,434.71 212.75,434.71 212.75,434.71 212.80,433.75 212.80,433.75 212.85,433.13 212.85,433.13 212.90,432.92 212.90,432.92 212.95,433.13 212.95,433.13 213.00,433.75 213.00,433.75 213.00,433.75 213.05,434.71 213.05,434.71 213.10,435.91 213.10,435.91 213.15,437.26 213.15,437.26 213.20,438.66 213.20,438.66 213.25,440.06 213.25,440.06 213.25,440.06 213.30,441.40 213.30,441.40 213.35,442.64 213.35,442.64 213.40,443.79 213.40,443.79 213.45,444.83 213.45,444.83 213.50,445.77 213.50,445.77 213.50,445.77 213.55,446.61 213.55,446.61 213.60,447.36 213.60,447.36 213.65,448.03 213.65,448.03 213.70,448.63 213.70,448.63 213.75,449.16 213.75,449.16 213.75,449.16 213.80,449.64 213.80,449.64 213.85,450.07 213.85,450.07 213.90,450.46 213.90,450.46 213.95,450.81 213.95,450.81 214.00,451.13 214.00,451.13 214.00,451.13 214.05,451.42 214.05,451.42 214.10,451.68 214.10,451.68 214.15,451.92 214.15,451.92 214.20,452.14 214.20,452.14 214.25,452.35 214.25,452.35 214.25,452.35 214.30,452.53 214.30,452.53 214.35,452.71 214.35,452.71 214.40,452.87 214.40,452.87 214.45,453.02 214.45,453.02 214.50,453.15 214.50,453.15 214.50,453.15 214.55,453.28 214.55,453.28 214.60,453.41 214.60,453.41 214.65,453.52 214.65,453.52 214.70,453.63 214.70,453.63 214.75,453.73 214.75,453.73 214.75,453.73 214.80,453.82 214.80,453.82 214.85,453.91 214.85,453.91 214.90,454.00 214.90,454.00 214.95,454.08 214.95,454.08 215.00,454.15 215.00,454.15 215.00,454.15 215.05,454.23 215.05,454.23 215.10,454.30 215.10,454.30 215.15,454.36 215.15,454.36 215.20,454.42 215.20,454.42 215.25,454.48 215.25,454.48 215.25,454.48 215.30,454.54 215.30,454.54 215.35,454.59 215.35,454.59 215.40,454.65 215.40,454.65 215.45,454.70 215.45,454.70 215.50,454.75 215.50,454.75 215.50,454.75 215.55,454.79 215.55,454.79 215.60,454.84 215.60,454.84 215.65,454.88 215.65,454.88 215.70,454.92 215.70,454.92 215.75,454.96 215.75,454.96 215.75,454.96 215.80,455.00 215.80,455.00 215.85,455.03 215.85,455.03 215.90,455.07 215.90,455.07 215.95,455.10 215.95,455.10 216.00,455.13 216.00,455.13 216.00,455.13 216.05,455.17 216.05,455.17 216.10,455.20 216.10,455.20 216.15,455.22 216.15,455.22 216.20,455.25 216.20,455.25 216.25,455.28 216.25,455.28 216.25,455.28 216.30,455.31 216.30,455.31 216.35,455.33 216.35,455.33 216.40,455.36 216.40,455.36 216.45,455.38 216.45,455.38 216.50,455.40 216.50,455.40 216.50,455.40 216.55,455.43 216.55,455.43 216.60,455.45 216.60,455.45 216.65,455.47 216.65,455.47 216.70,455.49 216.70,455.49 216.75,455.51 216.75,455.51 216.75,455.51 216.80,455.53 216.80,455.53 216.85,455.55 216.85,455.55 216.90,455.57 216.95,455.58 217.00,455.60 217.00,455.60 217.05,455.62 217.10,455.63 217.15,455.65 217.20,455.66 217.25,455.68 217.25,455.68 217.50,455.75 217.75,455.81 218.00,455.86 218.25,455.91 218.50,455.95 218.75,455.98 219.00,456.02 219.25,456.05 219.50,456.07 219.75,456.10 220.00,456.12 220.25,456.14 220.50,456.16 220.75,456.17 221.00,456.19 221.25,456.20 221.50,456.22 221.75,456.23 222.00,456.24 222.25,456.25 222.50,456.26 222.75,456.27 223.00,456.27 223.25,456.28 223.50,456.29 223.75,456.29 224.00,456.30 224.25,456.31 224.50,456.31 224.75,456.32 225.00,456.32 225.25,456.33 225.50,456.33 225.75,456.33 226.00,456.34 226.25,456.34 226.50,456.35 226.75,456.35 227.00,456.35 227.25,456.35 227.50,456.36 227.75,456.36 228.00,456.36 228.25,456.36 228.50,456.37 228.75,456.37 229.00,456.37 229.25,456.37 229.50,456.37 229.75,456.38 230.00,456.38 230.25,456.38 230.50,456.38 230.75,456.38 231.00,456.38 231.25,456.39 231.50,456.39 231.75,456.39 232.00,456.39 232.25,456.39 232.50,456.39 232.75,456.39 233.00,456.39 233.25,456.39 233.50,456.40 233.75,456.40 234.00,456.40 234.25,456.40 234.50,456.40 234.75,456.40 235.00,456.40 235.25,456.40 235.50,456.40 235.75,456.40 236.00,456.40 236.25,456.40 236.50,456.40 236.75,456.40 237.00,456.40 237.25,456.41 237.50,456.41 237.75,456.41 238.00,456.41 238.25,456.41 238.50,456.41 238.75,456.41 239.00,456.41 239.25,456.41 239.50,456.41 239.75,456.41 240.00,456.41 240.25,456.41 240.50,456.41 240.75,456.41 241.00,456.41 241.25,456.41 241.50,456.41 241.75,456.41 242.00,456.41 242.25,456.41 242.50,456.41 242.75,456.41 243.00,456.41 243.25,456.41 243.50,456.41 243.75,456.41 244.00,456.41 244.25,456.41 244.50,456.41 244.75,456.41 245.00,456.41 245.25,456.41 245.50,456.41 245.75,456.41 246.00,456.41 246.25,456.41 246.50,456.41 246.75,456.41 247.00,456.41 247.25,456.41 247.50,456.41 247.75,456.41 248.00,456.41 248.25,456.41 248.50,456.41 248.75,456.41 249.00,456.41 249.25,456.41 249.50,456.41 249.75,456.41 250.00,456.41 250.25,456.41 250.50,456.41 250.75,456.41 251.00,456.40 251.25,456.40 251.50,456.40 251.75,456.40 252.00,456.40 252.25,456.40 252.50,456.40 252.75,456.40 253.00,456.39 253.25,456.39 253.50,456.39 253.75,456.39 254.00,456.39 254.25,456.38 254.50,456.38 254.75,456.38 255.00,456.37 255.25,456.37 255.50,456.36 255.75,456.36 256.00,456.35 256.25,456.34 256.50,456.34 256.75,456.33 257.00,456.32 257.25,456.31 257.50,456.29 257.55,456.29 257.60,456.29 257.65,456.28 257.70,456.28 257.75,456.28 257.75,456.28 257.80,456.27 257.85,456.27 257.90,456.26 257.95,456.26 258.00,456.26 258.00,456.26 258.05,456.25 258.10,456.25 258.15,456.24 258.20,456.24 258.25,456.23 258.25,456.23 258.30,456.23 258.35,456.22 258.40,456.22 258.45,456.21 258.50,456.21 258.50,456.21 258.55,456.20 258.60,456.19 258.65,456.19 258.70,456.18 258.75,456.17 258.75,456.17 258.80,456.17 258.85,456.16 258.90,456.15 258.95,456.14 259.00,456.13 259.00,456.13 259.05,456.12 259.10,456.12 259.15,456.11 259.20,456.10 259.25,456.09 259.25,456.09 259.30,456.07 259.35,456.06 259.40,456.05 259.45,456.04 259.50,456.03 259.50,456.03 259.55,456.01 259.60,456.00 259.65,455.99 259.70,455.97 259.75,455.96 259.75,455.96 259.80,455.94 259.85,455.92 259.90,455.91 259.95,455.89 260.00,455.87 260.00,455.87 260.05,455.85 260.10,455.83 260.15,455.81 260.20,455.79 260.25,455.77 260.25,455.77 260.30,455.75 260.35,455.73 260.40,455.70 260.45,455.68 260.50,455.66 260.50,455.66 260.55,455.63 260.60,455.61 260.65,455.58 260.70,455.56 260.75,455.53 260.75,455.53 260.80,455.51 260.85,455.49 260.90,455.47 260.95,455.44 261.00,455.42 261.00,455.42 261.05,455.40 261.10,455.39 261.15,455.37 261.20,455.35 261.25,455.34 261.25,455.34 261.30,455.33 261.35,455.32 261.40,455.32 261.45,455.31 261.50,455.31 261.50,455.31 261.55,455.31 261.60,455.32 261.65,455.32 261.70,455.33 261.75,455.34 261.75,455.34 261.80,455.35 261.85,455.37 261.90,455.39 261.95,455.40 262.00,455.42 262.00,455.42 262.05,455.44 262.10,455.47 262.15,455.49 262.20,455.51 262.25,455.53 262.25,455.53 262.30,455.56 262.35,455.58 262.40,455.61 262.45,455.63 262.50,455.66 262.50,455.66 262.55,455.68 262.60,455.70 262.65,455.73 262.70,455.75 262.75,455.77 262.75,455.77 262.80,455.79 262.85,455.81 262.90,455.83 262.95,455.85 263.00,455.87 263.00,455.87 263.05,455.89 263.10,455.91 263.15,455.92 263.20,455.94 263.25,455.96 263.25,455.96 263.30,455.97 263.35,455.99 263.40,456.00 263.45,456.01 263.50,456.03 263.50,456.03 263.55,456.04 263.60,456.05 263.65,456.06 263.70,456.08 263.75,456.09 263.75,456.09 263.80,456.10 263.85,456.11 263.90,456.12 263.95,456.13 264.00,456.13 264.00,456.13 264.05,456.14 264.10,456.15 264.15,456.16 264.20,456.17 264.25,456.17 264.25,456.17 264.30,456.18 264.35,456.19 264.40,456.20 264.45,456.20 264.50,456.21 264.50,456.21 264.55,456.21 264.60,456.22 264.65,456.22 264.70,456.23 264.75,456.23 264.75,456.23 264.80,456.24 264.85,456.24 264.90,456.25 264.95,456.25 265.00,456.26 265.00,456.26 265.05,456.26 265.10,456.27 265.15,456.27 265.20,456.27 265.25,456.28 265.25,456.28 265.30,456.28 265.35,456.28 265.40,456.29 265.45,456.29 265.50,456.29 265.75,456.31 266.00,456.32 266.25,456.33 266.50,456.34 266.75,456.35 267.00,456.35 267.25,456.36 267.50,456.37 267.75,456.37 268.00,456.38 268.25,456.38 268.50,456.38 268.75,456.39 269.00,456.39 269.25,456.39 269.50,456.39 269.75,456.40 270.00,456.40 270.25,456.40 270.50,456.40 270.75,456.40 271.00,456.41 271.25,456.41 271.50,456.41 271.75,456.41 272.00,456.41 272.25,456.41 272.50,456.41 272.75,456.41 273.00,456.41 273.25,456.41 273.50,456.42 273.75,456.42 274.00,456.42 274.25,456.42 274.50,456.42 274.75,456.42 275.00,456.42 275.25,456.42 275.50,456.42 275.75,456.42 276.00,456.42 276.25,456.42 276.50,456.42 276.75,456.42 277.00,456.42 277.25,456.42 277.50,456.42 277.75,456.42 278.00,456.42 278.25,456.42 278.50,456.42 278.75,456.42 279.00,456.42 279.25,456.42 279.50,456.43 279.75,456.43 280.00,456.43 280.25,456.43 280.50,456.43 280.75,456.43 281.00,456.43 281.25,456.43 281.50,456.43 281.75,456.43 282.00,456.43 282.25,456.43 282.50,456.43 282.75,456.43 283.00,456.43 283.25,456.43 283.50,456.43 283.75,456.43 284.00,456.43 284.25,456.43 284.50,456.43 284.75,456.43 285.00,456.43 285.25,456.43 285.50,456.43 285.75,456.43 286.00,456.43 286.25,456.43 286.50,456.43 286.75,456.43 287.00,456.43 287.25,456.43 287.50,456.43 287.75,456.43 288.00,456.43 288.25,456.43 288.50,456.43 288.75,456.43 289.00,456.43 289.25,456.43 289.50,456.43 289.75,456.43 290.00,456.43 290.25,456.43 290.50,456.43 290.75,456.43 291.00,456.43 291.25,456.43 291.50,456.43 291.75,456.43 292.00,456.43 292.25,456.43 292.50,456.43 292.75,456.43 293.00,456.43 293.25,456.43 293.50,456.43 293.75,456.43 294.00,456.43 294.25,456.43 294.50,456.43 294.75,456.43 295.00,456.43 295.25,456.43 295.50,456.43 295.75,456.43 296.00,456.43 296.25,456.43 296.50,456.43 296.75,456.43 297.00,456.43 297.25,456.43 297.50,456.43 297.75,456.43 298.00,456.43 298.25,456.43 298.50,456.42 298.75,456.42 299.00,456.42 299.25,456.42 299.50,456.42 299.75,456.42 300.00,456.42 300.25,456.42 300.50,456.42 300.75,456.42 301.00,456.42 301.25,456.42 301.50,456.42 301.75,456.42 302.00,456.42 302.25,456.42 302.50,456.42 302.75,456.42 303.00,456.42 303.25,456.42 303.50,456.42 303.75,456.41 304.00,456.41 304.25,456.41 304.50,456.41 304.75,456.41 305.00,456.41 305.25,456.41 305.50,456.41 305.75,456.41 306.00,456.40 306.25,456.40 306.50,456.40 306.75,456.40 307.00,456.40 307.25,456.39 307.50,456.39 307.75,456.39 308.00,456.38 308.25,456.38 308.50,456.38 308.75,456.37 309.00,456.37 309.25,456.36 309.50,456.35 309.75,456.35 310.00,456.34 310.25,456.33 310.50,456.32 310.75,456.31 310.90,456.30 310.95,456.29 311.00,456.29 311.05,456.29 311.10,456.28 311.15,456.28 311.20,456.28 311.25,456.27 311.25,456.27 311.30,456.27 311.35,456.27 311.40,456.26 311.45,456.26 311.50,456.25 311.50,456.25 311.55,456.25 311.60,456.24 311.65,456.24 311.70,456.23 311.75,456.23 311.75,456.23 311.80,456.22 311.85,456.22 311.90,456.21 311.95,456.21 312.00,456.20 312.00,456.20 312.05,456.19 312.10,456.19 312.15,456.18 312.20,456.17 312.25,456.16 312.25,456.16 312.30,456.16 312.35,456.15 312.40,456.14 312.45,456.13 312.50,456.12 312.50,456.12 312.55,456.11 312.60,456.10 312.65,456.09 312.70,456.08 312.75,456.07 312.75,456.07 312.80,456.06 312.85,456.04 312.90,456.03 312.95,456.02 313.00,456.01 313.00,456.01 313.05,455.99 313.10,455.98 313.15,455.96 313.20,455.94 313.25,455.93 313.25,455.93 313.30,455.91 313.35,455.89 313.40,455.88 313.45,455.86 313.50,455.84 313.50,455.84 313.55,455.82 313.60,455.80 313.65,455.77 313.70,455.75 313.75,455.73 313.75,455.73 313.80,455.71 313.85,455.68 313.90,455.66 313.95,455.64 314.00,455.61 314.00,455.61 314.05,455.59 314.10,455.56 314.15,455.54 314.20,455.52 314.25,455.49 314.25,455.49 314.30,455.47 314.35,455.45 314.40,455.43 314.45,455.41 314.50,455.39 314.50,455.39 314.55,455.37 314.60,455.36 314.65,455.35 314.70,455.33 314.75,455.33 314.75,455.33 314.80,455.32 314.85,455.32 314.90,455.32 314.95,455.32 315.00,455.32 315.00,455.32 315.05,455.33 315.10,455.33 315.15,455.35 315.20,455.36 315.25,455.37 315.25,455.37 315.30,455.39 315.35,455.41 315.40,455.43 315.45,455.45 315.50,455.47 315.50,455.47 315.55,455.49 315.60,455.52 315.65,455.54 315.70,455.56 315.75,455.59 315.75,455.59 315.80,455.61 315.85,455.64 315.90,455.66 315.95,455.68 316.00,455.71 316.00,455.71 316.05,455.73 316.10,455.75 316.15,455.77 316.20,455.80 316.25,455.82 316.25,455.82 316.30,455.84 316.35,455.86 316.40,455.88 316.45,455.89 316.50,455.91 316.50,455.91 316.55,455.93 316.60,455.95 316.65,455.96 316.70,455.98 316.75,455.99 316.75,455.99 316.80,456.01 316.85,456.02 316.90,456.03 316.95,456.04 317.00,456.06 317.00,456.06 317.05,456.07 317.10,456.08 317.15,456.09 317.20,456.10 317.25,456.11 317.25,456.11 317.30,456.12 317.35,456.13 317.40,456.14 317.45,456.15 317.50,456.16 317.50,456.16 317.55,456.16 317.60,456.17 317.65,456.18 317.70,456.19 317.75,456.19 317.75,456.19 317.80,456.20 317.85,456.21 317.90,456.21 317.95,456.22 318.00,456.22 318.00,456.22 318.05,456.23 318.10,456.23 318.15,456.24 318.20,456.24 318.25,456.25 318.25,456.25 318.30,456.25 318.35,456.26 318.40,456.26 318.45,456.27 318.50,456.27 318.50,456.27 318.55,456.27 318.60,456.28 318.65,456.28 318.70,456.28 318.75,456.29 318.75,456.29 318.80,456.29 318.85,456.29 319.00,456.30 319.25,456.32 319.50,456.33 319.75,456.34 320.00,456.35 320.25,456.35 320.50,456.36 320.75,456.37 321.00,456.37 321.25,456.38 321.50,456.38 321.75,456.38 322.00,456.39 322.25,456.39 322.50,456.39 322.75,456.40 323.00,456.40 323.25,456.40 323.50,456.40 323.75,456.40 324.00,456.41 324.25,456.41 324.50,456.41 324.75,456.41 325.00,456.41 325.25,456.41 325.50,456.41 325.75,456.41 326.00,456.42 326.25,456.42 326.50,456.42 326.75,456.42 327.00,456.42 327.25,456.42 327.50,456.42 327.75,456.42 328.00,456.42 328.25,456.42 328.50,456.42 328.75,456.42 329.00,456.42 329.25,456.42 329.50,456.42 329.75,456.42 330.00,456.42 330.25,456.42 330.50,456.43 330.75,456.43 331.00,456.43 331.25,456.43 331.50,456.43 331.75,456.43 332.00,456.43 332.25,456.43 332.50,456.43 332.75,456.43 333.00,456.43 333.25,456.43 333.50,456.43 333.75,456.43 334.00,456.43 334.25,456.43 334.50,456.43 334.75,456.43 335.00,456.43 335.25,456.43 335.50,456.43 335.75,456.43 336.00,456.43 336.25,456.43 336.50,456.43 336.75,456.43 337.00,456.43 337.25,456.43 337.50,456.43 337.75,456.43 338.00,456.43 338.25,456.43 338.50,456.43 338.75,456.43 339.00,456.43 339.25,456.43 339.50,456.43 339.75,456.43 340.00,456.43 340.25,456.43 340.50,456.43 340.75,456.43 341.00,456.43 341.25,456.43 341.50,456.43 341.75,456.43 342.00,456.43 342.25,456.43 342.50,456.43 342.75,456.43 343.00,456.43 343.25,456.43 343.50,456.43 343.75,456.43 344.00,456.43 344.25,456.43 344.50,456.43 344.75,456.43 345.00,456.43 345.25,456.43 345.50,456.43 345.75,456.43 346.00,456.43 346.25,456.43 346.50,456.43 346.75,456.43 347.00,456.43 347.25,456.43 347.50,456.43 347.75,456.43 348.00,456.43 348.25,456.43 348.50,456.43 348.75,456.43 349.00,456.43 349.25,456.43 349.50,456.43 349.75,456.43 350.00,456.43 350.25,456.43 350.50,456.43 350.75,456.43 351.00,456.43 351.25,456.43 351.50,456.43 351.75,456.43 352.00,456.43 352.25,456.43 352.50,456.43 352.75,456.43 353.00,456.43 353.25,456.43 353.50,456.43 353.75,456.43 354.00,456.43 354.25,456.43 354.50,456.43 354.75,456.43 355.00,456.43 355.25,456.43 355.50,456.43 355.75,456.43 356.00,456.43 356.25,456.43 356.50,456.43 356.75,456.43 357.00,456.43 357.25,456.43 357.50,456.43 357.75,456.43 358.00,456.43 358.25,456.43 358.50,456.43 358.75,456.43 359.00,456.43 359.25,456.43 359.50,456.43 359.75,456.43 360.00,456.43 360.25,456.43 360.50,456.43 360.75,456.43 361.00,456.43 361.25,456.43 361.50,456.43 361.75,456.43 362.00,456.43 362.25,456.43 362.50,456.43 362.75,456.43 363.00,456.43 363.25,456.43 363.50,456.43 363.75,456.43 364.00,456.43 364.25,456.43 364.50,456.43 364.75,456.43 365.00,456.43 365.25,456.43 365.50,456.43 365.75,456.43 366.00,456.43 366.25,456.43 366.50,456.43 366.75,456.43 367.00,456.43 367.25,456.43 367.50,456.43 367.75,456.43 368.00,456.43 368.25,456.43 368.50,456.43 368.75,456.43 369.00,456.43 369.25,456.43 369.50,456.43 369.75,456.43 370.00,456.43 370.25,456.43 370.50,456.43 370.75,456.43 371.00,456.43 371.25,456.43 371.50,456.43 371.75,456.43 372.00,456.43 372.25,456.43 372.50,456.43 372.75,456.43 373.00,456.43 373.25,456.43 373.50,456.43 373.75,456.43 374.00,456.43 374.25,456.43 374.50,456.43 374.75,456.43 375.00,456.43 375.25,456.43 375.50,456.43 375.75,456.43 376.00,456.43 376.25,456.43 376.50,456.43 376.75,456.43 377.00,456.43 377.25,456.43 377.50,456.43 377.75,456.43 378.00,456.43 378.25,456.43 378.50,456.43 378.75,456.43 379.00,456.43 379.25,456.43 379.50,456.43 379.75,456.43 380.00,456.43 380.25,456.43 380.50,456.43 380.75,456.43 381.00,456.43 381.25,456.42 381.50,456.42 381.75,456.42 382.00,456.42 382.25,456.42 382.50,456.42 382.75,456.42 383.00,456.42 383.25,456.42 383.50,456.42 383.75,456.42 384.00,456.42 384.25,456.42 384.50,456.42 384.75,456.42 385.00,456.42 385.25,456.42 385.50,456.42 385.75,456.42 386.00,456.42 386.25,456.42 386.50,456.42 386.75,456.42 387.00,456.42 387.25,456.42 387.50,456.42 387.75,456.42 388.00,456.42 388.25,456.42 388.50,456.42 388.75,456.42 389.00,456.42 389.25,456.42 389.50,456.42 389.75,456.42 390.00,456.42 390.25,456.42 390.50,456.42 390.75,456.42 391.00,456.42 391.25,456.41 391.50,456.41 391.75,456.41 392.00,456.41 392.25,456.41 392.50,456.41 392.75,456.41 393.00,456.41 393.25,456.41 393.50,456.41 393.75,456.41 394.00,456.41 394.25,456.41 394.50,456.41 394.75,456.41 395.00,456.41 395.25,456.41 395.50,456.41 395.75,456.41 396.00,456.41 396.25,456.40 396.50,456.40 396.75,456.40 397.00,456.40 397.25,456.40 397.50,456.40 397.75,456.40 398.00,456.40 398.25,456.40 398.50,456.40 398.75,456.40 399.00,456.40 399.25,456.39 399.50,456.39 399.75,456.39 400.00,456.39 400.25,456.39 400.50,456.39 400.75,456.39 401.00,456.39 401.25,456.39 401.50,456.38 401.75,456.38 402.00,456.38 402.25,456.38 402.50,456.38 402.75,456.38 403.00,456.38 403.25,456.37 403.50,456.37 403.75,456.37 404.00,456.37 404.25,456.37 404.50,456.36 404.75,456.36 405.00,456.36 405.25,456.36 405.50,456.35 405.75,456.35 406.00,456.35 406.25,456.35 406.50,456.34 406.75,456.34 407.00,456.34 407.25,456.33 407.50,456.33 407.75,456.32 408.00,456.32 408.25,456.32 408.50,456.31 408.75,456.31 409.00,456.30 409.25,456.29 409.50,456.29 409.75,456.28 410.00,456.28 410.25,456.27 410.50,456.26 410.75,456.25 411.00,456.24 411.25,456.24 411.50,456.23 411.75,456.21 412.00,456.20 412.25,456.19 412.50,456.18 412.75,456.16 413.00,456.15 413.25,456.13 413.50,456.11 413.75,456.10 414.00,456.07 414.25,456.05 414.50,456.03 414.75,456.00 415.00,455.97 415.25,455.93 415.50,455.90 415.75,455.86 416.00,455.81 416.25,455.76 416.50,455.71 416.70,455.66 416.75,455.64 416.80,455.63 416.85,455.62 416.90,455.60 416.95,455.59 417.00,455.57 417.00,455.57 417.05,455.56 417.10,455.54 417.15,455.52 417.20,455.51 417.25,455.49 417.25,455.49 417.30,455.47 417.35,455.45 417.40,455.44 417.45,455.42 417.50,455.40 417.50,455.40 417.55,455.38 417.60,455.36 417.65,455.33 417.70,455.31 417.75,455.29 417.75,455.29 417.80,455.26 417.85,455.24 417.90,455.21 417.95,455.19 418.00,455.16 418.00,455.16 418.05,455.13 418.10,455.10 418.15,455.07 418.20,455.04 418.25,455.01 418.25,455.01 418.30,454.97 418.35,454.94 418.40,454.90 418.45,454.86 418.50,454.82 418.50,454.82 418.55,454.78 418.60,454.74 418.65,454.69 418.70,454.65 418.75,454.60 418.75,454.60 418.80,454.54 418.85,454.49 418.90,454.43 418.95,454.37 419.00,454.31 419.00,454.31 419.05,454.24 419.10,454.17 419.15,454.10 419.20,454.02 419.25,453.94 419.25,453.94 419.30,453.85 419.35,453.76 419.40,453.67 419.45,453.56 419.50,453.46 419.50,453.46 419.55,453.35 419.60,453.23 419.65,453.10 419.70,452.97 419.75,452.84 419.75,452.84 419.80,452.70 419.85,452.55 419.90,452.39 419.95,452.23 420.00,452.07 420.00,452.07 420.05,451.90 420.10,451.73 420.15,451.56 420.20,451.40 420.25,451.23 420.25,451.23 420.30,451.07 420.35,450.92 420.40,450.79 420.45,450.66 420.50,450.56 420.50,450.56 420.55,450.47 420.60,450.41 420.65,450.37 420.70,450.36 420.75,450.37 420.75,450.37 420.80,450.41 420.85,450.47 420.90,450.56 420.95,450.66 421.00,450.79 421.00,450.79 421.05,450.92 421.10,451.07 421.15,451.23 421.20,451.40 421.25,451.56 421.25,451.56 421.30,451.73 421.35,451.90 421.40,452.07 421.45,452.23 421.50,452.39 421.50,452.39 421.55,452.55 421.60,452.70 421.65,452.84 421.70,452.97 421.75,453.10 421.75,453.10 421.80,453.23 421.85,453.35 421.90,453.46 421.95,453.56 422.00,453.67 422.00,453.67 422.05,453.76 422.10,453.85 422.15,453.94 422.20,454.02 422.25,454.10 422.25,454.10 422.30,454.17 422.35,454.24 422.40,454.31 422.45,454.37 422.50,454.43 422.50,454.43 422.55,454.49 422.60,454.54 422.65,454.60 422.70,454.65 422.75,454.69 422.75,454.69 422.80,454.74 422.85,454.78 422.90,454.82 422.95,454.86 423.00,454.90 423.00,454.90 423.05,454.94 423.10,454.97 423.15,455.01 423.20,455.04 423.25,455.07 423.25,455.07 423.30,455.10 423.35,455.13 423.40,455.16 423.45,455.19 423.50,455.21 423.50,455.21 423.55,455.24 423.60,455.26 423.65,455.29 423.70,455.31 423.75,455.33 423.75,455.33 423.80,455.36 423.85,455.38 423.90,455.40 423.95,455.42 424.00,455.44 424.00,455.44 424.05,455.45 424.10,455.47 424.15,455.49 424.20,455.51 424.25,455.52 424.25,455.52 424.30,455.54 424.35,455.56 424.40,455.57 424.45,455.59 424.50,455.60 424.50,455.60 424.55,455.62 424.60,455.63 424.65,455.64 424.75,455.67 425.00,455.73 425.25,455.78 425.50,455.83 425.75,455.87 426.00,455.91 426.25,455.95 426.50,455.98 426.75,456.01 427.00,456.04 427.25,456.06 427.50,456.08 427.75,456.10 428.00,456.12 428.25,456.14 428.50,456.15 428.75,456.17 429.00,456.18 429.25,456.20 429.50,456.21 429.75,456.22 430.00,456.23 430.25,456.24 430.50,456.25 430.75,456.26 431.00,456.26 431.25,456.27 431.50,456.28 431.75,456.28 432.00,456.29 432.25,456.30 432.50,456.30 432.75,456.31 433.00,456.31 433.25,456.32 433.50,456.32 433.75,456.32 434.00,456.33 434.25,456.33 434.50,456.34 434.75,456.34 435.00,456.34 435.25,456.35 435.50,456.35 435.75,456.35 436.00,456.35 436.25,456.36 436.50,456.36 436.75,456.36 437.00,456.36 437.25,456.37 437.50,456.37 437.75,456.37 438.00,456.37 438.25,456.37 438.50,456.37 438.75,456.38 439.00,456.38 439.25,456.38 439.50,456.38 439.75,456.38 440.00,456.38 440.25,456.38 440.50,456.39 440.75,456.39 441.00,456.39 441.25,456.39 441.50,456.39 441.75,456.39 442.00,456.39 442.25,456.39 442.50,456.39 442.75,456.39 443.00,456.40 443.25,456.40 443.50,456.40 443.75,456.40 444.00,456.40 444.25,456.40 444.50,456.40 444.75,456.40 445.00,456.40 445.25,456.40 445.50,456.40 445.75,456.40 446.00,456.40 446.25,456.40 446.50,456.41 446.75,456.41 447.00,456.41 447.25,456.41 447.50,456.41 447.75,456.41 448.00,456.41 448.25,456.41 448.50,456.41 448.75,456.41 449.00,456.41 449.25,456.41 449.50,456.41 449.75,456.41 450.00,456.41 450.25,456.41 450.50,456.41 450.75,456.41 451.00,456.41 451.25,456.41 451.50,456.41 451.75,456.41 452.00,456.41 452.25,456.41 452.50,456.41 452.75,456.41 453.00,456.41 453.25,456.42 453.50,456.42 453.75,456.42 454.00,456.42 454.25,456.42 454.50,456.42 454.75,456.42 455.00,456.42 455.25,456.42 455.50,456.42 455.75,456.42 456.00,456.42 456.25,456.42 456.50,456.42 456.75,456.42 457.00,456.42 457.25,456.42 457.50,456.42 457.75,456.42 458.00,456.42 458.25,456.42 458.50,456.42 458.75,456.42 459.00,456.42 459.25,456.42 459.50,456.42 459.75,456.42 460.00,456.42 460.25,456.42 460.50,456.42 460.75,456.42 461.00,456.42 461.25,456.42 461.50,456.42 461.75,456.42 462.00,456.42 462.25,456.42 462.50,456.42 462.75,456.42 463.00,456.42 463.25,456.42 463.50,456.42 463.75,456.42 464.00,456.42 464.25,456.42 464.50,456.42 464.75,456.42 465.00,456.42 465.25,456.42 465.50,456.42 465.75,456.42 466.00,456.42 466.25,456.42 466.50,456.42 466.75,456.42 467.00,456.42 467.25,456.42 467.50,456.42 467.75,456.42 468.00,456.42 468.25,456.42 468.50,456.42 468.75,456.42 469.00,456.42 469.25,456.42 469.50,456.42 469.75,456.42 470.00,456.42 470.25,456.42 470.50,456.42 470.75,456.42 471.00,456.42 471.25,456.42 471.50,456.42 471.75,456.42 472.00,456.42 472.25,456.42 472.50,456.41 472.75,456.41 473.00,456.41 473.25,456.41 473.50,456.41 473.75,456.41 474.00,456.41 474.25,456.41 474.50,456.41 474.75,456.41 475.00,456.41 475.25,456.41 475.50,456.41 475.75,456.41 476.00,456.41 476.25,456.41 476.50,456.41 476.75,456.41 477.00,456.41 477.25,456.41 477.50,456.41 477.75,456.40 478.00,456.40 478.25,456.40 478.50,456.40 478.75,456.40 479.00,456.40 479.25,456.40 479.50,456.40 479.75,456.40 480.00,456.40 480.25,456.40 480.50,456.39 480.75,456.39 481.00,456.39 481.25,456.39 481.50,456.39 481.75,456.39 482.00,456.39 482.25,456.38 482.50,456.38 482.75,456.38 483.00,456.38 483.25,456.38 483.50,456.37 483.75,456.37 484.00,456.37 484.25,456.37 484.50,456.36 484.75,456.36 485.00,456.36 485.25,456.35 485.50,456.35 485.75,456.35 486.00,456.34 486.25,456.34 486.50,456.33 486.75,456.33 487.00,456.32 487.25,456.32 487.50,456.31 487.75,456.30 488.00,456.29 488.25,456.29 488.50,456.28 488.75,456.27 489.00,456.25 489.25,456.24 489.50,456.23 489.75,456.21 490.00,456.20 490.25,456.18 490.50,456.16 490.75,456.13 491.00,456.10 491.25,456.07 491.50,456.04 491.75,456.00 492.00,455.96 492.05,455.95 492.10,455.94 492.15,455.93 492.20,455.92 492.25,455.90 492.25,455.90 492.30,455.89 492.35,455.88 492.40,455.87 492.45,455.86 492.50,455.84 492.50,455.84 492.55,455.83 492.60,455.82 492.65,455.81 492.70,455.79 492.75,455.78 492.75,455.78 492.80,455.76 492.85,455.75 492.90,455.73 492.95,455.71 493.00,455.70 493.00,455.70 493.05,455.68 493.10,455.66 493.15,455.64 493.20,455.62 493.25,455.61 493.25,455.61 493.30,455.59 493.35,455.56 493.40,455.54 493.45,455.52 493.50,455.50 493.50,455.50 493.55,455.48 493.60,455.45 493.65,455.43 493.70,455.40 493.75,455.38 493.75,455.38 493.80,455.35 493.85,455.32 493.90,455.29 493.95,455.27 494.00,455.24 494.00,455.24 494.05,455.21 494.10,455.17 494.15,455.14 494.20,455.11 494.25,455.08 494.25,455.08 494.30,455.04 494.35,455.01 494.40,454.97 494.45,454.94 494.50,454.90 494.50,454.90 494.55,454.86 494.60,454.83 494.65,454.79 494.70,454.75 494.75,454.71 494.75,454.71 494.80,454.67 494.85,454.63 494.90,454.59 494.95,454.55 495.00,454.52 495.00,454.52 495.05,454.48 495.10,454.44 495.15,454.40 495.20,454.37 495.25,454.33 495.25,454.33 495.30,454.30 495.35,454.27 495.40,454.23 495.45,454.20 495.50,454.18 495.50,454.18 495.55,454.15 495.60,454.13 495.65,454.11 495.70,454.09 495.75,454.07 495.75,454.07 495.80,454.06 495.85,454.05 495.90,454.04 495.95,454.04 496.00,454.04 496.00,454.04 496.05,454.04 496.10,454.04 496.15,454.05 496.20,454.06 496.25,454.07 496.25,454.07 496.30,454.09 496.35,454.11 496.40,454.13 496.45,454.15 496.50,454.18 496.50,454.18 496.55,454.20 496.60,454.23 496.65,454.27 496.70,454.30 496.75,454.33 496.75,454.33 496.80,454.37 496.85,454.40 496.90,454.44 496.95,454.48 497.00,454.52 497.00,454.52 497.05,454.55 497.10,454.59 497.15,454.63 497.20,454.67 497.25,454.71 497.25,454.71 497.30,454.75 497.35,454.79 497.40,454.83 497.45,454.86 497.50,454.90 497.50,454.90 497.55,454.94 497.60,454.97 497.65,455.01 497.70,455.04 497.75,455.08 497.75,455.08 497.80,455.11 497.85,455.14 497.90,455.17 497.95,455.21 498.00,455.24 498.00,455.24 498.05,455.27 498.10,455.29 498.15,455.32 498.20,455.35 498.25,455.38 498.25,455.38 498.30,455.40 498.35,455.43 498.40,455.45 498.45,455.48 498.50,455.50 498.50,455.50 498.55,455.52 498.60,455.54 498.65,455.57 498.70,455.59 498.75,455.61 498.75,455.61 498.80,455.63 498.85,455.64 498.90,455.66 498.95,455.68 499.00,455.70 499.00,455.70 499.05,455.71 499.10,455.73 499.15,455.75 499.20,455.76 499.25,455.78 499.25,455.78 499.30,455.79 499.35,455.81 499.40,455.82 499.45,455.83 499.50,455.85 499.50,455.85 499.55,455.86 499.60,455.87 499.65,455.88 499.70,455.89 499.75,455.90 499.75,455.90 499.80,455.92 499.85,455.93 499.90,455.94 499.95,455.95 500.00,455.96 500.25,456.00 500.50,456.04 500.75,456.08 501.00,456.11 501.25,456.13 501.50,456.16 501.75,456.18 502.00,456.20 502.25,456.21 502.50,456.23 502.75,456.24 503.00,456.26 503.25,456.27 503.50,456.28 503.75,456.29 504.00,456.30 504.25,456.30 504.50,456.31 504.75,456.32 505.00,456.32 505.25,456.33 505.50,456.33 505.75,456.34 506.00,456.34 506.25,456.35 506.50,456.35 506.75,456.36 507.00,456.36 507.25,456.36 507.50,456.37 507.75,456.37 508.00,456.37 508.25,456.37 508.50,456.38 508.75,456.38 509.00,456.38 509.25,456.38 509.50,456.39 509.75,456.39 510.00,456.39 510.25,456.39 510.50,456.39 510.75,456.39 511.00,456.40 511.25,456.40 511.50,456.40 511.75,456.40 512.00,456.40 512.25,456.40 512.50,456.40 512.75,456.40 513.00,456.40 513.25,456.41 513.50,456.41 513.75,456.41 514.00,456.41 514.25,456.41 514.50,456.41 514.75,456.41 515.00,456.41 515.25,456.41 515.50,456.41 515.75,456.41 516.00,456.41 516.25,456.41 516.50,456.41 516.75,456.42 517.00,456.42 517.25,456.42 517.50,456.42 517.75,456.42 518.00,456.42 518.25,456.42 518.50,456.42 518.75,456.42 519.00,456.42 519.25,456.42 519.50,456.42 519.75,456.42 520.00,456.42 520.25,456.42 520.50,456.42 520.75,456.42 521.00,456.42 521.25,456.42 521.50,456.42 521.75,456.42 522.00,456.42 522.25,456.42 522.50,456.42 522.75,456.42 523.00,456.42 523.25,456.42 523.50,456.43 523.75,456.43" fill="none" stroke="#ff0000" stroke-width="2" stroke-linejoin="round"/>
<text transform="translate(52.69,272.10) scale(0.8410,1)" font-size="20.45" fill="#000" stroke="#000" stroke-width="0.25">120</text>
<text transform="translate(61.29,320.10) scale(0.8410,1)" font-size="20.45" fill="#000" stroke="#000" stroke-width="0.25">90</text>
<text transform="translate(61.29,368.10) scale(0.8410,1)" font-size="20.45" fill="#000" stroke="#000" stroke-width="0.25">60</text>
<text transform="translate(61.29,416.10) scale(0.8410,1)" font-size="20.45" fill="#000" stroke="#000" stroke-width="0.25">30</text>
<text transform="translate(69.89,464.10) scale(0.8410,1)" font-size="20.45" fill="#000" stroke="#000" stroke-width="0.25">0</text>
<text transform="translate(78.56,479.00) scale(0.8429,1)" font-size="21.05" fill="#000" stroke="#000" stroke-width="0.25">0</text>
<text transform="translate(157.85,479.00) scale(0.8429,1)" font-size="21.05" fill="#000" stroke="#000" stroke-width="0.25">200</text>
<text transform="translate(246.27,479.00) scale(0.8429,1)" font-size="21.05" fill="#000" stroke="#000" stroke-width="0.25">400</text>
<text transform="translate(334.29,479.00) scale(0.8429,1)" font-size="21.05" fill="#000" stroke="#000" stroke-width="0.25">600</text>
<text transform="translate(422.49,479.00) scale(0.8429,1)" font-size="21.05" fill="#000" stroke="#000" stroke-width="0.25">800</text>
<text transform="translate(505.86,479.00) scale(0.8429,1)" font-size="21.05" fill="#000" stroke="#000" stroke-width="0.25">1000</text>
<text transform="translate(239.04,513.80) scale(0.8718,1)" font-size="25.19" fill="#000" stroke="#000" stroke-width="0.25">Frequency/Hz</text>
<text transform="translate(34.00,412.86) rotate(-90) scale(1,0.8546)" font-size="25.90" fill="#000" stroke="#000" stroke-width="0.25">Amplitude</text>
<text transform="translate(164.97,311.10) scale(0.7744,1)" font-size="18.65" fill="#0000ff" stroke="#0000ff" stroke-width="0.25">107</text>
<text transform="translate(157.21,355.90) scale(0.8330,1)" font-size="18.35" fill="#000" stroke="#000" stroke-width="0.25">298 Hz</text>
<text transform="translate(239.89,303.20) scale(0.8218,1)" font-size="18.65" fill="#000" stroke="#000" stroke-width="0.25">406 Hz</text>
<text transform="translate(311.78,284.90) scale(0.8424,1)" font-size="18.20" fill="#000" stroke="#000" stroke-width="0.25">529 Hz</text>
<text transform="translate(392.71,281.70) scale(0.8361,1)" font-size="18.20" fill="#000" stroke="#000" stroke-width="0.25">768 Hz</text>
<text transform="translate(469.45,302.90) scale(0.8335,1)" font-size="18.20" fill="#000" stroke="#000" stroke-width="0.25">939 Hz</text>
<text transform="translate(177.09,437.40) scale(0.9375,1)" font-size="16.39" fill="#ff0000" stroke="#ff0000" stroke-width="0.25">17</text>
<text transform="translate(93.39,409.50) scale(0.8395,1)" font-size="20.15" fill="#000" stroke="#000" stroke-width="0.25">Frequency</text>
<text transform="translate(97.72,433.70) scale(0.7574,1)" font-size="22.61" fill="#000" stroke="#000" stroke-width="0.25">spectrum</text>
<rect x="239.20" y="340.00" width="44.40" height="69.00" fill="none" stroke="#fff200" stroke-width="2.2" stroke-dasharray="2.7 1.1"/>
<rect x="252.70" y="438.60" width="15.80" height="17.40" fill="none" stroke="#fff200" stroke-width="2.2" stroke-dasharray="2.7 1.1"/>
<path d="M262.00,409.00V438.60" stroke="#fff200" stroke-width="2.2" stroke-dasharray="2.7 1.1"/>
<polyline points="239.80,398.40 240.52,397.94 241.50,397.34 242.67,396.63 243.96,395.83 245.29,394.98 246.59,394.10 247.78,393.23 248.80,392.40 249.67,391.59 250.48,390.76 251.23,389.92 251.93,389.06 252.58,388.19 253.19,387.31 253.76,386.41 254.30,385.50 254.79,384.59 255.23,383.69 255.62,382.78 255.97,381.85 256.29,380.89 256.60,379.89 256.90,378.83 257.20,377.70 257.50,376.45 257.77,375.07 258.03,373.62 258.27,372.12 258.51,370.65 258.74,369.24 258.97,367.94 259.20,366.80 259.42,365.75 259.63,364.72 259.84,363.74 260.04,362.86 260.24,362.10 260.45,361.51 260.67,361.14 260.90,361.00 261.15,361.14 261.41,361.51 261.68,362.10 261.95,362.86 262.23,363.74 262.52,364.72 262.81,365.75 263.10,366.80 263.39,367.94 263.67,369.24 263.95,370.65 264.24,372.13 264.55,373.62 264.87,375.07 265.22,376.45 265.60,377.70 266.01,378.84 266.43,379.91 266.87,380.93 267.34,381.91 267.83,382.84 268.35,383.75 268.91,384.63 269.50,385.50 270.13,386.35 270.79,387.19 271.48,388.00 272.20,388.77 272.95,389.52 273.74,390.23 274.55,390.89 275.40,391.50 276.35,392.07 277.42,392.61 278.56,393.11 279.72,393.57 280.83,393.99 281.83,394.35 282.68,394.66 283.30,394.90" fill="none" stroke="#4457ff" stroke-width="1.7" stroke-linejoin="round"/>
<polyline points="240.00,402.40 240.78,402.28 241.83,402.12 243.08,401.93 244.47,401.72 245.91,401.50 247.32,401.27 248.65,401.03 249.80,400.80 250.82,400.57 251.80,400.32 252.73,400.06 253.61,399.80 254.45,399.54 255.25,399.28 256.00,399.03 256.70,398.80 257.34,398.56 257.91,398.31 258.42,398.05 258.89,397.81 259.33,397.58 259.77,397.40 260.22,397.27 260.70,397.20 261.18,397.20 261.64,397.25 262.08,397.35 262.53,397.49 263.00,397.67 263.49,397.86 264.02,398.08 264.60,398.30 265.19,398.55 265.77,398.84 266.36,399.15 266.99,399.49 267.69,399.83 268.49,400.17 269.42,400.50 270.50,400.80 271.86,401.10 273.51,401.40 275.36,401.71 277.27,402.01 279.13,402.28 280.84,402.53 282.27,402.74 283.30,402.90" fill="none" stroke="#ff1a1a" stroke-width="1.6" stroke-linejoin="round"/>
<ellipse cx="260.70" cy="360.40" rx="5.10" ry="5.50" fill="#0000ff"/>
<ellipse cx="260.70" cy="391.90" rx="5.00" ry="5.50" fill="#ff0000"/>
<path d="M254.70,332.00L260.00,355.00" stroke="#333" stroke-width="1"/>
<path d="M260.70,397.90L253.20,409.50" stroke="#333" stroke-width="1"/>
<text transform="translate(239.87,331.60) scale(0.9272,1)" font-size="17.14" fill="#0000ff" stroke="#0000ff" stroke-width="0.25">7.5</text>
<text transform="translate(234.56,427.00) scale(0.9278,1)" font-size="16.99" fill="#ff0000" stroke="#ff0000" stroke-width="0.25">1.2</text>
<rect x="305.60" y="322.20" width="52.00" height="78.00" fill="none" stroke="#fff200" stroke-width="2.2" stroke-dasharray="2.7 1.1"/>
<rect x="306.20" y="438.60" width="16.00" height="17.40" fill="none" stroke="#fff200" stroke-width="2.2" stroke-dasharray="2.7 1.1"/>
<path d="M314.30,400.20V438.60" stroke="#fff200" stroke-width="2.2" stroke-dasharray="2.7 1.1"/>
<polyline points="308.20,381.90 308.71,381.64 309.39,381.33 310.20,380.95 311.09,380.52 312.05,380.04 313.03,379.50 313.99,378.92 314.90,378.30 315.80,377.62 316.76,376.88 317.73,376.09 318.71,375.25 319.66,374.37 320.58,373.47 321.43,372.54 322.20,371.60 322.89,370.65 323.51,369.68 324.08,368.69 324.61,367.67 325.09,366.62 325.55,365.52 325.98,364.39 326.40,363.20 326.79,361.95 327.15,360.63 327.48,359.26 327.78,357.86 328.06,356.43 328.32,355.00 328.56,353.59 328.80,352.20 329.01,350.79 329.19,349.34 329.35,347.86 329.49,346.39 329.62,344.97 329.77,343.63 329.92,342.39 330.10,341.30 330.30,340.30 330.51,339.33 330.74,338.44 330.97,337.64 331.20,336.97 331.44,336.45 331.67,336.12 331.90,336.00 332.12,336.12 332.35,336.45 332.57,336.97 332.80,337.64 333.02,338.44 333.25,339.33 333.47,340.30 333.70,341.30 333.92,342.39 334.12,343.63 334.32,344.97 334.53,346.39 334.74,347.86 334.97,349.34 335.22,350.79 335.50,352.20 335.81,353.59 336.14,355.00 336.48,356.43 336.84,357.86 337.23,359.26 337.63,360.63 338.05,361.95 338.50,363.20 338.95,364.39 339.41,365.54 339.89,366.64 340.38,367.71 340.91,368.73 341.48,369.72 342.11,370.68 342.80,371.60 343.57,372.49 344.42,373.35 345.32,374.17 346.27,374.95 347.24,375.70 348.21,376.40 349.17,377.07 350.10,377.70 351.05,378.29 352.08,378.86 353.12,379.39 354.16,379.88 355.13,380.32 356.01,380.71 356.75,381.04 357.30,381.30" fill="none" stroke="#4457ff" stroke-width="1.7" stroke-linejoin="round"/>
<polyline points="308.20,387.40 309.01,387.32 310.09,387.23 311.39,387.12 312.82,386.99 314.32,386.83 315.81,386.65 317.23,386.44 318.50,386.20 319.67,385.90 320.84,385.56 321.98,385.17 323.09,384.76 324.16,384.34 325.17,383.93 326.12,383.54 327.00,383.20 327.79,382.86 328.48,382.50 329.11,382.14 329.68,381.79 330.23,381.50 330.77,381.27 331.32,381.13 331.90,381.10 332.49,381.21 333.05,381.43 333.60,381.75 334.15,382.13 334.72,382.55 335.33,382.99 335.98,383.42 336.70,383.80 337.45,384.18 338.21,384.58 338.99,385.00 339.82,385.42 340.71,385.82 341.69,386.20 342.78,386.53 344.00,386.80 345.47,387.01 347.21,387.17 349.13,387.30 351.11,387.39 353.02,387.46 354.77,387.51 356.23,387.55 357.30,387.60" fill="none" stroke="#ff1a1a" stroke-width="1.6" stroke-linejoin="round"/>
<ellipse cx="331.90" cy="334.30" rx="5.10" ry="5.70" fill="#0000ff"/>
<ellipse cx="331.90" cy="375.90" rx="5.00" ry="5.50" fill="#ff0000"/>
<path d="M329.00,315.90L331.50,328.60" stroke="#333" stroke-width="1"/>
<path d="M334.90,380.10L344.90,400.20" stroke="#333" stroke-width="1"/>
<text transform="translate(310.99,313.60) scale(0.8478,1)" font-size="18.05" fill="#0000ff" stroke="#0000ff" stroke-width="0.25">8.5</text>
<text transform="translate(338.99,420.10) scale(0.7881,1)" font-size="18.05" fill="#ff0000" stroke="#ff0000" stroke-width="0.25">1.3</text>
<rect x="384.50" y="286.60" width="61.40" height="96.20" fill="none" stroke="#fff200" stroke-width="2.2" stroke-dasharray="2.7 1.1"/>
<rect x="408.80" y="413.50" width="24.00" height="42.20" fill="none" stroke="#fff200" stroke-width="2.2" stroke-dasharray="2.7 1.1"/>
<path d="M421.40,382.80V413.50" stroke="#fff200" stroke-width="2.2" stroke-dasharray="2.7 1.1"/>
<polyline points="385.30,364.90 385.80,364.69 386.43,364.45 387.18,364.16 388.04,363.82 388.97,363.44 389.97,362.99 391.02,362.48 392.10,361.90 393.27,361.25 394.59,360.52 395.99,359.73 397.44,358.88 398.89,357.99 400.28,357.05 401.56,356.09 402.70,355.10 403.70,354.07 404.61,352.99 405.45,351.86 406.22,350.69 406.94,349.51 407.60,348.33 408.22,347.15 408.80,346.00 409.33,344.87 409.80,343.76 410.22,342.65 410.59,341.54 410.92,340.42 411.23,339.28 411.52,338.11 411.80,336.90 412.06,335.67 412.30,334.43 412.50,333.17 412.69,331.88 412.85,330.56 413.01,329.20 413.16,327.78 413.30,326.30 413.43,324.68 413.54,322.90 413.63,321.03 413.72,319.13 413.80,317.28 413.89,315.54 413.99,313.99 414.10,312.70 414.23,311.62 414.37,310.68 414.52,309.87 414.67,309.21 414.83,308.68 414.98,308.31 415.14,308.08 415.30,308.00 415.46,308.08 415.63,308.31 415.80,308.68 415.97,309.21 416.14,309.87 416.30,310.68 416.46,311.62 416.60,312.70 416.72,313.99 416.83,315.54 416.92,317.28 417.01,319.13 417.11,321.03 417.21,322.90 417.34,324.68 417.50,326.30 417.68,327.78 417.88,329.20 418.09,330.56 418.32,331.88 418.56,333.17 418.82,334.43 419.10,335.67 419.40,336.90 419.70,338.11 420.00,339.28 420.31,340.42 420.64,341.54 421.00,342.65 421.41,343.76 421.87,344.87 422.40,346.00 422.98,347.15 423.60,348.33 424.26,349.51 424.97,350.69 425.75,351.86 426.59,352.99 427.50,354.07 428.50,355.10 429.64,356.09 430.94,357.07 432.35,358.02 433.81,358.93 435.26,359.78 436.67,360.57 437.96,361.28 439.10,361.90 440.11,362.42 441.06,362.85 441.95,363.19 442.76,363.47 443.49,363.70 444.13,363.89 444.67,364.05 445.10,364.20" fill="none" stroke="#4457ff" stroke-width="1.7" stroke-linejoin="round"/>
<polyline points="385.30,369.50 386.31,369.40 387.67,369.27 389.29,369.12 391.09,368.94 392.96,368.75 394.83,368.52 396.61,368.27 398.20,368.00 399.66,367.70 401.11,367.36 402.52,367.00 403.90,366.61 405.23,366.21 406.49,365.78 407.69,365.35 408.80,364.90 409.83,364.37 410.77,363.73 411.64,363.04 412.46,362.35 413.22,361.72 413.94,361.22 414.63,360.89 415.30,360.80 415.89,360.99 416.38,361.44 416.79,362.06 417.19,362.81 417.60,363.61 418.08,364.40 418.66,365.12 419.40,365.70 420.25,366.18 421.15,366.62 422.12,367.03 423.17,367.41 424.32,367.77 425.58,368.10 426.97,368.41 428.50,368.70 430.33,368.97 432.51,369.22 434.91,369.44 437.37,369.64 439.76,369.81 441.94,369.97 443.77,370.09 445.10,370.20" fill="none" stroke="#ff1a1a" stroke-width="1.6" stroke-linejoin="round"/>
<ellipse cx="415.30" cy="305.80" rx="4.90" ry="5.60" fill="#0000ff"/>
<ellipse cx="415.30" cy="355.80" rx="4.90" ry="5.80" fill="#ff0000"/>
<path d="M401.20,300.50L411.00,307.40" stroke="#333" stroke-width="1"/>
<path d="M412.50,361.20L402.90,386.20" stroke="#333" stroke-width="1"/>
<text transform="translate(373.01,303.50) scale(0.9004,1)" font-size="17.14" fill="#0000ff" stroke="#0000ff" stroke-width="0.25">25.8</text>
<text transform="translate(390.52,402.20) scale(0.7815,1)" font-size="18.05" fill="#ff0000" stroke="#ff0000" stroke-width="0.25">4.1</text>
<rect x="460.80" y="339.80" width="52.00" height="71.40" fill="none" stroke="#fff200" stroke-width="2.2" stroke-dasharray="2.7 1.1"/>
<rect x="486.00" y="436.00" width="17.00" height="20.80" fill="none" stroke="#fff200" stroke-width="2.2" stroke-dasharray="2.7 1.1"/>
<path d="M496.80,411.20V436.00" stroke="#fff200" stroke-width="2.2" stroke-dasharray="2.7 1.1"/>
<polyline points="461.70,392.90 461.97,392.83 462.30,392.76 462.70,392.67 463.16,392.57 463.66,392.44 464.21,392.29 464.79,392.11 465.40,391.90 466.07,391.67 466.82,391.43 467.62,391.17 468.45,390.88 469.30,390.55 470.13,390.17 470.94,389.72 471.70,389.20 472.42,388.60 473.14,387.93 473.85,387.20 474.54,386.41 475.21,385.58 475.85,384.71 476.44,383.82 477.00,382.90 477.50,381.94 477.96,380.93 478.38,379.87 478.76,378.79 479.13,377.68 479.48,376.58 479.84,375.48 480.20,374.40 480.57,373.31 480.93,372.17 481.28,371.01 481.63,369.86 481.97,368.75 482.29,367.70 482.60,366.74 482.90,365.90 483.18,365.14 483.43,364.42 483.67,363.76 483.89,363.17 484.12,362.69 484.34,362.32 484.56,362.08 484.80,362.00 485.04,362.08 485.27,362.32 485.50,362.69 485.73,363.18 485.97,363.76 486.23,364.42 486.50,365.14 486.80,365.90 487.13,366.74 487.48,367.70 487.85,368.75 488.23,369.86 488.62,371.01 489.02,372.17 489.41,373.31 489.80,374.40 490.17,375.48 490.52,376.59 490.86,377.71 491.21,378.82 491.57,379.91 491.97,380.96 492.41,381.97 492.90,382.90 493.45,383.78 494.04,384.61 494.68,385.41 495.34,386.16 496.04,386.87 496.75,387.53 497.47,388.14 498.20,388.70 498.94,389.20 499.69,389.64 500.45,390.04 501.23,390.38 502.03,390.68 502.86,390.95 503.72,391.19 504.60,391.40 505.58,391.57 506.68,391.69 507.83,391.77 509.00,391.82 510.12,391.85 511.13,391.86 511.97,391.88 512.60,391.90" fill="none" stroke="#4457ff" stroke-width="1.7" stroke-linejoin="round"/>
<polyline points="461.70,398.30 462.31,398.23 463.11,398.14 464.06,398.04 465.12,397.92 466.25,397.78 467.40,397.61 468.53,397.42 469.60,397.20 470.65,396.93 471.73,396.62 472.83,396.27 473.93,395.89 475.03,395.52 476.09,395.15 477.12,394.81 478.10,394.50 479.03,394.20 479.92,393.89 480.78,393.57 481.61,393.28 482.42,393.03 483.20,392.83 483.96,392.72 484.70,392.70 485.39,392.80 486.03,393.01 486.62,393.31 487.20,393.66 487.78,394.04 488.40,394.42 489.06,394.79 489.80,395.10 490.56,395.38 491.31,395.66 492.08,395.93 492.89,396.20 493.78,396.46 494.78,396.72 495.91,396.96 497.20,397.20 498.80,397.43 500.73,397.67 502.86,397.91 505.06,398.13 507.21,398.34 509.17,398.52 510.81,398.68 512.00,398.80" fill="none" stroke="#ff1a1a" stroke-width="1.6" stroke-linejoin="round"/>
<ellipse cx="484.70" cy="359.30" rx="5.00" ry="5.50" fill="#0000ff"/>
<ellipse cx="484.70" cy="387.10" rx="5.00" ry="5.70" fill="#ff0000"/>
<path d="M482.50,336.80L485.20,352.30" stroke="#333" stroke-width="1"/>
<path d="M480.70,391.90L470.90,416.30" stroke="#333" stroke-width="1"/>
<text transform="translate(467.26,335.20) scale(0.9026,1)" font-size="16.09" fill="#0000ff" stroke="#0000ff" stroke-width="0.25">9.4</text>
<text transform="translate(458.76,428.70) scale(0.9311,1)" font-size="16.99" fill="#ff0000" stroke="#ff0000" stroke-width="0.25">1.5</text>
<ellipse cx="212.60" cy="284.00" rx="5.20" ry="6.00" fill="#0000ff"/>
<path d="M190.20,300.20L207.80,283.60" stroke="#333" stroke-width="1"/>
<ellipse cx="212.70" cy="434.70" rx="4.90" ry="5.40" fill="#ff0000"/>
<path d="M194.80,430.90L207.80,435.80" stroke="#333" stroke-width="1"/>
</svg></body></html>
